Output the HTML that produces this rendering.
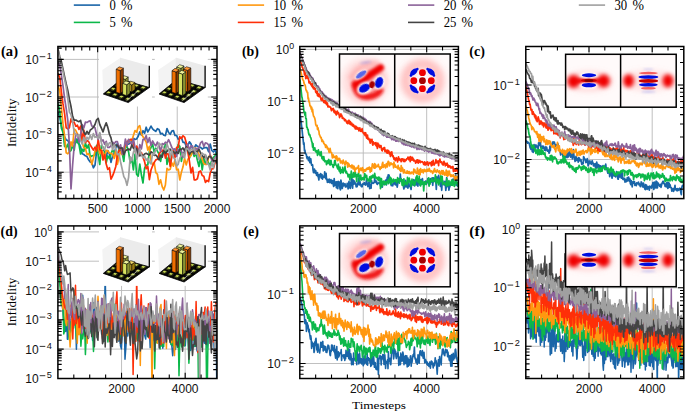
<!DOCTYPE html>
<html><head><meta charset="utf-8"><style>
html,body{margin:0;padding:0;background:#fff;}
svg{display:block;}
</style></head><body>
<svg width="685" height="411" viewBox="0 0 685 411">
<rect width="685" height="411" fill="#fff"/>
<g stroke="#b9b9b9" stroke-width="0.9"><line x1="97.67" y1="46.5" x2="97.67" y2="198.6"/><line x1="137.45" y1="46.5" x2="137.45" y2="198.6"/><line x1="177.22" y1="46.5" x2="177.22" y2="198.6"/><line x1="57.9" y1="172.2" x2="217" y2="172.2"/><line x1="57.9" y1="134.6" x2="217" y2="134.6"/><line x1="57.9" y1="97" x2="217" y2="97"/><line x1="57.9" y1="59.4" x2="217" y2="59.4"/></g><g stroke="#b9b9b9" stroke-width="0.9"><line x1="363.24" y1="46.5" x2="363.24" y2="198.6"/><line x1="426.68" y1="46.5" x2="426.68" y2="198.6"/><line x1="299.8" y1="153" x2="458.4" y2="153"/><line x1="299.8" y1="101.2" x2="458.4" y2="101.2"/><line x1="299.8" y1="49.4" x2="458.4" y2="49.4"/></g><g stroke="#b9b9b9" stroke-width="0.9"><line x1="589" y1="46.5" x2="589" y2="198.6"/><line x1="652.2" y1="46.5" x2="652.2" y2="198.6"/><line x1="525.8" y1="159.5" x2="683.8" y2="159.5"/><line x1="525.8" y1="85" x2="683.8" y2="85"/></g><g stroke="#b9b9b9" stroke-width="0.9"><line x1="121.54" y1="225.9" x2="121.54" y2="378.5"/><line x1="185.18" y1="225.9" x2="185.18" y2="378.5"/><line x1="57.9" y1="349.1" x2="217" y2="349.1"/><line x1="57.9" y1="319.8" x2="217" y2="319.8"/><line x1="57.9" y1="290.5" x2="217" y2="290.5"/><line x1="57.9" y1="261.2" x2="217" y2="261.2"/><line x1="57.9" y1="231.9" x2="217" y2="231.9"/></g><g stroke="#b9b9b9" stroke-width="0.9"><line x1="363.24" y1="225.9" x2="363.24" y2="378.5"/><line x1="426.68" y1="225.9" x2="426.68" y2="378.5"/><line x1="299.8" y1="363.5" x2="458.4" y2="363.5"/><line x1="299.8" y1="294" x2="458.4" y2="294"/></g><g stroke="#b9b9b9" stroke-width="0.9"><line x1="589" y1="225.9" x2="589" y2="378.5"/><line x1="652.2" y1="225.9" x2="652.2" y2="378.5"/><line x1="525.8" y1="346.3" x2="683.8" y2="346.3"/><line x1="525.8" y1="287.8" x2="683.8" y2="287.8"/><line x1="525.8" y1="229.3" x2="683.8" y2="229.3"/></g><clipPath id="cpa"><rect x="57.9" y="46.5" width="159.1" height="152.1"/></clipPath><g clip-path="url(#cpa)" fill="none" stroke-width="1.7" stroke-linejoin="round" stroke-linecap="round"><path d="M58.2,113.0 59.8,117.0 61.4,125.8 63.0,130.7 64.6,137.0 66.2,140.0 67.8,140.3 69.4,144.3 71.0,143.5 72.6,143.0 74.2,141.9 75.8,142.9 77.4,139.2 79.0,143.3 80.6,146.9 82.2,153.8 83.8,154.5 85.4,155.8 87.0,156.6 88.6,159.8 90.2,161.9 91.8,162.5 93.4,167.8 95.0,165.1 96.6,151.5 98.2,149.9 99.8,152.7 101.4,150.5 103.0,150.6 104.6,150.2 106.2,157.0 107.8,150.5 109.4,154.2 111.0,162.3 112.6,156.0 114.2,153.4 115.8,147.7 117.4,143.2 119.0,149.8 120.6,151.6 122.2,149.6 123.8,148.8 125.4,148.3 127.0,143.9 128.6,144.1 130.2,143.0 131.8,141.3 133.4,138.3 135.0,139.5 136.6,139.0 138.2,136.3 139.8,132.0 141.4,135.0 143.0,130.7 144.6,133.2 146.2,127.2 147.8,131.9 149.4,129.1 151.0,126.1 152.6,128.9 154.2,130.3 155.8,131.4 157.4,128.7 159.0,129.5 160.6,133.9 162.2,133.3 163.8,135.2 165.4,135.6 167.0,128.5 168.6,132.5 170.2,134.3 171.8,131.1 173.4,130.6 175.0,135.4 176.6,135.5 178.2,139.2 179.8,138.2 181.4,137.4 183.0,142.3 184.6,142.3 186.2,146.3 187.8,145.7 189.4,141.9 191.0,143.9 192.6,149.1 194.2,148.4 195.8,144.8 197.4,146.3 199.0,147.3 200.6,147.4 202.2,149.0 203.8,147.9 205.4,147.6 207.0,147.7 208.6,151.6 210.2,144.0 211.8,150.5 213.4,152.0 215.0,149.3 216.6,154.9" stroke="#1965a8"/><path d="M58.2,104.0 59.8,111.7 61.4,128.2 63.0,132.4 64.6,146.4 66.2,147.7 67.8,144.2 69.4,151.6 71.0,150.6 72.6,145.3 74.2,150.2 75.8,138.7 77.4,142.3 79.0,144.4 80.6,154.0 82.2,149.2 83.8,151.4 85.4,143.1 87.0,148.2 88.6,144.7 90.2,157.2 91.8,155.8 93.4,155.7 95.0,154.9 96.6,145.3 98.2,154.8 99.8,164.5 101.4,145.4 103.0,147.1 104.6,150.7 106.2,162.8 107.8,155.9 109.4,158.7 111.0,153.9 112.6,149.9 114.2,152.2 115.8,151.5 117.4,159.3 119.0,147.8 120.6,150.7 122.2,153.4 123.8,161.3 125.4,146.2 127.0,146.6 128.6,151.9 130.2,163.0 131.8,158.4 133.4,170.0 135.0,154.2 136.6,174.2 138.2,176.2 139.8,164.0 141.4,175.0 143.0,183.0 144.6,168.2 146.2,165.1 147.8,164.8 149.4,151.2 151.0,147.5 152.6,144.2 154.2,152.0 155.8,148.2 157.4,151.1 159.0,154.2 160.6,161.4 162.2,153.7 163.8,150.3 165.4,144.2 167.0,164.4 168.6,157.1 170.2,164.6 171.8,155.0 173.4,150.0 175.0,156.3 176.6,152.3 178.2,144.7 179.8,146.4 181.4,161.4 183.0,152.8 184.6,152.8 186.2,148.6 187.8,147.6 189.4,158.2 191.0,153.8 192.6,151.5 194.2,156.5 195.8,153.2 197.4,160.3 199.0,166.5 200.6,156.0 202.2,169.9 203.8,158.5 205.4,163.9 207.0,158.9 208.6,163.1 210.2,165.1 211.8,160.6 213.4,157.3 215.0,155.8 216.6,153.3" stroke="#0cb84a"/><path d="M58.2,86.0 59.8,91.3 61.4,107.6 63.0,123.7 64.6,136.1 66.2,152.8 67.8,153.8 69.4,151.7 71.0,141.8 72.6,146.0 74.2,129.1 75.8,130.5 77.4,133.9 79.0,135.9 80.6,137.7 82.2,142.5 83.8,147.8 85.4,148.3 87.0,154.6 88.6,153.7 90.2,157.1 91.8,164.5 93.4,158.2 95.0,150.9 96.6,147.9 98.2,147.0 99.8,154.0 101.4,149.8 103.0,152.6 104.6,157.6 106.2,150.4 107.8,150.9 109.4,153.2 111.0,153.3 112.6,154.2 114.2,158.4 115.8,149.9 117.4,164.3 119.0,157.0 120.6,151.6 122.2,154.5 123.8,152.6 125.4,146.3 127.0,141.7 128.6,142.4 130.2,139.4 131.8,140.7 133.4,135.5 135.0,130.6 136.6,132.2 138.2,127.0 139.8,125.7 141.4,133.6 143.0,136.8 144.6,139.1 146.2,142.2 147.8,150.1 149.4,146.3 151.0,160.7 152.6,164.7 154.2,162.6 155.8,172.6 157.4,174.2 159.0,184.3 160.6,179.9 162.2,186.6 163.8,190.0 165.4,185.0 167.0,168.3 168.6,170.0 170.2,169.2 171.8,162.8 173.4,166.2 175.0,159.6 176.6,169.8 178.2,169.2 179.8,180.0 181.4,172.2 183.0,166.8 184.6,158.4 186.2,164.9 187.8,159.5 189.4,157.0 191.0,155.7 192.6,150.7 194.2,147.7 195.8,148.2 197.4,149.2 199.0,158.4 200.6,153.1 202.2,159.3 203.8,163.6 205.4,164.5 207.0,164.3 208.6,157.3 210.2,154.5 211.8,158.9 213.4,161.7 215.0,159.3 216.6,156.7" stroke="#ff980f"/><path d="M58.2,74.0 59.8,77.7 61.4,91.8 63.0,103.9 64.6,113.7 66.2,127.8 67.8,128.8 69.4,127.7 71.0,118.8 72.6,122.6 74.2,122.2 75.8,126.2 77.4,125.2 79.0,129.4 80.6,126.1 82.2,141.0 83.8,130.1 85.4,142.6 87.0,140.6 88.6,141.5 90.2,144.9 91.8,147.5 93.4,150.1 95.0,147.1 96.6,151.0 98.2,139.5 99.8,149.5 101.4,150.6 103.0,160.0 104.6,154.5 106.2,164.0 107.8,169.5 109.4,167.7 111.0,179.1 112.6,175.9 114.2,171.6 115.8,166.4 117.4,155.0 119.0,150.6 120.6,148.8 122.2,150.6 123.8,149.6 125.4,143.2 127.0,142.2 128.6,140.2 130.2,139.6 131.8,139.4 133.4,141.9 135.0,151.7 136.6,146.0 138.2,149.4 139.8,154.5 141.4,152.6 143.0,157.1 144.6,161.7 146.2,168.7 147.8,166.4 149.4,179.6 151.0,170.0 152.6,165.8 154.2,162.5 155.8,159.9 157.4,159.2 159.0,154.3 160.6,151.7 162.2,151.3 163.8,149.0 165.4,158.2 167.0,153.7 168.6,154.1 170.2,166.4 171.8,156.6 173.4,150.5 175.0,157.7 176.6,147.3 178.2,147.3 179.8,136.7 181.4,138.5 183.0,135.8 184.6,137.1 186.2,142.6 187.8,151.9 189.4,161.2 191.0,172.9 192.6,167.4 194.2,179.9 195.8,179.9 197.4,178.7 199.0,171.8 200.6,171.0 202.2,175.5 203.8,176.3 205.4,182.4 207.0,180.4 208.6,181.7 210.2,173.0 211.8,168.8 213.4,168.6 215.0,163.1 216.6,157.9" stroke="#fe2f08"/><path d="M58.2,63.0 59.8,65.5 61.4,75.2 63.0,85.9 64.6,98.3 66.2,108.5 67.8,120.3 69.4,144.9 71.0,189.0 72.6,165.2 74.2,145.6 75.8,135.1 77.4,134.3 79.0,142.1 80.6,134.7 82.2,124.7 83.8,128.0 85.4,122.2 87.0,122.5 88.6,121.4 90.2,120.8 91.8,126.0 93.4,126.6 95.0,127.8 96.6,134.7 98.2,139.5 99.8,133.5 101.4,141.4 103.0,139.9 104.6,144.2 106.2,141.3 107.8,147.5 109.4,147.4 111.0,145.7 112.6,142.2 114.2,143.9 115.8,141.5 117.4,141.6 119.0,148.7 120.6,144.9 122.2,154.2 123.8,150.9 125.4,139.1 127.0,146.0 128.6,139.3 130.2,142.4 131.8,144.4 133.4,138.8 135.0,147.4 136.6,149.3 138.2,155.3 139.8,144.5 141.4,148.9 143.0,139.3 144.6,139.4 146.2,135.7 147.8,142.6 149.4,137.7 151.0,145.5 152.6,141.0 154.2,144.0 155.8,145.9 157.4,142.1 159.0,145.7 160.6,151.5 162.2,143.6 163.8,144.4 165.4,142.2 167.0,143.2 168.6,139.7 170.2,143.2 171.8,147.4 173.4,149.6 175.0,148.8 176.6,156.4 178.2,149.3 179.8,150.7 181.4,150.7 183.0,157.3 184.6,150.5 186.2,146.4 187.8,144.0 189.4,150.4 191.0,145.9 192.6,146.1 194.2,154.2 195.8,148.4 197.4,149.2 199.0,147.4 200.6,142.8 202.2,141.3 203.8,146.6 205.4,142.9 207.0,143.3 208.6,144.9 210.2,155.8 211.8,160.1 213.4,161.8 215.0,157.7 216.6,156.2" stroke="#8b6299"/><path d="M58.2,50.0 59.8,56.9 61.4,61.6 63.0,69.2 64.6,76.6 66.2,83.9 67.8,90.4 69.4,99.2 71.0,106.5 72.6,116.3 74.2,120.4 75.8,120.0 77.4,121.0 79.0,121.7 80.6,120.4 82.2,127.9 83.8,131.9 85.4,134.5 87.0,131.3 88.6,134.2 90.2,130.2 91.8,128.9 93.4,127.4 95.0,124.5 96.6,119.8 98.2,118.4 99.8,124.6 101.4,128.2 103.0,131.9 104.6,126.7 106.2,122.8 107.8,127.4 109.4,134.0 111.0,137.8 112.6,145.9 114.2,144.4 115.8,145.5 117.4,145.1 119.0,148.0 120.6,148.1 122.2,147.9 123.8,154.6 125.4,150.9 127.0,149.8 128.6,149.1 130.2,150.0 131.8,144.9 133.4,148.2 135.0,149.2 136.6,148.4 138.2,154.6 139.8,155.9 141.4,154.5 143.0,155.8 144.6,154.0 146.2,153.3 147.8,154.3 149.4,155.0 151.0,151.8 152.6,153.0 154.2,155.4 155.8,155.0 157.4,157.1 159.0,159.9 160.6,155.1 162.2,157.2 163.8,150.7 165.4,153.4 167.0,151.4 168.6,149.3 170.2,149.1 171.8,151.8 173.4,151.9 175.0,153.7 176.6,151.9 178.2,153.4 179.8,149.2 181.4,149.4 183.0,148.0 184.6,150.8 186.2,146.9 187.8,150.1 189.4,154.2 191.0,152.0 192.6,151.3 194.2,153.1 195.8,150.9 197.4,151.9 199.0,149.3 200.6,153.0 202.2,155.4 203.8,157.7 205.4,155.1 207.0,160.5 208.6,156.9 210.2,156.4 211.8,158.1 213.4,160.9 215.0,160.7 216.6,162.8" stroke="#444444"/><path d="M58.2,51.0 59.8,58.3 61.4,65.3 63.0,71.7 64.6,79.6 66.2,86.8 67.8,98.3 69.4,112.1 71.0,114.6 72.6,121.9 74.2,132.2 75.8,134.3 77.4,136.1 79.0,134.8 80.6,140.3 82.2,144.0 83.8,137.3 85.4,141.6 87.0,137.2 88.6,139.4 90.2,135.3 91.8,139.4 93.4,133.5 95.0,137.3 96.6,136.7 98.2,138.4 99.8,132.6 101.4,143.1 103.0,147.9 104.6,150.1 106.2,142.9 107.8,145.8 109.4,142.9 111.0,142.6 112.6,149.7 114.2,144.5 115.8,149.3 117.4,154.6 119.0,153.8 120.6,162.0 122.2,169.3 123.8,176.6 125.4,179.2 127.0,185.3 128.6,177.3 130.2,156.8 131.8,160.6 133.4,152.4 135.0,148.2 136.6,159.2 138.2,155.5 139.8,149.1 141.4,154.9 143.0,157.8 144.6,155.9 146.2,160.2 147.8,158.4 149.4,162.1 151.0,163.9 152.6,153.6 154.2,154.5 155.8,149.6 157.4,149.4 159.0,143.1 160.6,144.7 162.2,145.5 163.8,148.9 165.4,150.1 167.0,143.7 168.6,148.7 170.2,157.1 171.8,150.1 173.4,157.2 175.0,159.6 176.6,165.8 178.2,164.3 179.8,158.1 181.4,155.5 183.0,153.6 184.6,157.8 186.2,148.4 187.8,148.9 189.4,151.3 191.0,149.5 192.6,149.9 194.2,148.0 195.8,153.8 197.4,153.7 199.0,159.7 200.6,156.7 202.2,153.1 203.8,154.7 205.4,154.5 207.0,164.0 208.6,164.2 210.2,170.1 211.8,162.3 213.4,167.8 215.0,159.4 216.6,157.3" stroke="#a0a0a0"/></g><clipPath id="cpb"><rect x="299.8" y="46.5" width="158.59999999999997" height="152.1"/></clipPath><g clip-path="url(#cpb)" fill="none" stroke-width="1.7" stroke-linejoin="round" stroke-linecap="round"><path d="M300.0,112.0 300.4,116.2 300.9,120.3 301.3,123.6 301.8,127.5 302.2,131.1 302.7,136.1 303.1,139.3 303.6,144.3 304.0,142.7 304.5,151.0 304.9,150.0 305.4,153.7 305.8,153.8 306.3,154.3 306.7,157.1 307.2,158.7 307.6,156.8 308.1,157.7 308.5,160.7 309.0,157.8 309.4,157.1 309.9,162.7 310.3,161.0 310.8,158.9 311.2,163.0 311.7,165.2 312.1,164.6 312.6,165.0 313.0,169.8 313.5,172.6 313.9,170.2 314.4,169.1 314.8,172.0 315.3,173.0 315.7,170.7 316.2,173.2 316.6,175.3 317.1,173.1 317.5,172.6 318.0,176.5 318.4,177.2 318.9,180.0 319.3,174.6 319.8,176.5 320.2,176.0 320.7,173.5 321.1,177.8 321.6,178.2 322.0,174.5 322.5,179.1 322.9,177.3 323.4,176.5 323.8,175.8 324.3,177.2 324.7,171.9 325.2,177.4 325.6,178.3 326.1,173.4 326.5,179.7 327.0,179.1 327.4,182.3 327.9,179.7 328.3,181.1 328.8,182.1 329.2,179.0 329.7,182.6 330.1,180.7 330.6,182.1 331.0,179.5 331.5,183.5 331.9,182.4 332.4,180.5 332.8,182.8 333.3,184.7 333.7,186.5 334.2,178.6 334.6,185.3 335.1,184.8 335.5,183.8 336.0,181.8 336.4,187.8 336.9,181.9 337.3,186.7 337.8,188.6 338.2,181.3 338.7,184.4 339.1,181.8 339.6,185.6 340.0,188.6 340.5,189.8 340.9,180.1 341.4,183.0 341.8,186.2 342.3,188.5 342.7,185.8 343.2,183.1 343.6,185.8 344.1,185.1 344.5,184.7 345.0,183.7 345.4,186.8 345.9,187.1 346.3,186.3 346.8,186.1 347.2,183.3 347.7,184.9 348.1,188.9 348.6,185.0 349.0,181.4 349.5,187.7 349.9,185.0 350.4,188.3 350.8,182.7 351.3,181.0 351.7,178.3 352.2,185.1 352.6,188.2 353.1,179.9 353.5,180.6 354.0,184.2 354.4,181.1 354.9,182.8 355.3,182.9 355.8,184.4 356.2,186.9 356.7,184.3 357.1,186.6 357.6,183.1 358.0,184.7 358.5,178.2 358.9,179.5 359.4,184.8 359.8,181.1 360.3,184.0 360.7,184.1 361.2,186.4 361.6,185.7 362.1,186.8 362.5,184.6 363.0,183.6 363.4,183.7 363.9,184.3 364.3,182.6 364.8,183.8 365.2,184.6 365.7,185.0 366.1,183.1 366.6,178.9 367.0,183.5 367.5,184.3 367.9,186.6 368.4,185.4 368.8,182.3 369.3,182.0 369.7,188.6 370.2,185.2 370.6,187.6 371.1,188.1 371.5,180.5 372.0,183.2 372.4,183.1 372.9,183.3 373.3,183.3 373.8,182.5 374.2,182.6 374.7,178.5 375.1,181.9 375.6,180.5 376.0,182.7 376.5,181.2 376.9,183.8 377.4,184.3 377.8,183.2 378.3,183.4 378.7,183.1 379.2,182.2 379.6,183.5 380.1,183.3 380.5,186.0 381.0,185.4 381.4,186.9 381.9,182.0 382.3,187.2 382.8,182.8 383.2,182.6 383.7,183.8 384.1,182.7 384.6,184.5 385.0,181.9 385.5,180.2 385.9,180.1 386.4,184.8 386.8,180.8 387.3,177.0 387.7,179.2 388.2,174.8 388.6,183.1 389.1,175.2 389.5,180.9 390.0,182.0 390.4,178.1 390.9,183.3 391.3,185.7 391.8,184.7 392.2,184.3 392.7,185.8 393.1,183.6 393.6,183.6 394.0,182.2 394.5,184.0 394.9,180.2 395.4,184.8 395.8,181.8 396.3,180.5 396.7,184.1 397.2,187.1 397.6,184.7 398.1,180.2 398.5,182.4 399.0,178.9 399.4,179.4 399.9,179.9 400.3,174.1 400.8,181.1 401.2,178.9 401.7,180.7 402.1,179.7 402.6,180.3 403.0,182.3 403.5,186.9 403.9,189.0 404.4,184.7 404.8,187.4 405.3,184.2 405.7,180.3 406.2,185.7 406.6,186.8 407.1,184.9 407.5,187.0 408.0,188.0 408.4,184.7 408.9,183.3 409.3,186.5 409.8,186.3 410.2,185.5 410.7,188.3 411.1,189.5 411.6,183.2 412.0,185.1 412.5,184.7 412.9,183.4 413.4,183.6 413.8,179.7 414.3,182.5 414.7,185.9 415.2,183.2 415.6,179.8 416.1,183.1 416.5,184.9 417.0,182.9 417.4,180.7 417.9,186.1 418.3,179.2 418.8,183.7 419.2,182.5 419.7,179.5 420.1,185.5 420.6,183.4 421.0,179.7 421.5,184.3 421.9,182.0 422.4,178.6 422.8,181.9 423.3,184.3 423.7,184.9 424.2,183.2 424.6,182.4 425.1,183.0 425.5,181.1 426.0,184.4 426.4,181.8 426.9,182.1 427.3,182.7 427.8,178.6 428.2,179.3 428.7,184.6 429.1,181.2 429.6,179.2 430.0,180.6 430.5,178.7 430.9,181.1 431.4,179.3 431.8,182.2 432.3,177.9 432.7,185.3 433.2,180.6 433.6,177.8 434.1,181.1 434.5,180.5 435.0,181.6 435.4,178.1 435.9,181.6 436.3,189.4 436.8,176.8 437.2,180.6 437.7,178.9 438.1,180.2 438.6,175.4 439.0,177.4 439.5,182.1 439.9,181.6 440.4,186.4 440.8,181.1 441.3,183.5 441.7,190.3 442.2,181.1 442.6,180.6 443.1,182.7 443.5,182.6 444.0,184.9 444.4,183.3 444.9,181.3 445.3,184.0 445.8,190.5 446.2,187.4 446.7,177.6 447.1,184.5 447.6,182.9 448.0,186.8 448.5,185.0 448.9,190.2 449.4,187.4 449.8,186.8 450.3,184.4 450.7,183.1 451.2,183.2 451.6,184.7 452.1,182.0 452.5,179.3 453.0,183.0 453.4,180.2 453.9,179.7 454.3,178.2 454.8,179.3 455.2,179.7 455.7,175.0 456.1,185.1 456.6,184.4 457.0,182.7 457.5,186.0 457.9,184.5" stroke="#1965a8"/><path d="M300.0,80.0 300.4,84.0 300.9,88.0 301.3,92.1 301.8,96.8 302.2,98.1 302.7,101.8 303.1,104.0 303.6,108.4 304.0,112.0 304.5,112.3 304.9,115.1 305.4,112.3 305.8,118.7 306.3,118.7 306.7,127.2 307.2,127.4 307.6,129.7 308.1,129.3 308.5,132.8 309.0,134.9 309.4,134.3 309.9,135.0 310.3,137.2 310.8,137.6 311.2,139.3 311.7,141.7 312.1,142.3 312.6,147.2 313.0,143.5 313.5,150.1 313.9,147.9 314.4,149.0 314.8,147.9 315.3,151.2 315.7,151.2 316.2,152.2 316.6,150.5 317.1,151.7 317.5,155.3 318.0,152.0 318.4,149.9 318.9,153.8 319.3,152.1 319.8,154.6 320.2,155.6 320.7,154.2 321.1,151.7 321.6,156.0 322.0,158.7 322.5,156.9 322.9,158.9 323.4,160.2 323.8,156.7 324.3,160.7 324.7,161.6 325.2,160.6 325.6,161.2 326.1,161.5 326.5,164.7 327.0,160.8 327.4,161.2 327.9,163.3 328.3,160.5 328.8,159.5 329.2,161.4 329.7,164.5 330.1,165.0 330.6,160.8 331.0,160.3 331.5,164.1 331.9,164.5 332.4,164.9 332.8,166.4 333.3,167.4 333.7,164.7 334.2,165.1 334.6,160.8 335.1,160.3 335.5,163.5 336.0,164.9 336.4,165.7 336.9,166.2 337.3,167.7 337.8,168.8 338.2,164.0 338.7,167.2 339.1,170.6 339.6,171.5 340.0,167.1 340.5,173.3 340.9,169.7 341.4,170.1 341.8,171.2 342.3,172.3 342.7,167.4 343.2,172.9 343.6,170.9 344.1,169.2 344.5,170.7 345.0,166.7 345.4,170.5 345.9,172.8 346.3,171.3 346.8,172.6 347.2,173.5 347.7,174.4 348.1,176.9 348.6,174.8 349.0,174.5 349.5,176.4 349.9,179.9 350.4,174.3 350.8,176.0 351.3,171.1 351.7,177.6 352.2,176.0 352.6,177.7 353.1,174.7 353.5,172.6 354.0,177.0 354.4,176.8 354.9,173.3 355.3,172.1 355.8,176.6 356.2,175.4 356.7,181.7 357.1,174.5 357.6,174.9 358.0,176.1 358.5,172.9 358.9,175.0 359.4,180.9 359.8,177.2 360.3,176.3 360.7,175.1 361.2,179.6 361.6,180.0 362.1,179.2 362.5,177.8 363.0,179.3 363.4,179.4 363.9,177.1 364.3,179.9 364.8,173.6 365.2,175.3 365.7,177.3 366.1,177.6 366.6,175.3 367.0,178.8 367.5,180.7 367.9,179.6 368.4,179.4 368.8,181.0 369.3,180.2 369.7,176.8 370.2,178.8 370.6,182.0 371.1,176.2 371.5,178.5 372.0,177.1 372.4,175.7 372.9,175.2 373.3,177.4 373.8,177.6 374.2,177.5 374.7,173.3 375.1,175.8 375.6,177.0 376.0,178.2 376.5,177.5 376.9,178.2 377.4,179.4 377.8,179.7 378.3,177.2 378.7,180.4 379.2,180.0 379.6,177.3 380.1,179.7 380.5,188.7 381.0,181.5 381.4,178.7 381.9,182.0 382.3,186.1 382.8,182.1 383.2,182.7 383.7,181.0 384.1,181.5 384.6,184.7 385.0,183.7 385.5,181.8 385.9,184.1 386.4,184.4 386.8,181.3 387.3,182.2 387.7,181.9 388.2,179.7 388.6,183.6 389.1,180.5 389.5,179.3 390.0,177.0 390.4,177.9 390.9,184.3 391.3,178.4 391.8,181.9 392.2,180.1 392.7,182.1 393.1,182.4 393.6,179.2 394.0,180.3 394.5,181.2 394.9,181.1 395.4,180.6 395.8,179.7 396.3,181.6 396.7,182.8 397.2,180.8 397.6,177.5 398.1,179.8 398.5,178.9 399.0,179.9 399.4,183.2 399.9,179.0 400.3,180.0 400.8,178.5 401.2,180.3 401.7,180.0 402.1,185.1 402.6,182.2 403.0,180.3 403.5,186.0 403.9,178.8 404.4,183.9 404.8,184.5 405.3,183.8 405.7,182.2 406.2,182.7 406.6,182.2 407.1,184.6 407.5,177.3 408.0,181.2 408.4,182.6 408.9,180.9 409.3,178.2 409.8,182.0 410.2,181.1 410.7,184.8 411.1,186.4 411.6,183.5 412.0,179.0 412.5,182.6 412.9,180.6 413.4,183.7 413.8,185.4 414.3,181.7 414.7,185.0 415.2,183.3 415.6,181.0 416.1,177.0 416.5,179.1 417.0,175.5 417.4,181.2 417.9,179.4 418.3,182.6 418.8,180.6 419.2,176.2 419.7,182.6 420.1,183.7 420.6,185.9 421.0,180.5 421.5,181.2 421.9,184.1 422.4,182.0 422.8,181.7 423.3,182.6 423.7,191.0 424.2,183.4 424.6,181.9 425.1,182.3 425.5,182.4 426.0,184.4 426.4,183.0 426.9,182.3 427.3,180.6 427.8,181.0 428.2,179.5 428.7,177.8 429.1,186.1 429.6,180.7 430.0,184.1 430.5,181.2 430.9,181.7 431.4,181.3 431.8,178.3 432.3,180.9 432.7,181.4 433.2,181.7 433.6,180.4 434.1,181.2 434.5,179.5 435.0,178.9 435.4,174.8 435.9,178.5 436.3,183.6 436.8,180.8 437.2,182.5 437.7,180.3 438.1,179.1 438.6,185.0 439.0,180.9 439.5,183.4 439.9,181.4 440.4,179.8 440.8,175.8 441.3,181.3 441.7,177.8 442.2,176.5 442.6,184.5 443.1,183.6 443.5,183.6 444.0,182.5 444.4,182.7 444.9,184.1 445.3,184.0 445.8,184.2 446.2,185.9 446.7,178.7 447.1,185.9 447.6,182.1 448.0,185.0 448.5,185.4 448.9,180.7 449.4,184.5 449.8,184.9 450.3,182.1 450.7,183.1 451.2,185.1 451.6,180.1 452.1,184.2 452.5,185.3 453.0,183.4 453.4,180.2 453.9,182.4 454.3,186.4 454.8,185.7 455.2,182.4 455.7,180.9 456.1,182.9 456.6,183.3 457.0,182.1 457.5,183.3 457.9,185.9" stroke="#0cb84a"/><path d="M300.0,68.0 300.4,69.5 300.9,71.8 301.3,73.4 301.8,75.8 302.2,77.2 302.7,79.7 303.1,79.9 303.6,80.8 304.0,83.1 304.5,84.3 304.9,84.7 305.4,86.1 305.8,88.9 306.3,90.7 306.7,90.7 307.2,92.6 307.6,92.3 308.1,98.9 308.5,98.0 309.0,101.9 309.4,102.0 309.9,105.6 310.3,106.5 310.8,106.2 311.2,109.2 311.7,107.2 312.1,111.8 312.6,109.3 313.0,113.3 313.5,116.0 313.9,116.5 314.4,117.4 314.8,118.5 315.3,120.9 315.7,124.5 316.2,125.8 316.6,125.5 317.1,125.4 317.5,129.4 318.0,127.7 318.4,130.2 318.9,131.2 319.3,134.6 319.8,135.1 320.2,136.6 320.7,137.6 321.1,137.3 321.6,139.6 322.0,141.5 322.5,140.1 322.9,141.7 323.4,141.3 323.8,143.5 324.3,143.7 324.7,144.7 325.2,144.7 325.6,147.3 326.1,145.2 326.5,146.0 327.0,146.4 327.4,148.9 327.9,147.9 328.3,148.6 328.8,151.2 329.2,152.5 329.7,152.4 330.1,148.4 330.6,151.5 331.0,152.1 331.5,152.5 331.9,154.3 332.4,157.9 332.8,155.2 333.3,155.0 333.7,157.4 334.2,156.9 334.6,157.3 335.1,156.5 335.5,157.8 336.0,158.8 336.4,155.9 336.9,156.6 337.3,160.7 337.8,160.6 338.2,158.9 338.7,158.4 339.1,159.7 339.6,158.5 340.0,159.9 340.5,163.0 340.9,161.0 341.4,162.7 341.8,161.0 342.3,162.0 342.7,163.7 343.2,160.0 343.6,161.6 344.1,162.2 344.5,163.0 345.0,165.1 345.4,164.1 345.9,161.2 346.3,163.2 346.8,162.6 347.2,162.8 347.7,167.2 348.1,163.0 348.6,165.1 349.0,164.0 349.5,166.5 349.9,166.0 350.4,165.9 350.8,165.9 351.3,167.8 351.7,165.1 352.2,165.7 352.6,165.3 353.1,169.0 353.5,167.0 354.0,166.2 354.4,167.3 354.9,171.6 355.3,168.0 355.8,169.4 356.2,169.0 356.7,168.4 357.1,167.5 357.6,168.1 358.0,168.1 358.5,165.6 358.9,172.5 359.4,170.2 359.8,169.1 360.3,168.8 360.7,168.1 361.2,170.6 361.6,169.1 362.1,170.2 362.5,167.7 363.0,170.3 363.4,172.7 363.9,169.5 364.3,171.0 364.8,169.8 365.2,171.2 365.7,171.0 366.1,169.4 366.6,168.4 367.0,169.4 367.5,168.9 367.9,167.8 368.4,169.2 368.8,169.0 369.3,167.0 369.7,167.9 370.2,172.1 370.6,169.0 371.1,167.8 371.5,171.1 372.0,166.8 372.4,163.8 372.9,164.5 373.3,164.9 373.8,167.3 374.2,168.2 374.7,163.7 375.1,168.2 375.6,164.7 376.0,166.7 376.5,166.9 376.9,166.7 377.4,166.0 377.8,166.2 378.3,164.3 378.7,166.3 379.2,167.3 379.6,167.2 380.1,169.5 380.5,167.3 381.0,166.8 381.4,168.1 381.9,166.0 382.3,163.8 382.8,162.4 383.2,167.4 383.7,166.3 384.1,166.6 384.6,164.9 385.0,165.8 385.5,167.9 385.9,165.7 386.4,163.6 386.8,164.5 387.3,167.0 387.7,163.5 388.2,161.3 388.6,161.6 389.1,162.9 389.5,165.9 390.0,164.9 390.4,163.6 390.9,162.8 391.3,164.4 391.8,164.3 392.2,163.9 392.7,164.5 393.1,164.0 393.6,167.8 394.0,162.1 394.5,165.9 394.9,164.5 395.4,167.1 395.8,166.0 396.3,167.1 396.7,167.5 397.2,167.2 397.6,168.6 398.1,165.4 398.5,168.9 399.0,167.5 399.4,168.5 399.9,170.4 400.3,170.0 400.8,171.4 401.2,165.6 401.7,167.7 402.1,170.8 402.6,168.2 403.0,169.9 403.5,173.0 403.9,172.2 404.4,169.9 404.8,172.3 405.3,172.9 405.7,172.5 406.2,172.6 406.6,173.2 407.1,170.8 407.5,173.1 408.0,171.5 408.4,173.4 408.9,173.4 409.3,171.5 409.8,173.6 410.2,173.2 410.7,172.6 411.1,173.6 411.6,172.1 412.0,172.1 412.5,172.6 412.9,172.4 413.4,174.1 413.8,169.0 414.3,171.9 414.7,169.5 415.2,171.5 415.6,172.6 416.1,172.2 416.5,173.5 417.0,172.5 417.4,168.2 417.9,170.4 418.3,174.2 418.8,174.1 419.2,172.0 419.7,169.6 420.1,174.8 420.6,168.7 421.0,172.1 421.5,171.5 421.9,171.9 422.4,169.8 422.8,170.9 423.3,172.9 423.7,170.6 424.2,169.3 424.6,171.2 425.1,171.3 425.5,170.9 426.0,169.9 426.4,171.7 426.9,170.7 427.3,169.2 427.8,171.1 428.2,170.7 428.7,170.9 429.1,168.3 429.6,169.5 430.0,171.2 430.5,171.8 430.9,171.0 431.4,170.8 431.8,171.7 432.3,172.2 432.7,173.4 433.2,171.7 433.6,170.3 434.1,171.9 434.5,168.5 435.0,171.5 435.4,170.8 435.9,171.5 436.3,172.4 436.8,171.8 437.2,169.8 437.7,171.4 438.1,170.9 438.6,172.1 439.0,172.7 439.5,170.9 439.9,173.4 440.4,174.3 440.8,172.2 441.3,173.7 441.7,170.6 442.2,172.1 442.6,174.3 443.1,170.5 443.5,172.4 444.0,172.0 444.4,175.0 444.9,175.2 445.3,172.8 445.8,174.0 446.2,170.2 446.7,175.3 447.1,174.7 447.6,176.2 448.0,171.1 448.5,175.1 448.9,174.2 449.4,171.1 449.8,174.0 450.3,175.0 450.7,176.4 451.2,175.7 451.6,174.9 452.1,176.4 452.5,175.8 453.0,175.2 453.4,174.8 453.9,176.7 454.3,176.8 454.8,179.4 455.2,176.3 455.7,179.4 456.1,177.8 456.6,179.1 457.0,176.4 457.5,176.6 457.9,177.5" stroke="#ff980f"/><path d="M300.0,61.0 300.4,62.0 300.9,62.9 301.3,63.4 301.8,65.3 302.2,67.3 302.7,67.7 303.1,69.2 303.6,70.8 304.0,70.2 304.5,75.0 304.9,72.0 305.4,74.4 305.8,78.6 306.3,75.4 306.7,76.5 307.2,76.4 307.6,78.5 308.1,75.7 308.5,78.7 309.0,82.9 309.4,81.6 309.9,81.8 310.3,83.5 310.8,84.4 311.2,84.8 311.7,86.0 312.1,83.4 312.6,87.3 313.0,86.1 313.5,88.8 313.9,88.3 314.4,87.5 314.8,89.4 315.3,88.7 315.7,92.2 316.2,91.4 316.6,93.3 317.1,91.0 317.5,95.6 318.0,93.4 318.4,96.5 318.9,96.4 319.3,94.1 319.8,96.8 320.2,96.1 320.7,98.0 321.1,100.0 321.6,99.4 322.0,100.5 322.5,97.7 322.9,100.2 323.4,101.0 323.8,102.5 324.3,100.6 324.7,102.8 325.2,103.1 325.6,100.8 326.1,102.0 326.5,104.6 327.0,102.8 327.4,103.2 327.9,106.8 328.3,106.4 328.8,106.1 329.2,107.0 329.7,106.7 330.1,106.9 330.6,107.4 331.0,109.0 331.5,110.7 331.9,108.5 332.4,109.5 332.8,109.7 333.3,108.5 333.7,111.1 334.2,112.4 334.6,110.3 335.1,113.1 335.5,111.5 336.0,114.4 336.4,114.9 336.9,112.9 337.3,111.0 337.8,113.7 338.2,112.5 338.7,113.0 339.1,114.9 339.6,117.6 340.0,115.8 340.5,116.0 340.9,113.9 341.4,116.1 341.8,115.3 342.3,118.4 342.7,117.2 343.2,118.3 343.6,118.6 344.1,118.7 344.5,120.7 345.0,120.4 345.4,119.6 345.9,120.6 346.3,121.5 346.8,123.0 347.2,121.4 347.7,123.6 348.1,121.0 348.6,121.8 349.0,120.2 349.5,123.9 349.9,121.4 350.4,121.7 350.8,124.7 351.3,123.0 351.7,123.0 352.2,125.7 352.6,124.4 353.1,126.2 353.5,124.6 354.0,126.5 354.4,127.3 354.9,126.2 355.3,129.0 355.8,126.1 356.2,126.7 356.7,127.5 357.1,129.2 357.6,127.6 358.0,127.8 358.5,129.1 358.9,130.9 359.4,128.8 359.8,127.9 360.3,129.9 360.7,131.3 361.2,130.0 361.6,131.3 362.1,128.7 362.5,131.8 363.0,132.2 363.4,133.3 363.9,133.3 364.3,134.6 364.8,132.6 365.2,135.6 365.7,132.8 366.1,135.0 366.6,138.1 367.0,138.3 367.5,135.0 367.9,139.1 368.4,138.2 368.8,138.3 369.3,140.4 369.7,140.9 370.2,143.1 370.6,139.3 371.1,141.0 371.5,141.6 372.0,139.4 372.4,144.0 372.9,145.1 373.3,141.9 373.8,143.6 374.2,142.9 374.7,143.9 375.1,142.8 375.6,145.2 376.0,142.6 376.5,146.5 376.9,145.3 377.4,148.5 377.8,143.0 378.3,145.6 378.7,144.3 379.2,146.3 379.6,147.5 380.1,145.9 380.5,145.5 381.0,145.5 381.4,148.7 381.9,150.6 382.3,150.8 382.8,149.3 383.2,148.0 383.7,149.1 384.1,147.6 384.6,147.7 385.0,151.7 385.5,150.0 385.9,151.0 386.4,150.3 386.8,152.8 387.3,153.2 387.7,150.2 388.2,150.9 388.6,150.7 389.1,153.7 389.5,153.9 390.0,152.2 390.4,156.5 390.9,153.8 391.3,152.5 391.8,151.9 392.2,155.2 392.7,156.5 393.1,155.7 393.6,157.7 394.0,159.4 394.5,158.0 394.9,159.4 395.4,160.7 395.8,159.1 396.3,157.7 396.7,159.3 397.2,159.6 397.6,162.0 398.1,158.4 398.5,156.9 399.0,159.7 399.4,159.9 399.9,158.9 400.3,160.5 400.8,160.2 401.2,161.7 401.7,158.8 402.1,158.9 402.6,159.8 403.0,159.0 403.5,161.5 403.9,160.4 404.4,159.4 404.8,161.6 405.3,160.0 405.7,160.6 406.2,160.2 406.6,158.8 407.1,158.7 407.5,158.8 408.0,157.1 408.4,158.1 408.9,159.8 409.3,158.9 409.8,157.0 410.2,161.7 410.7,156.6 411.1,159.0 411.6,159.2 412.0,160.2 412.5,157.4 412.9,158.9 413.4,158.8 413.8,161.0 414.3,160.2 414.7,160.5 415.2,160.9 415.6,163.2 416.1,161.6 416.5,162.1 417.0,159.8 417.4,162.4 417.9,159.8 418.3,163.2 418.8,162.3 419.2,160.8 419.7,160.5 420.1,162.1 420.6,162.5 421.0,161.5 421.5,161.9 421.9,162.0 422.4,161.7 422.8,162.2 423.3,163.0 423.7,164.5 424.2,163.6 424.6,161.9 425.1,165.1 425.5,164.5 426.0,162.5 426.4,164.4 426.9,162.2 427.3,161.9 427.8,162.0 428.2,165.5 428.7,163.3 429.1,163.6 429.6,163.2 430.0,162.4 430.5,163.7 430.9,163.9 431.4,165.8 431.8,161.7 432.3,165.1 432.7,163.8 433.2,160.3 433.6,164.2 434.1,165.1 434.5,164.3 435.0,163.0 435.4,162.9 435.9,159.7 436.3,163.0 436.8,162.8 437.2,161.1 437.7,162.7 438.1,161.4 438.6,165.6 439.0,160.6 439.5,161.0 439.9,159.1 440.4,161.6 440.8,162.5 441.3,162.5 441.7,161.8 442.2,164.2 442.6,163.5 443.1,165.1 443.5,163.5 444.0,161.3 444.4,163.9 444.9,162.9 445.3,165.8 445.8,163.9 446.2,164.6 446.7,165.2 447.1,163.2 447.6,165.1 448.0,167.2 448.5,165.3 448.9,166.1 449.4,166.8 449.8,165.8 450.3,166.6 450.7,167.9 451.2,167.0 451.6,167.8 452.1,167.8 452.5,166.7 453.0,166.6 453.4,171.5 453.9,170.9 454.3,169.0 454.8,170.7 455.2,171.2 455.7,171.2 456.1,169.5 456.6,168.2 457.0,168.7 457.5,170.4 457.9,173.0" stroke="#fe2f08"/><path d="M300.0,53.0 300.4,54.1 300.9,55.3 301.3,56.3 301.8,57.6 302.2,58.8 302.7,59.4 303.1,61.2 303.6,61.8 304.0,64.0 304.5,64.6 304.9,65.1 305.4,66.6 305.8,67.7 306.3,68.9 306.7,70.7 307.2,70.9 307.6,72.3 308.1,72.4 308.5,72.6 309.0,72.5 309.4,73.2 309.9,74.9 310.3,75.9 310.8,77.1 311.2,76.5 311.7,77.6 312.1,77.8 312.6,78.7 313.0,78.3 313.5,80.8 313.9,80.7 314.4,81.7 314.8,82.8 315.3,83.4 315.7,83.1 316.2,85.4 316.6,85.5 317.1,86.0 317.5,85.9 318.0,86.0 318.4,86.6 318.9,88.0 319.3,88.8 319.8,88.9 320.2,91.1 320.7,90.8 321.1,91.8 321.6,92.4 322.0,91.8 322.5,93.6 322.9,93.9 323.4,93.5 323.8,95.3 324.3,96.1 324.7,96.4 325.2,96.7 325.6,95.6 326.1,96.6 326.5,96.7 327.0,97.4 327.4,97.7 327.9,98.6 328.3,98.7 328.8,98.1 329.2,99.4 329.7,100.1 330.1,99.7 330.6,98.9 331.0,99.7 331.5,100.2 331.9,99.7 332.4,100.8 332.8,100.4 333.3,101.9 333.7,102.1 334.2,101.9 334.6,101.5 335.1,102.7 335.5,102.4 336.0,102.6 336.4,103.9 336.9,103.1 337.3,103.0 337.8,104.6 338.2,105.4 338.7,105.6 339.1,105.4 339.6,106.4 340.0,105.2 340.5,107.0 340.9,107.2 341.4,106.0 341.8,106.7 342.3,106.0 342.7,106.4 343.2,107.6 343.6,106.9 344.1,108.0 344.5,108.4 345.0,108.4 345.4,109.2 345.9,110.1 346.3,109.3 346.8,110.0 347.2,110.6 347.7,109.7 348.1,109.8 348.6,109.1 349.0,111.0 349.5,111.7 349.9,111.6 350.4,112.8 350.8,112.8 351.3,112.6 351.7,112.4 352.2,112.1 352.6,113.0 353.1,113.5 353.5,113.4 354.0,113.4 354.4,113.6 354.9,114.5 355.3,113.3 355.8,114.3 356.2,114.8 356.7,115.4 357.1,115.6 357.6,115.3 358.0,115.3 358.5,115.2 358.9,116.8 359.4,116.7 359.8,116.7 360.3,116.3 360.7,116.3 361.2,117.9 361.6,117.4 362.1,118.0 362.5,119.0 363.0,117.2 363.4,117.9 363.9,118.8 364.3,119.2 364.8,118.5 365.2,119.4 365.7,119.4 366.1,119.7 366.6,120.6 367.0,120.7 367.5,121.6 367.9,121.6 368.4,122.4 368.8,121.3 369.3,122.3 369.7,121.5 370.2,121.7 370.6,122.3 371.1,124.0 371.5,124.1 372.0,123.4 372.4,125.6 372.9,125.8 373.3,125.6 373.8,125.9 374.2,126.5 374.7,126.2 375.1,128.8 375.6,127.5 376.0,128.1 376.5,128.4 376.9,128.7 377.4,128.9 377.8,130.1 378.3,129.6 378.7,130.1 379.2,130.7 379.6,132.1 380.1,131.4 380.5,131.8 381.0,133.1 381.4,132.6 381.9,133.5 382.3,134.6 382.8,134.5 383.2,134.5 383.7,135.6 384.1,134.6 384.6,134.7 385.0,134.2 385.5,135.5 385.9,136.1 386.4,135.5 386.8,137.2 387.3,136.9 387.7,137.1 388.2,136.0 388.6,137.1 389.1,137.3 389.5,136.1 390.0,137.5 390.4,137.6 390.9,136.9 391.3,138.4 391.8,139.6 392.2,139.0 392.7,138.3 393.1,138.8 393.6,139.8 394.0,138.9 394.5,139.8 394.9,139.8 395.4,140.1 395.8,141.1 396.3,139.4 396.7,141.2 397.2,140.8 397.6,140.8 398.1,140.1 398.5,141.4 399.0,141.2 399.4,139.9 399.9,141.0 400.3,141.3 400.8,141.6 401.2,142.0 401.7,142.0 402.1,143.6 402.6,143.5 403.0,143.0 403.5,144.1 403.9,144.7 404.4,143.9 404.8,143.0 405.3,144.2 405.7,145.0 406.2,143.8 406.6,144.5 407.1,145.3 407.5,145.5 408.0,145.5 408.4,145.4 408.9,145.2 409.3,145.1 409.8,146.2 410.2,146.3 410.7,145.6 411.1,145.6 411.6,146.9 412.0,146.9 412.5,146.0 412.9,145.6 413.4,146.8 413.8,147.4 414.3,147.6 414.7,147.7 415.2,146.4 415.6,147.5 416.1,147.4 416.5,147.4 417.0,149.5 417.4,148.1 417.9,148.4 418.3,148.2 418.8,148.9 419.2,149.4 419.7,148.6 420.1,148.9 420.6,148.8 421.0,148.6 421.5,149.2 421.9,149.6 422.4,149.6 422.8,149.5 423.3,148.7 423.7,150.2 424.2,150.2 424.6,151.1 425.1,150.0 425.5,149.6 426.0,149.4 426.4,150.3 426.9,150.8 427.3,151.1 427.8,150.2 428.2,150.9 428.7,152.0 429.1,151.5 429.6,151.4 430.0,151.5 430.5,151.0 430.9,151.2 431.4,151.8 431.8,153.0 432.3,153.1 432.7,152.5 433.2,153.0 433.6,153.1 434.1,153.6 434.5,152.6 435.0,153.3 435.4,153.9 435.9,152.7 436.3,153.5 436.8,153.9 437.2,154.1 437.7,154.3 438.1,154.5 438.6,154.8 439.0,155.2 439.5,154.7 439.9,155.9 440.4,154.5 440.8,154.8 441.3,155.2 441.7,154.7 442.2,154.4 442.6,154.6 443.1,156.2 443.5,155.3 444.0,155.0 444.4,157.0 444.9,156.3 445.3,156.3 445.8,155.7 446.2,156.6 446.7,156.2 447.1,156.8 447.6,156.8 448.0,156.8 448.5,157.2 448.9,156.7 449.4,157.1 449.8,157.0 450.3,157.8 450.7,158.1 451.2,158.3 451.6,156.8 452.1,159.0 452.5,158.0 453.0,158.2 453.4,158.3 453.9,158.4 454.3,159.3 454.8,158.8 455.2,159.0 455.7,159.5 456.1,159.8 456.6,158.5 457.0,158.5 457.5,158.2 457.9,158.3" stroke="#8b6299"/><path d="M300.0,54.0 300.4,55.2 300.9,56.3 301.3,57.5 301.8,58.8 302.2,59.5 302.7,60.9 303.1,61.8 303.6,62.5 304.0,63.8 304.5,65.3 304.9,65.9 305.4,67.4 305.8,69.3 306.3,70.1 306.7,71.2 307.2,71.8 307.6,72.2 308.1,71.9 308.5,74.3 309.0,73.5 309.4,75.2 309.9,75.7 310.3,76.6 310.8,77.4 311.2,77.7 311.7,79.1 312.1,78.5 312.6,80.5 313.0,79.7 313.5,82.1 313.9,81.8 314.4,83.0 314.8,84.4 315.3,82.9 315.7,84.7 316.2,85.8 316.6,86.6 317.1,87.5 317.5,87.7 318.0,88.2 318.4,88.6 318.9,89.3 319.3,89.8 319.8,91.0 320.2,91.1 320.7,92.0 321.1,93.2 321.6,93.5 322.0,93.2 322.5,94.0 322.9,95.1 323.4,94.9 323.8,94.8 324.3,95.9 324.7,97.1 325.2,97.0 325.6,97.2 326.1,98.2 326.5,97.4 327.0,99.7 327.4,98.7 327.9,98.8 328.3,100.5 328.8,98.9 329.2,99.6 329.7,100.1 330.1,99.9 330.6,100.6 331.0,101.4 331.5,101.5 331.9,101.6 332.4,102.5 332.8,103.3 333.3,103.4 333.7,101.4 334.2,103.8 334.6,103.7 335.1,103.7 335.5,103.2 336.0,103.8 336.4,104.2 336.9,103.7 337.3,105.6 337.8,105.6 338.2,105.3 338.7,105.1 339.1,106.7 339.6,106.5 340.0,107.1 340.5,106.4 340.9,108.4 341.4,107.1 341.8,108.7 342.3,106.6 342.7,108.2 343.2,108.3 343.6,107.1 344.1,108.4 344.5,108.4 345.0,108.5 345.4,109.2 345.9,109.2 346.3,110.4 346.8,110.7 347.2,110.9 347.7,110.5 348.1,110.9 348.6,112.5 349.0,111.6 349.5,112.0 349.9,112.0 350.4,112.9 350.8,113.4 351.3,113.6 351.7,113.6 352.2,114.1 352.6,113.8 353.1,114.5 353.5,113.8 354.0,114.7 354.4,115.3 354.9,114.4 355.3,115.7 355.8,115.7 356.2,115.0 356.7,114.9 357.1,115.2 357.6,115.8 358.0,116.8 358.5,117.0 358.9,117.8 359.4,118.7 359.8,117.2 360.3,116.5 360.7,117.1 361.2,117.0 361.6,118.0 362.1,118.3 362.5,119.6 363.0,118.2 363.4,119.2 363.9,119.4 364.3,119.8 364.8,119.9 365.2,121.8 365.7,120.8 366.1,121.2 366.6,122.0 367.0,122.0 367.5,123.2 367.9,121.8 368.4,122.7 368.8,122.9 369.3,123.4 369.7,124.3 370.2,123.7 370.6,123.2 371.1,124.6 371.5,124.2 372.0,125.4 372.4,125.4 372.9,126.7 373.3,126.0 373.8,125.4 374.2,126.4 374.7,127.0 375.1,126.7 375.6,126.8 376.0,126.9 376.5,127.1 376.9,127.0 377.4,128.6 377.8,128.5 378.3,127.7 378.7,129.5 379.2,129.2 379.6,129.7 380.1,130.0 380.5,131.0 381.0,129.3 381.4,130.9 381.9,131.6 382.3,131.5 382.8,130.8 383.2,131.2 383.7,132.3 384.1,133.2 384.6,131.4 385.0,132.4 385.5,133.2 385.9,133.4 386.4,133.7 386.8,134.3 387.3,134.3 387.7,133.2 388.2,134.1 388.6,133.8 389.1,134.6 389.5,135.8 390.0,135.7 390.4,136.7 390.9,136.3 391.3,136.3 391.8,136.5 392.2,135.7 392.7,136.2 393.1,136.9 393.6,137.2 394.0,137.3 394.5,136.6 394.9,136.7 395.4,136.8 395.8,138.8 396.3,137.8 396.7,138.5 397.2,138.2 397.6,138.3 398.1,138.5 398.5,138.5 399.0,139.0 399.4,139.6 399.9,138.6 400.3,139.5 400.8,139.5 401.2,139.6 401.7,140.5 402.1,141.2 402.6,139.6 403.0,140.7 403.5,141.4 403.9,141.5 404.4,140.2 404.8,141.6 405.3,141.3 405.7,141.5 406.2,142.4 406.6,141.5 407.1,142.4 407.5,142.9 408.0,142.1 408.4,142.1 408.9,144.1 409.3,142.4 409.8,143.9 410.2,142.8 410.7,143.5 411.1,143.3 411.6,143.8 412.0,143.9 412.5,143.3 412.9,144.0 413.4,144.8 413.8,144.0 414.3,143.3 414.7,144.9 415.2,144.4 415.6,145.2 416.1,144.9 416.5,144.8 417.0,145.3 417.4,145.8 417.9,145.9 418.3,145.1 418.8,145.2 419.2,145.4 419.7,147.0 420.1,146.5 420.6,146.0 421.0,146.5 421.5,147.6 421.9,146.3 422.4,146.8 422.8,147.6 423.3,147.8 423.7,147.8 424.2,147.0 424.6,147.7 425.1,146.4 425.5,147.7 426.0,147.7 426.4,147.9 426.9,149.1 427.3,148.4 427.8,148.5 428.2,149.2 428.7,149.9 429.1,148.5 429.6,149.6 430.0,149.1 430.5,148.5 430.9,149.2 431.4,149.8 431.8,149.6 432.3,149.6 432.7,150.0 433.2,150.0 433.6,150.1 434.1,149.8 434.5,150.9 435.0,149.3 435.4,150.9 435.9,150.5 436.3,151.5 436.8,150.5 437.2,149.9 437.7,151.8 438.1,152.2 438.6,150.6 439.0,152.1 439.5,152.1 439.9,151.5 440.4,152.6 440.8,151.9 441.3,153.1 441.7,153.3 442.2,152.5 442.6,152.7 443.1,153.1 443.5,152.1 444.0,153.0 444.4,153.5 444.9,155.0 445.3,154.5 445.8,154.1 446.2,153.6 446.7,154.5 447.1,154.5 447.6,153.8 448.0,154.6 448.5,154.2 448.9,154.8 449.4,153.3 449.8,156.3 450.3,155.3 450.7,155.1 451.2,155.5 451.6,155.0 452.1,156.0 452.5,157.1 453.0,156.6 453.4,156.3 453.9,156.6 454.3,156.9 454.8,156.7 455.2,156.8 455.7,157.3 456.1,157.6 456.6,157.2 457.0,157.9 457.5,157.1 457.9,156.9" stroke="#444444"/><path d="M300.0,55.5 300.4,56.6 300.9,57.7 301.3,58.7 301.8,59.7 302.2,61.1 302.7,62.0 303.1,63.1 303.6,64.4 304.0,65.6 304.5,65.7 304.9,68.3 305.4,67.9 305.8,71.2 306.3,71.6 306.7,72.1 307.2,73.9 307.6,73.8 308.1,74.9 308.5,75.3 309.0,76.6 309.4,77.3 309.9,76.8 310.3,77.6 310.8,78.9 311.2,79.3 311.7,78.7 312.1,82.0 312.6,80.2 313.0,80.9 313.5,82.1 313.9,83.9 314.4,85.4 314.8,84.8 315.3,85.5 315.7,86.4 316.2,86.7 316.6,87.6 317.1,87.5 317.5,89.1 318.0,89.6 318.4,88.5 318.9,90.6 319.3,91.3 319.8,92.2 320.2,92.0 320.7,92.3 321.1,93.1 321.6,94.7 322.0,94.4 322.5,95.1 322.9,96.9 323.4,96.3 323.8,96.8 324.3,97.9 324.7,98.4 325.2,99.2 325.6,98.4 326.1,98.3 326.5,99.5 327.0,100.2 327.4,99.2 327.9,100.2 328.3,100.9 328.8,101.2 329.2,101.4 329.7,101.5 330.1,101.5 330.6,101.7 331.0,103.3 331.5,102.2 331.9,103.9 332.4,102.6 332.8,105.4 333.3,102.9 333.7,105.2 334.2,103.9 334.6,104.7 335.1,104.9 335.5,104.9 336.0,106.9 336.4,105.8 336.9,105.2 337.3,106.7 337.8,107.0 338.2,106.2 338.7,107.4 339.1,107.4 339.6,108.2 340.0,108.4 340.5,108.2 340.9,108.2 341.4,109.3 341.8,109.2 342.3,108.4 342.7,109.2 343.2,109.5 343.6,109.9 344.1,111.7 344.5,110.4 345.0,111.2 345.4,112.1 345.9,111.7 346.3,111.9 346.8,112.7 347.2,112.3 347.7,112.6 348.1,113.2 348.6,113.3 349.0,112.9 349.5,112.8 349.9,113.7 350.4,114.9 350.8,114.2 351.3,115.3 351.7,115.1 352.2,115.0 352.6,113.8 353.1,115.8 353.5,115.7 354.0,115.1 354.4,116.6 354.9,116.5 355.3,117.0 355.8,116.6 356.2,117.3 356.7,117.2 357.1,118.3 357.6,118.0 358.0,117.3 358.5,118.5 358.9,118.6 359.4,118.7 359.8,118.2 360.3,119.9 360.7,119.0 361.2,120.7 361.6,119.5 362.1,120.2 362.5,120.3 363.0,120.7 363.4,122.4 363.9,120.8 364.3,122.6 364.8,122.0 365.2,121.5 365.7,123.0 366.1,123.0 366.6,123.4 367.0,122.3 367.5,123.7 367.9,123.4 368.4,123.9 368.8,124.2 369.3,124.6 369.7,125.8 370.2,125.4 370.6,124.3 371.1,126.5 371.5,126.0 372.0,126.3 372.4,125.4 372.9,127.1 373.3,126.8 373.8,128.0 374.2,128.0 374.7,128.5 375.1,128.0 375.6,127.4 376.0,129.4 376.5,129.4 376.9,129.2 377.4,129.3 377.8,129.4 378.3,129.2 378.7,129.8 379.2,130.8 379.6,132.1 380.1,131.6 380.5,132.6 381.0,131.3 381.4,133.0 381.9,132.3 382.3,133.7 382.8,133.7 383.2,133.2 383.7,133.5 384.1,134.3 384.6,133.3 385.0,132.7 385.5,134.7 385.9,135.7 386.4,133.5 386.8,134.9 387.3,134.3 387.7,135.0 388.2,134.8 388.6,136.2 389.1,135.5 389.5,135.9 390.0,135.6 390.4,136.9 390.9,136.3 391.3,136.6 391.8,137.0 392.2,136.4 392.7,137.5 393.1,136.7 393.6,137.7 394.0,138.0 394.5,138.0 394.9,138.3 395.4,138.2 395.8,139.1 396.3,139.0 396.7,138.9 397.2,139.2 397.6,139.2 398.1,139.7 398.5,139.8 399.0,139.0 399.4,141.3 399.9,140.2 400.3,140.3 400.8,141.0 401.2,139.8 401.7,141.0 402.1,141.6 402.6,141.4 403.0,141.8 403.5,141.7 403.9,141.9 404.4,142.3 404.8,142.6 405.3,142.0 405.7,143.1 406.2,143.3 406.6,142.9 407.1,143.0 407.5,143.6 408.0,144.4 408.4,144.5 408.9,143.5 409.3,143.8 409.8,143.9 410.2,144.7 410.7,144.5 411.1,144.9 411.6,145.6 412.0,145.1 412.5,145.4 412.9,145.5 413.4,145.0 413.8,145.5 414.3,145.6 414.7,145.6 415.2,147.0 415.6,146.5 416.1,144.7 416.5,146.0 417.0,146.6 417.4,146.8 417.9,146.4 418.3,146.9 418.8,147.0 419.2,147.0 419.7,147.8 420.1,147.6 420.6,147.4 421.0,147.7 421.5,148.0 421.9,147.4 422.4,147.9 422.8,148.7 423.3,149.1 423.7,147.2 424.2,150.3 424.6,148.5 425.1,149.5 425.5,148.3 426.0,149.7 426.4,149.5 426.9,149.5 427.3,149.5 427.8,149.7 428.2,150.4 428.7,149.6 429.1,150.1 429.6,150.1 430.0,149.5 430.5,150.7 430.9,150.7 431.4,150.6 431.8,150.2 432.3,150.9 432.7,151.2 433.2,151.4 433.6,151.5 434.1,150.9 434.5,152.4 435.0,152.4 435.4,152.5 435.9,152.4 436.3,153.1 436.8,152.9 437.2,153.2 437.7,152.9 438.1,152.9 438.6,153.3 439.0,152.6 439.5,153.1 439.9,153.5 440.4,153.1 440.8,152.1 441.3,153.4 441.7,153.4 442.2,154.5 442.6,152.9 443.1,153.8 443.5,155.4 444.0,153.1 444.4,154.5 444.9,154.5 445.3,154.0 445.8,155.2 446.2,154.8 446.7,153.9 447.1,155.3 447.6,155.0 448.0,156.7 448.5,156.2 448.9,155.6 449.4,156.6 449.8,157.8 450.3,156.0 450.7,156.3 451.2,157.0 451.6,157.2 452.1,157.4 452.5,156.6 453.0,157.7 453.4,157.1 453.9,157.4 454.3,158.6 454.8,157.7 455.2,158.7 455.7,158.3 456.1,158.7 456.6,158.8 457.0,159.3 457.5,159.5 457.9,158.7" stroke="#a0a0a0"/></g><clipPath id="cpc"><rect x="525.8" y="46.5" width="158.0" height="152.1"/></clipPath><g clip-path="url(#cpc)" fill="none" stroke-width="1.7" stroke-linejoin="round" stroke-linecap="round"><path d="M526.0,141.0 526.5,141.8 526.9,141.3 527.4,143.1 527.8,142.6 528.3,142.4 528.7,142.9 529.2,143.2 529.6,145.0 530.1,147.6 530.5,148.3 531.0,149.4 531.4,145.0 531.9,145.1 532.3,151.7 532.8,150.0 533.2,152.3 533.7,149.7 534.1,144.5 534.6,149.6 535.0,148.1 535.5,147.1 535.9,144.9 536.4,146.7 536.8,146.1 537.3,148.0 537.7,145.8 538.2,148.5 538.6,142.8 539.1,145.3 539.5,145.4 540.0,142.6 540.4,142.3 540.9,147.8 541.3,147.4 541.8,146.4 542.2,148.1 542.7,146.0 543.1,148.2 543.6,146.4 544.0,148.2 544.5,150.1 544.9,147.5 545.4,150.6 545.8,146.9 546.3,149.2 546.7,147.3 547.2,150.6 547.6,151.2 548.1,150.5 548.5,150.1 549.0,153.2 549.4,152.8 549.9,146.2 550.3,150.7 550.8,143.6 551.2,145.1 551.7,145.6 552.1,145.4 552.6,142.1 553.0,142.3 553.5,143.7 553.9,141.9 554.4,142.2 554.8,145.4 555.3,146.4 555.7,144.6 556.2,145.1 556.6,145.2 557.1,144.5 557.5,144.7 558.0,143.9 558.4,148.4 558.9,147.7 559.3,148.6 559.8,150.5 560.2,152.2 560.7,155.0 561.1,151.8 561.6,152.0 562.0,153.6 562.5,151.5 562.9,156.4 563.4,155.9 563.8,155.7 564.3,154.3 564.7,156.6 565.2,157.7 565.6,156.8 566.1,155.1 566.5,151.9 567.0,157.6 567.4,154.5 567.9,153.2 568.3,156.9 568.8,155.5 569.2,151.5 569.7,154.5 570.1,154.2 570.6,157.1 571.0,150.8 571.5,154.4 571.9,155.1 572.4,158.8 572.8,153.5 573.3,149.7 573.7,153.5 574.2,157.5 574.6,159.0 575.1,161.5 575.5,158.8 576.0,156.4 576.4,160.4 576.9,158.6 577.3,158.3 577.8,159.0 578.2,162.2 578.7,157.7 579.1,157.8 579.6,160.4 580.0,160.8 580.5,159.4 580.9,159.5 581.4,162.3 581.8,164.4 582.3,162.9 582.7,162.6 583.2,163.8 583.6,156.5 584.1,157.6 584.5,159.6 585.0,158.9 585.4,159.8 585.9,162.7 586.3,160.1 586.8,162.2 587.2,158.6 587.7,160.9 588.1,165.9 588.6,161.4 589.0,163.0 589.5,163.6 589.9,160.8 590.4,163.2 590.8,162.7 591.3,164.3 591.7,162.0 592.2,160.7 592.6,162.0 593.1,163.3 593.5,165.9 594.0,164.3 594.4,163.8 594.9,164.3 595.3,167.2 595.8,163.5 596.2,168.2 596.7,162.2 597.1,164.0 597.6,167.6 598.0,167.2 598.5,164.5 598.9,166.5 599.4,165.4 599.8,169.1 600.3,168.6 600.7,165.9 601.2,168.5 601.6,166.7 602.1,167.2 602.5,167.2 603.0,165.6 603.4,167.5 603.9,167.7 604.3,167.8 604.8,169.4 605.2,166.5 605.7,164.1 606.1,166.9 606.6,169.2 607.0,169.7 607.5,171.8 607.9,173.2 608.4,171.9 608.8,172.8 609.3,171.6 609.7,176.6 610.2,173.9 610.6,172.1 611.1,172.2 611.5,173.8 612.0,178.2 612.4,176.3 612.9,170.7 613.3,174.1 613.8,175.0 614.2,176.0 614.7,175.8 615.1,174.1 615.6,176.9 616.0,175.0 616.5,171.5 616.9,175.1 617.4,175.3 617.8,179.0 618.3,179.2 618.7,174.4 619.2,177.1 619.6,176.9 620.1,173.6 620.5,172.4 621.0,177.2 621.4,178.1 621.9,177.0 622.3,172.8 622.8,179.3 623.2,178.6 623.7,178.3 624.1,179.9 624.6,178.3 625.0,182.1 625.5,180.9 625.9,179.7 626.4,181.6 626.8,180.9 627.3,177.7 627.7,180.8 628.2,180.0 628.6,177.0 629.1,179.2 629.5,181.4 630.0,179.0 630.4,183.7 630.9,184.7 631.3,180.6 631.8,183.0 632.2,186.8 632.7,182.3 633.1,181.6 633.6,183.2 634.0,181.5 634.5,181.8 634.9,185.3 635.4,183.8 635.8,185.2 636.3,185.7 636.7,182.8 637.2,183.9 637.6,183.6 638.1,182.6 638.5,182.2 639.0,184.8 639.4,183.8 639.9,185.0 640.3,186.5 640.8,186.6 641.2,181.9 641.7,182.6 642.1,184.1 642.6,185.1 643.0,187.2 643.5,183.1 643.9,184.6 644.4,186.4 644.8,188.9 645.3,189.6 645.7,184.5 646.2,186.5 646.6,185.4 647.1,189.3 647.5,188.6 648.0,187.0 648.4,186.6 648.9,188.7 649.3,190.1 649.8,186.0 650.2,186.8 650.7,187.6 651.1,187.3 651.6,188.0 652.0,185.0 652.5,185.9 652.9,182.6 653.4,187.5 653.8,189.5 654.3,182.2 654.7,185.0 655.2,188.0 655.6,185.3 656.1,181.1 656.5,187.8 657.0,181.8 657.4,187.9 657.9,183.5 658.3,183.1 658.8,184.8 659.2,184.8 659.7,186.3 660.1,186.1 660.6,184.4 661.0,187.3 661.5,185.3 661.9,183.7 662.4,182.7 662.8,181.6 663.3,181.3 663.7,183.5 664.2,183.7 664.6,183.5 665.1,186.4 665.5,184.1 666.0,185.9 666.4,186.8 666.9,182.3 667.3,184.0 667.8,188.4 668.2,182.6 668.7,187.6 669.1,183.2 669.6,187.2 670.0,184.7 670.5,186.5 670.9,187.6 671.4,187.6 671.8,191.1 672.3,190.6 672.7,190.3 673.2,188.5 673.6,191.3 674.1,189.8 674.5,188.3 675.0,185.4 675.4,189.6 675.9,189.8 676.3,188.9 676.8,190.5 677.2,190.8 677.7,188.5 678.1,190.4 678.6,189.9 679.0,189.9 679.5,188.5 679.9,188.2 680.4,189.5 680.8,192.5 681.3,194.6 681.7,188.1 682.2,185.9 682.6,186.7 683.1,184.9 683.5,185.0" stroke="#1965a8"/><path d="M526.0,120.8 526.5,122.5 526.9,124.1 527.4,126.0 527.8,128.8 528.3,128.7 528.7,132.5 529.2,135.0 529.6,135.4 530.1,137.0 530.5,140.7 531.0,144.0 531.4,146.6 531.9,145.7 532.3,148.1 532.8,145.4 533.2,145.8 533.7,145.3 534.1,147.3 534.6,149.6 535.0,151.3 535.5,149.2 535.9,153.3 536.4,151.5 536.8,150.3 537.3,149.9 537.7,154.9 538.2,151.4 538.6,149.5 539.1,149.5 539.5,154.7 540.0,150.4 540.4,153.6 540.9,154.2 541.3,147.5 541.8,154.4 542.2,151.8 542.7,150.4 543.1,151.7 543.6,154.1 544.0,154.2 544.5,154.7 544.9,152.9 545.4,156.9 545.8,157.5 546.3,158.4 546.7,157.2 547.2,159.2 547.6,160.0 548.1,157.8 548.5,158.6 549.0,158.5 549.4,158.9 549.9,159.9 550.3,155.6 550.8,158.4 551.2,160.0 551.7,155.3 552.1,156.5 552.6,161.8 553.0,156.8 553.5,157.7 553.9,159.1 554.4,157.6 554.8,157.0 555.3,158.0 555.7,158.5 556.2,158.6 556.6,160.4 557.1,163.3 557.5,161.3 558.0,163.9 558.4,162.5 558.9,162.9 559.3,162.7 559.8,161.3 560.2,162.7 560.7,162.4 561.1,159.7 561.6,162.8 562.0,162.1 562.5,161.4 562.9,159.5 563.4,155.5 563.8,163.0 564.3,160.3 564.7,156.5 565.2,161.9 565.6,159.7 566.1,162.5 566.5,161.4 567.0,164.1 567.4,162.9 567.9,163.6 568.3,164.0 568.8,166.7 569.2,162.6 569.7,167.7 570.1,167.2 570.6,165.3 571.0,166.6 571.5,166.1 571.9,167.3 572.4,169.3 572.8,166.7 573.3,169.5 573.7,170.1 574.2,169.6 574.6,171.2 575.1,168.1 575.5,169.3 576.0,172.5 576.4,167.9 576.9,167.7 577.3,168.0 577.8,169.1 578.2,167.1 578.7,168.0 579.1,165.4 579.6,166.9 580.0,167.1 580.5,167.0 580.9,168.3 581.4,170.4 581.8,168.3 582.3,166.5 582.7,169.2 583.2,168.9 583.6,165.9 584.1,168.6 584.5,166.3 585.0,167.2 585.4,167.2 585.9,170.4 586.3,167.7 586.8,169.0 587.2,170.2 587.7,171.9 588.1,172.3 588.6,168.2 589.0,172.0 589.5,170.0 589.9,171.3 590.4,170.8 590.8,167.7 591.3,168.8 591.7,168.3 592.2,169.8 592.6,172.5 593.1,170.0 593.5,169.1 594.0,175.4 594.4,169.2 594.9,171.2 595.3,171.1 595.8,168.8 596.2,172.5 596.7,172.9 597.1,170.9 597.6,171.1 598.0,170.8 598.5,168.0 598.9,171.7 599.4,168.9 599.8,169.2 600.3,171.2 600.7,171.5 601.2,167.5 601.6,170.5 602.1,171.1 602.5,167.8 603.0,167.0 603.4,167.4 603.9,166.4 604.3,165.9 604.8,169.0 605.2,169.7 605.7,168.0 606.1,168.7 606.6,168.8 607.0,169.0 607.5,168.7 607.9,167.8 608.4,172.1 608.8,169.6 609.3,170.1 609.7,172.9 610.2,168.5 610.6,170.5 611.1,167.2 611.5,168.9 612.0,172.0 612.4,170.9 612.9,169.4 613.3,169.7 613.8,173.7 614.2,171.8 614.7,175.0 615.1,174.5 615.6,173.6 616.0,174.0 616.5,175.4 616.9,174.0 617.4,172.0 617.8,174.0 618.3,172.3 618.7,172.1 619.2,173.2 619.6,172.4 620.1,173.5 620.5,171.3 621.0,170.8 621.4,171.0 621.9,172.3 622.3,170.2 622.8,171.0 623.2,170.1 623.7,170.2 624.1,171.2 624.6,175.8 625.0,170.9 625.5,172.1 625.9,171.9 626.4,171.4 626.8,171.7 627.3,175.0 627.7,170.9 628.2,174.2 628.6,172.4 629.1,169.8 629.5,170.5 630.0,171.1 630.4,170.5 630.9,175.0 631.3,174.2 631.8,175.0 632.2,172.6 632.7,175.7 633.1,174.2 633.6,179.7 634.0,175.4 634.5,176.2 634.9,176.6 635.4,175.1 635.8,175.3 636.3,175.3 636.7,177.5 637.2,174.6 637.6,175.6 638.1,176.5 638.5,175.2 639.0,173.6 639.4,173.9 639.9,175.3 640.3,174.4 640.8,177.9 641.2,176.2 641.7,176.0 642.1,174.2 642.6,176.9 643.0,175.4 643.5,174.5 643.9,175.2 644.4,180.7 644.8,175.5 645.3,175.2 645.7,178.8 646.2,178.2 646.6,176.5 647.1,179.4 647.5,174.1 648.0,175.5 648.4,173.1 648.9,178.1 649.3,175.5 649.8,179.8 650.2,175.9 650.7,175.9 651.1,173.2 651.6,173.4 652.0,175.0 652.5,177.9 652.9,174.9 653.4,172.8 653.8,178.6 654.3,178.7 654.7,175.2 655.2,177.1 655.6,177.8 656.1,177.4 656.5,172.2 657.0,174.9 657.4,173.5 657.9,176.9 658.3,175.8 658.8,174.1 659.2,177.1 659.7,178.6 660.1,175.1 660.6,175.6 661.0,176.7 661.5,177.1 661.9,176.3 662.4,173.7 662.8,174.0 663.3,176.8 663.7,177.8 664.2,175.8 664.6,178.1 665.1,181.6 665.5,178.3 666.0,178.3 666.4,178.3 666.9,180.7 667.3,180.5 667.8,180.6 668.2,179.4 668.7,180.6 669.1,180.3 669.6,178.9 670.0,180.9 670.5,175.6 670.9,179.3 671.4,177.5 671.8,179.0 672.3,180.6 672.7,177.2 673.2,176.6 673.6,176.8 674.1,179.3 674.5,179.5 675.0,177.2 675.4,178.2 675.9,180.5 676.3,178.5 676.8,175.1 677.2,176.4 677.7,177.0 678.1,178.6 678.6,176.9 679.0,180.5 679.5,177.4 679.9,181.4 680.4,177.7 680.8,181.5 681.3,179.6 681.7,181.8 682.2,182.7 682.6,182.2 683.1,180.7 683.5,177.2" stroke="#0cb84a"/><path d="M526.0,106.2 526.5,108.1 526.9,109.9 527.4,110.8 527.8,113.8 528.3,114.0 528.7,117.9 529.2,119.5 529.6,121.5 530.1,123.4 530.5,124.5 531.0,125.0 531.4,126.0 531.9,129.7 532.3,126.8 532.8,128.1 533.2,127.9 533.7,129.0 534.1,130.0 534.6,131.7 535.0,131.4 535.5,132.0 535.9,132.1 536.4,133.8 536.8,131.7 537.3,134.6 537.7,137.3 538.2,134.1 538.6,135.8 539.1,141.3 539.5,135.1 540.0,134.4 540.4,137.0 540.9,141.2 541.3,141.9 541.8,136.5 542.2,139.9 542.7,139.3 543.1,138.5 543.6,136.4 544.0,141.9 544.5,138.9 544.9,141.3 545.4,141.2 545.8,144.6 546.3,143.7 546.7,139.9 547.2,141.7 547.6,144.3 548.1,140.5 548.5,142.4 549.0,143.8 549.4,140.9 549.9,141.8 550.3,141.3 550.8,145.1 551.2,143.9 551.7,146.8 552.1,145.7 552.6,146.8 553.0,146.0 553.5,147.7 553.9,146.5 554.4,145.3 554.8,149.4 555.3,149.3 555.7,151.9 556.2,148.0 556.6,147.5 557.1,146.3 557.5,142.4 558.0,147.2 558.4,150.6 558.9,148.5 559.3,145.8 559.8,151.7 560.2,149.9 560.7,150.6 561.1,150.8 561.6,151.6 562.0,153.0 562.5,149.4 562.9,152.0 563.4,151.5 563.8,154.3 564.3,150.4 564.7,155.0 565.2,153.1 565.6,154.8 566.1,150.6 566.5,153.2 567.0,152.3 567.4,149.0 567.9,151.1 568.3,150.7 568.8,149.7 569.2,150.0 569.7,148.7 570.1,150.4 570.6,151.9 571.0,150.0 571.5,148.7 571.9,153.3 572.4,150.9 572.8,151.7 573.3,151.3 573.7,150.8 574.2,152.8 574.6,150.9 575.1,152.0 575.5,149.4 576.0,149.2 576.4,151.4 576.9,155.5 577.3,152.5 577.8,155.6 578.2,153.1 578.7,153.2 579.1,151.4 579.6,152.4 580.0,155.5 580.5,154.3 580.9,151.0 581.4,151.2 581.8,154.3 582.3,150.9 582.7,153.3 583.2,150.0 583.6,152.6 584.1,154.0 584.5,152.7 585.0,151.5 585.4,151.2 585.9,150.7 586.3,150.7 586.8,152.7 587.2,152.6 587.7,151.1 588.1,148.1 588.6,149.3 589.0,150.6 589.5,150.1 589.9,147.7 590.4,151.3 590.8,154.7 591.3,148.1 591.7,150.4 592.2,153.2 592.6,149.7 593.1,149.8 593.5,150.8 594.0,151.6 594.4,149.9 594.9,152.4 595.3,147.4 595.8,151.9 596.2,151.5 596.7,150.6 597.1,151.6 597.6,151.1 598.0,153.4 598.5,150.3 598.9,151.1 599.4,148.9 599.8,149.6 600.3,151.3 600.7,149.2 601.2,150.7 601.6,150.1 602.1,151.7 602.5,153.0 603.0,154.6 603.4,149.8 603.9,153.0 604.3,155.1 604.8,156.2 605.2,156.5 605.7,151.7 606.1,153.5 606.6,155.6 607.0,156.5 607.5,155.5 607.9,155.7 608.4,155.9 608.8,154.3 609.3,156.1 609.7,157.5 610.2,155.6 610.6,158.4 611.1,151.5 611.5,156.1 612.0,159.7 612.4,158.4 612.9,159.6 613.3,157.5 613.8,155.3 614.2,156.6 614.7,160.3 615.1,154.6 615.6,156.3 616.0,155.1 616.5,157.3 616.9,157.7 617.4,159.6 617.8,157.3 618.3,161.8 618.7,160.1 619.2,158.3 619.6,157.6 620.1,156.8 620.5,159.8 621.0,163.2 621.4,159.6 621.9,158.2 622.3,160.1 622.8,159.4 623.2,158.9 623.7,157.3 624.1,160.7 624.6,163.5 625.0,163.1 625.5,162.7 625.9,161.5 626.4,162.0 626.8,163.0 627.3,161.2 627.7,161.9 628.2,160.8 628.6,163.5 629.1,160.0 629.5,162.9 630.0,163.3 630.4,163.3 630.9,163.2 631.3,161.2 631.8,161.1 632.2,161.5 632.7,161.6 633.1,160.4 633.6,161.6 634.0,161.4 634.5,160.9 634.9,163.3 635.4,161.4 635.8,163.2 636.3,165.5 636.7,165.9 637.2,163.1 637.6,164.9 638.1,163.6 638.5,167.5 639.0,166.2 639.4,165.3 639.9,163.1 640.3,163.0 640.8,164.5 641.2,163.5 641.7,163.1 642.1,164.8 642.6,161.5 643.0,160.2 643.5,161.9 643.9,161.7 644.4,163.6 644.8,162.3 645.3,163.5 645.7,160.3 646.2,166.5 646.6,164.7 647.1,162.5 647.5,164.6 648.0,166.2 648.4,165.6 648.9,164.0 649.3,165.3 649.8,165.8 650.2,162.1 650.7,161.8 651.1,163.3 651.6,166.1 652.0,167.0 652.5,164.7 652.9,167.1 653.4,166.3 653.8,164.5 654.3,163.4 654.7,163.6 655.2,165.0 655.6,167.4 656.1,166.5 656.5,162.8 657.0,163.0 657.4,166.6 657.9,165.6 658.3,163.7 658.8,166.6 659.2,167.9 659.7,167.0 660.1,165.9 660.6,168.1 661.0,165.1 661.5,164.9 661.9,164.4 662.4,169.4 662.8,169.9 663.3,166.1 663.7,167.3 664.2,167.2 664.6,168.1 665.1,168.6 665.5,167.8 666.0,166.5 666.4,165.9 666.9,165.0 667.3,162.3 667.8,166.8 668.2,165.6 668.7,167.3 669.1,167.1 669.6,165.6 670.0,166.7 670.5,168.4 670.9,168.1 671.4,166.3 671.8,166.7 672.3,169.1 672.7,168.7 673.2,168.9 673.6,168.2 674.1,169.9 674.5,168.9 675.0,173.3 675.4,168.1 675.9,167.8 676.3,172.1 676.8,169.2 677.2,168.0 677.7,170.3 678.1,165.6 678.6,170.5 679.0,169.9 679.5,170.5 679.9,168.7 680.4,172.5 680.8,170.9 681.3,170.4 681.7,171.2 682.2,169.2 682.6,170.6 683.1,168.3 683.5,169.1" stroke="#ff980f"/><path d="M526.0,86.8 526.5,89.1 526.9,91.1 527.4,93.5 527.8,95.7 528.3,98.0 528.7,100.5 529.2,100.8 529.6,104.5 530.1,104.2 530.5,106.9 531.0,109.9 531.4,110.6 531.9,109.6 532.3,114.3 532.8,113.0 533.2,111.9 533.7,114.3 534.1,113.9 534.6,116.8 535.0,114.9 535.5,118.6 535.9,115.8 536.4,120.6 536.8,119.6 537.3,121.7 537.7,118.8 538.2,116.9 538.6,118.4 539.1,120.5 539.5,124.3 540.0,122.4 540.4,123.9 540.9,120.8 541.3,121.7 541.8,122.3 542.2,125.0 542.7,122.7 543.1,123.4 543.6,126.8 544.0,123.2 544.5,124.9 544.9,123.1 545.4,125.2 545.8,127.2 546.3,128.1 546.7,124.4 547.2,123.0 547.6,128.1 548.1,130.2 548.5,126.9 549.0,128.7 549.4,128.7 549.9,125.6 550.3,125.1 550.8,129.5 551.2,130.7 551.7,128.0 552.1,130.1 552.6,129.8 553.0,129.8 553.5,129.7 553.9,133.8 554.4,132.4 554.8,132.3 555.3,132.3 555.7,133.8 556.2,132.7 556.6,133.9 557.1,132.7 557.5,134.7 558.0,133.9 558.4,135.5 558.9,132.4 559.3,133.8 559.8,133.3 560.2,137.9 560.7,134.7 561.1,135.8 561.6,133.4 562.0,134.8 562.5,133.9 562.9,136.6 563.4,135.5 563.8,139.6 564.3,136.0 564.7,139.2 565.2,137.6 565.6,138.8 566.1,136.7 566.5,138.2 567.0,138.2 567.4,137.4 567.9,139.7 568.3,136.7 568.8,138.9 569.2,139.0 569.7,139.6 570.1,137.8 570.6,140.8 571.0,138.6 571.5,139.2 571.9,138.8 572.4,139.9 572.8,141.2 573.3,145.3 573.7,136.8 574.2,142.6 574.6,142.7 575.1,143.7 575.5,141.9 576.0,142.3 576.4,144.5 576.9,142.0 577.3,142.2 577.8,142.0 578.2,142.8 578.7,145.0 579.1,140.9 579.6,144.2 580.0,138.9 580.5,143.3 580.9,142.0 581.4,144.7 581.8,144.1 582.3,144.1 582.7,143.9 583.2,143.6 583.6,140.0 584.1,143.7 584.5,141.2 585.0,145.1 585.4,142.5 585.9,143.6 586.3,142.9 586.8,143.9 587.2,144.2 587.7,144.9 588.1,142.3 588.6,146.9 589.0,143.0 589.5,144.5 589.9,140.8 590.4,145.6 590.8,146.9 591.3,147.4 591.7,146.5 592.2,146.6 592.6,145.0 593.1,145.6 593.5,146.1 594.0,146.8 594.4,145.1 594.9,146.4 595.3,148.0 595.8,147.6 596.2,147.3 596.7,146.4 597.1,148.3 597.6,148.3 598.0,150.5 598.5,148.4 598.9,150.1 599.4,146.6 599.8,151.4 600.3,146.5 600.7,148.5 601.2,148.1 601.6,147.7 602.1,148.1 602.5,147.8 603.0,148.8 603.4,149.1 603.9,150.4 604.3,150.6 604.8,151.4 605.2,149.4 605.7,147.4 606.1,152.3 606.6,149.6 607.0,144.8 607.5,149.9 607.9,148.5 608.4,147.7 608.8,147.8 609.3,148.9 609.7,147.5 610.2,149.3 610.6,148.7 611.1,148.8 611.5,149.9 612.0,149.8 612.4,151.9 612.9,150.2 613.3,148.1 613.8,149.7 614.2,152.4 614.7,152.5 615.1,148.7 615.6,151.1 616.0,149.4 616.5,149.8 616.9,147.9 617.4,147.9 617.8,150.0 618.3,151.0 618.7,151.5 619.2,149.4 619.6,150.5 620.1,151.2 620.5,150.8 621.0,146.8 621.4,149.6 621.9,151.5 622.3,152.3 622.8,150.1 623.2,153.2 623.7,147.1 624.1,153.7 624.6,150.7 625.0,151.9 625.5,150.6 625.9,150.3 626.4,151.7 626.8,152.4 627.3,150.6 627.7,153.7 628.2,151.9 628.6,152.8 629.1,151.6 629.5,151.8 630.0,152.9 630.4,150.9 630.9,154.2 631.3,151.2 631.8,153.9 632.2,151.6 632.7,153.1 633.1,152.5 633.6,155.6 634.0,156.4 634.5,153.2 634.9,154.6 635.4,154.4 635.8,155.3 636.3,155.9 636.7,157.2 637.2,154.6 637.6,151.7 638.1,155.7 638.5,154.1 639.0,154.6 639.4,156.8 639.9,157.4 640.3,155.3 640.8,157.2 641.2,156.0 641.7,156.7 642.1,155.3 642.6,157.7 643.0,154.7 643.5,155.9 643.9,157.3 644.4,154.5 644.8,156.6 645.3,156.9 645.7,157.5 646.2,159.0 646.6,153.1 647.1,158.0 647.5,157.2 648.0,158.5 648.4,157.9 648.9,155.9 649.3,156.1 649.8,155.5 650.2,159.1 650.7,156.3 651.1,157.9 651.6,157.1 652.0,154.3 652.5,157.1 652.9,157.4 653.4,160.1 653.8,157.5 654.3,156.2 654.7,157.2 655.2,159.4 655.6,159.2 656.1,159.2 656.5,159.5 657.0,157.3 657.4,160.1 657.9,159.3 658.3,155.6 658.8,158.0 659.2,161.1 659.7,158.3 660.1,158.6 660.6,159.4 661.0,159.7 661.5,159.5 661.9,160.5 662.4,158.5 662.8,157.5 663.3,159.9 663.7,159.9 664.2,161.6 664.6,163.5 665.1,161.1 665.5,161.8 666.0,163.2 666.4,161.9 666.9,161.8 667.3,159.4 667.8,160.3 668.2,159.8 668.7,160.5 669.1,162.7 669.6,162.2 670.0,161.3 670.5,157.9 670.9,162.3 671.4,162.2 671.8,159.6 672.3,161.6 672.7,161.1 673.2,162.6 673.6,158.4 674.1,159.7 674.5,163.8 675.0,160.2 675.4,160.6 675.9,161.2 676.3,162.4 676.8,164.1 677.2,162.0 677.7,163.6 678.1,162.9 678.6,161.4 679.0,164.9 679.5,164.0 679.9,161.9 680.4,162.2 680.8,161.0 681.3,159.9 681.7,162.5 682.2,164.5 682.6,158.3 683.1,161.9 683.5,166.2" stroke="#fe2f08"/><path d="M526.0,81.9 526.5,83.0 526.9,84.0 527.4,84.4 527.8,86.4 528.3,88.1 528.7,89.4 529.2,89.3 529.6,93.0 530.1,94.1 530.5,92.8 531.0,94.0 531.4,96.4 531.9,95.4 532.3,96.9 532.8,99.3 533.2,100.1 533.7,98.1 534.1,99.0 534.6,99.7 535.0,101.3 535.5,102.3 535.9,102.4 536.4,105.1 536.8,104.9 537.3,105.7 537.7,103.4 538.2,105.2 538.6,107.2 539.1,109.8 539.5,108.7 540.0,113.5 540.4,112.1 540.9,113.1 541.3,113.5 541.8,114.8 542.2,116.2 542.7,114.5 543.1,118.5 543.6,115.4 544.0,118.2 544.5,117.7 544.9,118.4 545.4,120.5 545.8,120.2 546.3,122.9 546.7,120.0 547.2,122.1 547.6,122.7 548.1,125.6 548.5,125.2 549.0,124.3 549.4,126.3 549.9,125.4 550.3,123.2 550.8,125.4 551.2,127.2 551.7,124.8 552.1,128.5 552.6,127.0 553.0,125.7 553.5,127.9 553.9,125.0 554.4,126.8 554.8,126.6 555.3,129.4 555.7,127.4 556.2,126.9 556.6,130.3 557.1,129.4 557.5,129.4 558.0,129.9 558.4,132.8 558.9,131.7 559.3,130.5 559.8,136.5 560.2,133.1 560.7,135.7 561.1,134.6 561.6,135.4 562.0,132.1 562.5,132.9 562.9,135.1 563.4,134.2 563.8,134.8 564.3,136.7 564.7,131.6 565.2,134.9 565.6,138.0 566.1,134.9 566.5,135.9 567.0,136.5 567.4,136.6 567.9,136.7 568.3,134.8 568.8,136.9 569.2,135.5 569.7,139.1 570.1,135.7 570.6,137.3 571.0,136.6 571.5,138.9 571.9,137.4 572.4,138.4 572.8,136.5 573.3,136.9 573.7,136.1 574.2,137.5 574.6,137.4 575.1,136.2 575.5,136.1 576.0,138.5 576.4,138.1 576.9,137.4 577.3,137.2 577.8,137.0 578.2,139.1 578.7,138.2 579.1,138.2 579.6,138.4 580.0,138.7 580.5,139.1 580.9,139.9 581.4,137.1 581.8,139.6 582.3,138.2 582.7,139.7 583.2,142.4 583.6,137.5 584.1,138.6 584.5,140.0 585.0,137.3 585.4,144.9 585.9,140.2 586.3,143.9 586.8,141.3 587.2,143.5 587.7,143.0 588.1,141.3 588.6,142.7 589.0,140.9 589.5,141.3 589.9,144.5 590.4,140.8 590.8,140.9 591.3,146.5 591.7,141.9 592.2,143.1 592.6,145.3 593.1,142.0 593.5,142.0 594.0,145.9 594.4,143.0 594.9,143.6 595.3,142.7 595.8,144.2 596.2,140.9 596.7,143.8 597.1,145.2 597.6,145.2 598.0,143.0 598.5,144.9 598.9,147.4 599.4,144.2 599.8,145.2 600.3,143.5 600.7,141.4 601.2,145.4 601.6,142.7 602.1,143.2 602.5,144.4 603.0,144.3 603.4,144.2 603.9,146.2 604.3,144.7 604.8,144.6 605.2,142.8 605.7,146.1 606.1,142.6 606.6,141.1 607.0,143.4 607.5,145.9 607.9,145.4 608.4,146.9 608.8,145.6 609.3,145.6 609.7,145.5 610.2,144.0 610.6,144.3 611.1,144.4 611.5,145.4 612.0,143.7 612.4,144.5 612.9,145.7 613.3,145.1 613.8,144.8 614.2,145.0 614.7,143.4 615.1,143.2 615.6,144.1 616.0,147.0 616.5,146.7 616.9,145.9 617.4,146.5 617.8,146.8 618.3,141.8 618.7,144.7 619.2,147.0 619.6,148.5 620.1,146.0 620.5,148.5 621.0,147.6 621.4,146.0 621.9,144.2 622.3,144.2 622.8,145.8 623.2,146.2 623.7,145.8 624.1,147.0 624.6,147.0 625.0,146.3 625.5,147.0 625.9,146.9 626.4,143.6 626.8,144.7 627.3,147.3 627.7,148.2 628.2,147.2 628.6,146.7 629.1,147.7 629.5,148.2 630.0,147.9 630.4,144.5 630.9,148.3 631.3,149.1 631.8,148.3 632.2,151.7 632.7,146.0 633.1,145.5 633.6,154.0 634.0,147.1 634.5,144.9 634.9,148.0 635.4,150.4 635.8,148.0 636.3,148.6 636.7,150.6 637.2,152.7 637.6,150.9 638.1,150.3 638.5,149.2 639.0,151.2 639.4,154.6 639.9,148.4 640.3,148.6 640.8,149.9 641.2,151.7 641.7,151.7 642.1,150.4 642.6,150.1 643.0,153.2 643.5,151.9 643.9,153.4 644.4,151.0 644.8,153.3 645.3,150.2 645.7,155.0 646.2,151.1 646.6,151.3 647.1,152.7 647.5,151.8 648.0,151.2 648.4,153.0 648.9,151.4 649.3,155.6 649.8,151.5 650.2,154.1 650.7,151.6 651.1,150.2 651.6,149.3 652.0,153.2 652.5,151.0 652.9,153.6 653.4,152.2 653.8,153.4 654.3,153.6 654.7,156.6 655.2,153.5 655.6,151.6 656.1,150.2 656.5,155.5 657.0,154.3 657.4,156.5 657.9,151.7 658.3,154.0 658.8,153.1 659.2,155.3 659.7,154.1 660.1,156.9 660.6,154.0 661.0,154.4 661.5,153.8 661.9,155.7 662.4,156.8 662.8,156.0 663.3,154.2 663.7,153.6 664.2,153.9 664.6,155.7 665.1,154.7 665.5,155.3 666.0,157.5 666.4,156.5 666.9,156.2 667.3,155.1 667.8,155.6 668.2,155.6 668.7,156.2 669.1,155.8 669.6,156.5 670.0,155.3 670.5,158.5 670.9,157.1 671.4,157.0 671.8,158.1 672.3,155.0 672.7,154.8 673.2,154.4 673.6,155.7 674.1,157.9 674.5,157.3 675.0,159.7 675.4,154.9 675.9,158.0 676.3,155.3 676.8,155.4 677.2,155.4 677.7,159.5 678.1,157.8 678.6,159.7 679.0,157.9 679.5,159.0 679.9,159.0 680.4,158.9 680.8,158.3 681.3,159.7 681.7,158.5 682.2,158.4 682.6,158.4 683.1,157.5 683.5,156.1" stroke="#8b6299"/><path d="M526.0,69.7 526.5,70.3 526.9,71.8 527.4,72.9 527.8,73.9 528.3,74.0 528.7,75.0 529.2,75.8 529.6,78.2 530.1,78.7 530.5,78.8 531.0,80.5 531.4,82.3 531.9,81.7 532.3,80.3 532.8,82.7 533.2,82.9 533.7,81.9 534.1,82.0 534.6,86.2 535.0,85.1 535.5,88.2 535.9,87.1 536.4,90.2 536.8,91.0 537.3,90.9 537.7,89.1 538.2,88.5 538.6,95.6 539.1,92.9 539.5,96.8 540.0,94.0 540.4,93.2 540.9,95.7 541.3,94.6 541.8,97.4 542.2,100.6 542.7,100.2 543.1,104.4 543.6,101.0 544.0,101.7 544.5,100.6 544.9,101.3 545.4,104.0 545.8,103.0 546.3,104.8 546.7,105.8 547.2,105.4 547.6,111.7 548.1,106.0 548.5,110.1 549.0,112.3 549.4,113.4 549.9,112.0 550.3,111.9 550.8,117.9 551.2,118.0 551.7,115.5 552.1,115.8 552.6,116.5 553.0,115.1 553.5,117.4 553.9,119.7 554.4,119.7 554.8,117.7 555.3,120.9 555.7,118.8 556.2,117.9 556.6,121.4 557.1,122.2 557.5,123.9 558.0,120.6 558.4,124.0 558.9,123.6 559.3,123.5 559.8,122.8 560.2,123.4 560.7,125.0 561.1,125.1 561.6,123.0 562.0,124.4 562.5,125.5 562.9,127.5 563.4,127.0 563.8,126.5 564.3,126.5 564.7,129.7 565.2,126.8 565.6,126.6 566.1,127.4 566.5,129.0 567.0,128.7 567.4,128.1 567.9,128.6 568.3,130.4 568.8,130.7 569.2,130.7 569.7,129.0 570.1,130.8 570.6,132.9 571.0,130.1 571.5,134.1 571.9,132.0 572.4,133.4 572.8,130.5 573.3,134.5 573.7,132.7 574.2,133.5 574.6,134.2 575.1,135.8 575.5,133.3 576.0,134.7 576.4,134.3 576.9,131.8 577.3,132.6 577.8,132.5 578.2,134.7 578.7,135.5 579.1,136.1 579.6,137.1 580.0,136.1 580.5,133.9 580.9,138.8 581.4,136.5 581.8,135.5 582.3,134.0 582.7,137.6 583.2,134.5 583.6,138.9 584.1,137.6 584.5,134.6 585.0,136.8 585.4,140.6 585.9,134.9 586.3,137.2 586.8,134.8 587.2,138.5 587.7,141.4 588.1,138.6 588.6,138.6 589.0,138.4 589.5,138.7 589.9,138.7 590.4,140.5 590.8,141.3 591.3,136.1 591.7,135.8 592.2,141.7 592.6,141.9 593.1,138.1 593.5,140.1 594.0,141.3 594.4,142.0 594.9,141.3 595.3,141.7 595.8,141.1 596.2,142.8 596.7,141.7 597.1,141.5 597.6,141.5 598.0,141.1 598.5,143.5 598.9,143.1 599.4,143.3 599.8,142.8 600.3,144.7 600.7,144.4 601.2,142.5 601.6,140.7 602.1,144.2 602.5,145.2 603.0,149.0 603.4,148.3 603.9,147.7 604.3,150.6 604.8,146.3 605.2,147.8 605.7,149.1 606.1,148.2 606.6,148.3 607.0,149.6 607.5,149.0 607.9,151.5 608.4,146.9 608.8,151.1 609.3,153.4 609.7,150.0 610.2,149.8 610.6,151.6 611.1,151.2 611.5,152.1 612.0,150.6 612.4,151.9 612.9,152.6 613.3,148.0 613.8,151.6 614.2,152.5 614.7,149.9 615.1,149.9 615.6,153.4 616.0,151.0 616.5,152.6 616.9,153.5 617.4,153.5 617.8,149.9 618.3,152.8 618.7,151.5 619.2,149.3 619.6,153.2 620.1,154.0 620.5,152.2 621.0,153.8 621.4,153.5 621.9,153.4 622.3,150.3 622.8,154.2 623.2,151.2 623.7,151.0 624.1,152.3 624.6,155.4 625.0,154.5 625.5,155.9 625.9,153.3 626.4,154.7 626.8,153.3 627.3,153.1 627.7,154.8 628.2,154.1 628.6,151.4 629.1,155.2 629.5,153.5 630.0,157.4 630.4,154.5 630.9,155.0 631.3,152.4 631.8,156.5 632.2,155.9 632.7,153.4 633.1,154.4 633.6,153.1 634.0,158.1 634.5,153.3 634.9,157.0 635.4,153.8 635.8,159.2 636.3,158.1 636.7,157.1 637.2,155.5 637.6,154.9 638.1,156.8 638.5,156.5 639.0,154.4 639.4,157.9 639.9,156.9 640.3,155.7 640.8,156.3 641.2,157.4 641.7,157.7 642.1,156.9 642.6,157.2 643.0,154.4 643.5,160.1 643.9,157.2 644.4,155.7 644.8,158.6 645.3,155.3 645.7,157.5 646.2,153.5 646.6,157.4 647.1,156.6 647.5,158.0 648.0,160.0 648.4,160.3 648.9,157.8 649.3,160.8 649.8,161.5 650.2,160.5 650.7,157.2 651.1,158.2 651.6,160.7 652.0,156.9 652.5,160.9 652.9,159.5 653.4,163.2 653.8,159.7 654.3,160.9 654.7,159.2 655.2,157.9 655.6,160.1 656.1,158.8 656.5,161.5 657.0,161.5 657.4,160.7 657.9,160.1 658.3,160.6 658.8,159.6 659.2,160.4 659.7,161.0 660.1,161.4 660.6,160.3 661.0,161.1 661.5,159.3 661.9,161.3 662.4,164.1 662.8,161.6 663.3,161.0 663.7,160.7 664.2,159.4 664.6,161.9 665.1,162.5 665.5,161.9 666.0,160.8 666.4,161.8 666.9,161.2 667.3,163.7 667.8,161.3 668.2,163.4 668.7,161.2 669.1,160.8 669.6,162.3 670.0,162.5 670.5,161.7 670.9,164.0 671.4,160.5 671.8,162.4 672.3,162.8 672.7,161.7 673.2,163.4 673.6,160.9 674.1,160.9 674.5,163.6 675.0,163.6 675.4,165.2 675.9,164.1 676.3,163.8 676.8,164.0 677.2,164.5 677.7,161.9 678.1,164.8 678.6,163.8 679.0,165.0 679.5,162.0 679.9,165.8 680.4,166.4 680.8,165.1 681.3,168.1 681.7,162.4 682.2,163.8 682.6,164.8 683.1,165.9 683.5,165.2" stroke="#444444"/><path d="M526.0,63.6 526.5,64.7 526.9,65.8 527.4,66.3 527.8,68.0 528.3,68.6 528.7,69.5 529.2,71.5 529.6,71.3 530.1,71.5 530.5,73.2 531.0,73.4 531.4,73.6 531.9,76.8 532.3,78.7 532.8,76.4 533.2,80.5 533.7,81.9 534.1,83.0 534.6,82.2 535.0,84.6 535.5,85.9 535.9,87.9 536.4,86.7 536.8,90.0 537.3,92.0 537.7,88.6 538.2,93.2 538.6,91.9 539.1,94.8 539.5,95.3 540.0,99.0 540.4,98.5 540.9,100.7 541.3,99.4 541.8,102.7 542.2,105.2 542.7,103.5 543.1,106.6 543.6,107.6 544.0,108.1 544.5,107.7 544.9,111.0 545.4,111.5 545.8,113.8 546.3,115.1 546.7,117.1 547.2,114.9 547.6,118.3 548.1,119.1 548.5,119.3 549.0,121.0 549.4,121.4 549.9,123.2 550.3,123.8 550.8,123.2 551.2,124.8 551.7,126.2 552.1,124.8 552.6,126.1 553.0,129.1 553.5,128.4 553.9,127.8 554.4,128.6 554.8,131.9 555.3,131.3 555.7,128.4 556.2,131.9 556.6,130.3 557.1,131.7 557.5,130.0 558.0,132.0 558.4,131.7 558.9,131.4 559.3,134.5 559.8,137.0 560.2,134.7 560.7,134.5 561.1,132.8 561.6,134.4 562.0,134.2 562.5,132.8 562.9,136.3 563.4,135.8 563.8,135.1 564.3,134.3 564.7,137.1 565.2,138.6 565.6,137.1 566.1,136.5 566.5,138.3 567.0,136.3 567.4,134.9 567.9,140.4 568.3,140.6 568.8,138.2 569.2,138.9 569.7,141.3 570.1,137.7 570.6,139.5 571.0,140.7 571.5,142.1 571.9,138.8 572.4,138.9 572.8,140.5 573.3,139.6 573.7,142.6 574.2,139.7 574.6,141.1 575.1,141.3 575.5,140.8 576.0,139.1 576.4,143.3 576.9,142.0 577.3,142.8 577.8,142.9 578.2,141.5 578.7,141.8 579.1,142.0 579.6,144.3 580.0,142.1 580.5,139.8 580.9,142.4 581.4,141.7 581.8,144.2 582.3,142.1 582.7,143.6 583.2,143.1 583.6,143.4 584.1,142.0 584.5,142.7 585.0,143.3 585.4,144.0 585.9,144.0 586.3,141.9 586.8,143.1 587.2,144.9 587.7,144.6 588.1,143.0 588.6,143.1 589.0,145.9 589.5,144.9 589.9,141.7 590.4,147.0 590.8,145.2 591.3,144.8 591.7,143.8 592.2,143.1 592.6,143.9 593.1,143.8 593.5,143.4 594.0,142.3 594.4,147.1 594.9,147.1 595.3,146.2 595.8,145.7 596.2,144.8 596.7,145.2 597.1,145.8 597.6,144.8 598.0,146.5 598.5,146.2 598.9,145.9 599.4,146.8 599.8,146.9 600.3,148.4 600.7,146.9 601.2,146.2 601.6,148.2 602.1,149.8 602.5,150.7 603.0,149.7 603.4,147.0 603.9,148.0 604.3,147.2 604.8,149.6 605.2,149.5 605.7,148.6 606.1,152.3 606.6,151.6 607.0,150.2 607.5,152.1 607.9,148.4 608.4,152.0 608.8,151.9 609.3,154.9 609.7,153.9 610.2,153.1 610.6,151.9 611.1,151.9 611.5,153.0 612.0,152.4 612.4,151.8 612.9,154.6 613.3,152.3 613.8,150.6 614.2,153.6 614.7,152.4 615.1,153.5 615.6,154.5 616.0,151.7 616.5,151.0 616.9,152.2 617.4,154.7 617.8,156.1 618.3,156.0 618.7,153.3 619.2,154.0 619.6,154.6 620.1,153.1 620.5,154.3 621.0,154.1 621.4,156.0 621.9,153.9 622.3,157.2 622.8,155.9 623.2,155.0 623.7,152.7 624.1,155.3 624.6,155.2 625.0,157.1 625.5,155.8 625.9,158.4 626.4,155.4 626.8,153.3 627.3,156.4 627.7,153.9 628.2,156.0 628.6,155.0 629.1,157.6 629.5,154.9 630.0,157.3 630.4,154.0 630.9,157.8 631.3,155.0 631.8,157.0 632.2,158.2 632.7,156.1 633.1,156.7 633.6,158.7 634.0,157.3 634.5,157.3 634.9,159.0 635.4,158.0 635.8,157.3 636.3,158.0 636.7,154.7 637.2,154.1 637.6,156.5 638.1,158.6 638.5,156.7 639.0,157.3 639.4,158.5 639.9,159.2 640.3,159.2 640.8,157.7 641.2,159.2 641.7,158.4 642.1,158.9 642.6,160.4 643.0,162.4 643.5,156.6 643.9,158.2 644.4,157.0 644.8,157.8 645.3,161.1 645.7,163.1 646.2,160.9 646.6,158.9 647.1,157.5 647.5,157.2 648.0,161.5 648.4,161.3 648.9,159.7 649.3,161.9 649.8,161.2 650.2,161.9 650.7,160.0 651.1,162.5 651.6,158.7 652.0,161.3 652.5,162.9 652.9,160.5 653.4,161.6 653.8,161.5 654.3,160.8 654.7,160.3 655.2,160.0 655.6,161.3 656.1,164.8 656.5,161.1 657.0,161.1 657.4,163.3 657.9,158.3 658.3,160.5 658.8,161.2 659.2,162.2 659.7,161.3 660.1,161.8 660.6,161.3 661.0,161.6 661.5,162.4 661.9,160.8 662.4,164.9 662.8,159.9 663.3,163.9 663.7,163.9 664.2,162.9 664.6,163.8 665.1,161.0 665.5,164.4 666.0,163.3 666.4,164.0 666.9,164.6 667.3,164.4 667.8,165.4 668.2,164.2 668.7,165.5 669.1,162.4 669.6,165.2 670.0,161.5 670.5,163.1 670.9,159.9 671.4,164.0 671.8,166.4 672.3,161.6 672.7,163.2 673.2,163.7 673.6,163.2 674.1,166.5 674.5,162.8 675.0,167.7 675.4,166.5 675.9,164.4 676.3,167.1 676.8,165.3 677.2,164.4 677.7,165.2 678.1,166.6 678.6,165.2 679.0,165.0 679.5,165.1 679.9,164.3 680.4,166.2 680.8,165.7 681.3,164.3 681.7,165.2 682.2,165.6 682.6,163.9 683.1,166.3 683.5,165.1" stroke="#a0a0a0"/></g><clipPath id="cpd"><rect x="57.9" y="225.9" width="159.1" height="152.6"/></clipPath><g clip-path="url(#cpd)" fill="none" stroke-width="1.5" stroke-linejoin="round" stroke-linecap="round"><path d="M58.4,262.0 59.3,272.7 60.2,284.4 61.1,288.8 62.0,304.9 62.9,310.2 63.8,322.7 64.7,321.1 65.6,331.5 66.5,309.6 67.4,339.3 68.3,333.8 69.2,315.0 70.1,332.8 71.0,326.9 71.9,303.5 72.8,328.7 73.7,316.1 74.6,319.8 75.5,316.1 76.4,349.2 77.3,323.5 78.2,323.9 79.1,306.2 80.0,320.1 80.9,308.7 81.8,309.6 82.7,295.2 83.6,332.5 84.5,330.2 85.4,317.1 86.3,316.0 87.2,314.8 88.1,325.3 89.0,333.9 89.9,324.2 90.8,331.5 91.7,327.6 92.6,340.4 93.5,302.8 94.4,309.9 95.3,322.4 96.2,331.4 97.1,320.3 98.0,329.4 98.9,312.3 99.8,311.5 100.7,317.4 101.6,334.2 102.5,332.7 103.4,317.7 104.3,327.4 105.2,273.9 106.1,325.8 107.0,313.8 107.9,325.3 108.8,318.0 109.7,325.5 110.6,319.1 111.5,317.3 112.4,327.5 113.3,322.7 114.2,326.7 115.1,322.0 116.0,333.2 116.9,317.9 117.8,335.0 118.7,341.1 119.6,324.1 120.5,345.8 121.4,348.9 122.3,332.0 123.2,312.8 124.1,310.1 125.0,359.2 125.9,346.6 126.8,333.8 127.7,335.9 128.6,325.2 129.5,320.0 130.4,332.0 131.3,316.2 132.2,326.0 133.1,333.7 134.0,328.6 134.9,333.9 135.8,323.6 136.7,334.8 137.6,332.8 138.5,310.8 139.4,317.4 140.3,320.9 141.2,335.7 142.1,332.0 143.0,331.8 143.9,330.7 144.8,335.7 145.7,339.1 146.6,323.0 147.5,312.0 148.4,336.3 149.3,326.9 150.2,347.6 151.1,327.4 152.0,317.4 152.9,313.2 153.8,339.8 154.7,341.2 155.6,339.5 156.5,331.8 157.4,332.5 158.3,325.2 159.2,330.5 160.1,325.5 161.0,324.0 161.9,332.1 162.8,348.2 163.7,309.8 164.6,336.5 165.5,337.4 166.4,317.2 167.3,333.6 168.2,331.4 169.1,325.4 170.0,325.1 170.9,315.4 171.8,345.8 172.7,355.7 173.6,347.6 174.5,327.6 175.4,349.4 176.3,334.8 177.2,317.8 178.1,328.1 179.0,336.7 179.9,326.5 180.8,312.2 181.7,317.5 182.6,333.8 183.5,327.5 184.4,326.4 185.3,345.7 186.2,332.1 187.1,323.5 188.0,330.5 188.9,354.4 189.8,319.2 190.7,350.4 191.6,346.5 192.5,329.6 193.4,327.8 194.3,346.6 195.2,334.0 196.1,325.7 197.0,351.0 197.9,333.4 198.8,335.1 199.7,331.9 200.6,328.3 201.5,332.9 202.4,327.6 203.3,337.1 204.2,343.0 205.1,343.3 206.0,331.0 206.9,347.8 207.8,339.9 208.7,325.3 209.6,342.1 210.5,314.1 211.4,324.2 212.3,335.0 213.2,313.9 214.1,347.7 215.0,321.0 215.9,315.9 216.8,387.6" stroke="#1965a8"/><path d="M58.4,262.0 59.3,276.3 60.2,288.6 61.1,304.5 62.0,305.0 62.9,303.0 63.8,333.9 64.7,330.3 65.6,305.4 66.5,315.5 67.4,319.8 68.3,329.4 69.2,339.6 70.1,329.1 71.0,321.7 71.9,330.7 72.8,323.9 73.7,328.0 74.6,319.6 75.5,314.3 76.4,339.1 77.3,308.3 78.2,327.6 79.1,320.5 80.0,321.1 80.9,346.2 81.8,333.1 82.7,338.8 83.6,332.1 84.5,321.2 85.4,354.6 86.3,335.2 87.2,336.2 88.1,321.5 89.0,324.5 89.9,333.1 90.8,309.8 91.7,319.4 92.6,331.2 93.5,351.4 94.4,331.5 95.3,317.1 96.2,315.4 97.1,337.3 98.0,319.5 98.9,324.2 99.8,324.4 100.7,328.4 101.6,324.3 102.5,320.1 103.4,341.2 104.3,341.2 105.2,321.4 106.1,314.1 107.0,327.1 107.9,342.0 108.8,332.9 109.7,316.4 110.6,331.9 111.5,334.8 112.4,328.4 113.3,330.4 114.2,328.8 115.1,304.0 116.0,322.3 116.9,315.4 117.8,317.2 118.7,311.9 119.6,333.6 120.5,336.4 121.4,329.9 122.3,333.6 123.2,329.9 124.1,321.8 125.0,331.3 125.9,326.2 126.8,327.4 127.7,308.8 128.6,324.3 129.5,333.8 130.4,326.1 131.3,321.2 132.2,313.5 133.1,323.0 134.0,343.8 134.9,323.6 135.8,340.3 136.7,329.5 137.6,340.4 138.5,324.6 139.4,333.8 140.3,336.5 141.2,333.8 142.1,320.8 143.0,326.9 143.9,321.7 144.8,329.1 145.7,327.2 146.6,328.0 147.5,336.6 148.4,320.2 149.3,322.7 150.2,324.9 151.1,328.3 152.0,322.8 152.9,335.9 153.8,320.1 154.7,368.8 155.6,331.5 156.5,342.8 157.4,320.4 158.3,328.0 159.2,332.6 160.1,348.9 161.0,332.5 161.9,346.3 162.8,324.5 163.7,346.6 164.6,325.0 165.5,314.0 166.4,312.1 167.3,334.3 168.2,329.7 169.1,334.3 170.0,331.1 170.9,344.6 171.8,332.7 172.7,345.7 173.6,334.8 174.5,328.2 175.4,314.9 176.3,337.7 177.2,347.2 178.1,324.2 179.0,375.8 179.9,338.1 180.8,337.1 181.7,347.0 182.6,332.8 183.5,333.1 184.4,346.0 185.3,325.6 186.2,331.4 187.1,321.1 188.0,334.0 188.9,363.3 189.8,344.8 190.7,323.7 191.6,315.4 192.5,338.6 193.4,340.1 194.3,327.1 195.2,346.5 196.1,337.4 197.0,340.4 197.9,341.0 198.8,415.4 199.7,329.0 200.6,326.5 201.5,347.1 202.4,332.1 203.3,321.4 204.2,337.3 205.1,329.0 206.0,336.9 206.9,415.7 207.8,351.6 208.7,329.4 209.6,321.7 210.5,333.8 211.4,324.4 212.3,336.3 213.2,336.9 214.1,329.0 215.0,334.1 215.9,320.3 216.8,332.7" stroke="#0cb84a"/><path d="M58.4,258.0 59.3,265.8 60.2,270.9 61.1,279.1 62.0,300.5 62.9,309.2 63.8,301.3 64.7,295.1 65.6,322.1 66.5,325.6 67.4,316.8 68.3,313.1 69.2,329.8 70.1,346.9 71.0,333.8 71.9,318.2 72.8,322.6 73.7,306.7 74.6,290.4 75.5,321.5 76.4,316.9 77.3,343.2 78.2,320.5 79.1,334.8 80.0,332.4 80.9,305.6 81.8,315.5 82.7,316.8 83.6,306.1 84.5,325.5 85.4,320.1 86.3,309.9 87.2,343.2 88.1,319.3 89.0,325.0 89.9,316.8 90.8,317.7 91.7,321.0 92.6,325.1 93.5,319.9 94.4,335.7 95.3,324.7 96.2,319.9 97.1,314.4 98.0,296.3 98.9,311.0 99.8,322.7 100.7,323.8 101.6,330.1 102.5,316.8 103.4,336.7 104.3,295.4 105.2,326.6 106.1,305.9 107.0,335.5 107.9,329.6 108.8,310.2 109.7,313.0 110.6,332.2 111.5,323.8 112.4,320.7 113.3,313.3 114.2,326.8 115.1,317.1 116.0,317.1 116.9,311.9 117.8,340.1 118.7,320.1 119.6,314.3 120.5,312.9 121.4,319.1 122.3,311.3 123.2,335.8 124.1,328.4 125.0,316.5 125.9,342.3 126.8,308.3 127.7,329.6 128.6,325.6 129.5,317.5 130.4,335.8 131.3,329.8 132.2,326.3 133.1,345.4 134.0,343.2 134.9,329.7 135.8,322.3 136.7,316.0 137.6,331.4 138.5,312.8 139.4,314.3 140.3,365.4 141.2,312.2 142.1,325.6 143.0,324.9 143.9,328.6 144.8,310.5 145.7,315.6 146.6,308.2 147.5,309.1 148.4,333.9 149.3,325.0 150.2,313.1 151.1,310.0 152.0,396.4 152.9,316.2 153.8,320.1 154.7,326.1 155.6,335.8 156.5,329.2 157.4,343.3 158.3,338.8 159.2,328.3 160.1,308.2 161.0,304.4 161.9,325.1 162.8,343.0 163.7,337.9 164.6,335.6 165.5,325.0 166.4,348.4 167.3,325.8 168.2,312.2 169.1,327.6 170.0,331.4 170.9,315.3 171.8,342.8 172.7,318.6 173.6,334.1 174.5,355.6 175.4,331.6 176.3,327.5 177.2,334.0 178.1,323.3 179.0,337.2 179.9,330.0 180.8,324.1 181.7,326.3 182.6,322.2 183.5,322.7 184.4,331.5 185.3,323.7 186.2,329.6 187.1,331.1 188.0,318.3 188.9,336.0 189.8,323.1 190.7,338.6 191.6,321.9 192.5,323.6 193.4,326.8 194.3,330.6 195.2,329.2 196.1,333.0 197.0,329.6 197.9,325.4 198.8,320.2 199.7,328.8 200.6,316.2 201.5,333.8 202.4,315.8 203.3,320.7 204.2,337.0 205.1,316.4 206.0,323.0 206.9,317.2 207.8,329.4 208.7,322.4 209.6,333.3 210.5,329.9 211.4,327.9 212.3,325.1 213.2,325.3 214.1,329.6 215.0,319.9 215.9,331.5 216.8,330.5" stroke="#ff980f"/><path d="M58.4,256.0 59.3,261.5 60.2,275.4 61.1,280.3 62.0,291.7 62.9,297.7 63.8,302.6 64.7,307.4 65.6,309.0 66.5,303.7 67.4,319.1 68.3,319.5 69.2,312.9 70.1,306.4 71.0,304.8 71.9,303.5 72.8,338.9 73.7,311.1 74.6,324.9 75.5,285.3 76.4,323.6 77.3,316.0 78.2,309.5 79.1,327.6 80.0,317.9 80.9,325.1 81.8,328.6 82.7,322.2 83.6,311.4 84.5,319.1 85.4,328.3 86.3,310.4 87.2,323.6 88.1,315.5 89.0,312.5 89.9,311.7 90.8,306.1 91.7,315.2 92.6,322.5 93.5,325.9 94.4,314.0 95.3,320.8 96.2,317.3 97.1,321.5 98.0,309.8 98.9,326.7 99.8,327.8 100.7,323.2 101.6,310.8 102.5,338.5 103.4,316.4 104.3,324.8 105.2,308.5 106.1,311.6 107.0,323.7 107.9,304.2 108.8,324.5 109.7,341.6 110.6,304.2 111.5,316.7 112.4,329.3 113.3,316.1 114.2,329.1 115.1,322.1 116.0,301.7 116.9,291.8 117.8,317.6 118.7,330.5 119.6,311.2 120.5,334.2 121.4,303.1 122.3,327.9 123.2,318.7 124.1,319.6 125.0,317.1 125.9,313.8 126.8,320.2 127.7,309.0 128.6,331.5 129.5,308.5 130.4,328.2 131.3,309.9 132.2,307.0 133.1,374.5 134.0,325.8 134.9,322.7 135.8,341.6 136.7,275.0 137.6,332.6 138.5,326.0 139.4,341.4 140.3,310.6 141.2,294.8 142.1,316.8 143.0,312.9 143.9,306.0 144.8,320.1 145.7,319.6 146.6,312.6 147.5,320.2 148.4,303.8 149.3,338.5 150.2,328.5 151.1,325.2 152.0,331.0 152.9,319.3 153.8,315.9 154.7,317.1 155.6,314.9 156.5,318.3 157.4,335.1 158.3,318.0 159.2,338.8 160.1,328.2 161.0,344.6 161.9,317.9 162.8,315.8 163.7,342.8 164.6,299.9 165.5,332.2 166.4,329.0 167.3,325.4 168.2,325.2 169.1,334.6 170.0,314.4 170.9,328.2 171.8,328.4 172.7,333.2 173.6,311.5 174.5,329.9 175.4,316.2 176.3,330.7 177.2,322.0 178.1,325.8 179.0,313.7 179.9,317.5 180.8,324.5 181.7,321.9 182.6,330.7 183.5,345.4 184.4,324.9 185.3,315.5 186.2,322.1 187.1,337.8 188.0,326.3 188.9,336.5 189.8,327.7 190.7,336.5 191.6,321.0 192.5,340.0 193.4,328.3 194.3,332.3 195.2,341.2 196.1,301.6 197.0,341.2 197.9,352.6 198.8,323.5 199.7,319.8 200.6,323.8 201.5,333.4 202.4,324.7 203.3,312.4 204.2,314.6 205.1,307.1 206.0,319.1 206.9,312.8 207.8,307.0 208.7,329.1 209.6,324.0 210.5,331.1 211.4,301.8 212.3,335.1 213.2,342.0 214.1,319.8 215.0,309.1 215.9,302.5 216.8,335.2" stroke="#fe2f08"/><path d="M58.4,252.0 59.3,263.1 60.2,268.2 61.1,270.8 62.0,280.7 62.9,281.9 63.8,280.6 64.7,298.4 65.6,299.3 66.5,302.5 67.4,296.7 68.3,284.4 69.2,329.7 70.1,308.3 71.0,314.9 71.9,302.2 72.8,298.5 73.7,316.0 74.6,319.4 75.5,300.1 76.4,304.3 77.3,303.1 78.2,299.4 79.1,300.6 80.0,311.9 80.9,293.4 81.8,333.8 82.7,297.1 83.6,308.1 84.5,330.8 85.4,308.3 86.3,313.4 87.2,319.6 88.1,331.0 89.0,304.4 89.9,329.6 90.8,302.6 91.7,333.8 92.6,326.1 93.5,316.2 94.4,311.3 95.3,331.0 96.2,324.2 97.1,328.0 98.0,301.4 98.9,315.1 99.8,318.5 100.7,321.4 101.6,298.3 102.5,298.7 103.4,320.9 104.3,314.1 105.2,318.1 106.1,304.2 107.0,317.0 107.9,306.6 108.8,303.7 109.7,303.9 110.6,319.6 111.5,299.0 112.4,297.6 113.3,307.1 114.2,319.3 115.1,323.0 116.0,323.4 116.9,326.3 117.8,311.0 118.7,312.0 119.6,333.0 120.5,315.5 121.4,320.2 122.3,312.3 123.2,321.9 124.1,304.3 125.0,312.4 125.9,314.6 126.8,315.0 127.7,323.6 128.6,326.6 129.5,326.9 130.4,317.9 131.3,311.1 132.2,316.5 133.1,312.9 134.0,308.7 134.9,334.7 135.8,305.1 136.7,325.0 137.6,327.1 138.5,299.2 139.4,338.9 140.3,313.5 141.2,306.1 142.1,341.8 143.0,314.6 143.9,319.1 144.8,334.4 145.7,307.6 146.6,307.8 147.5,325.6 148.4,322.7 149.3,309.4 150.2,302.7 151.1,303.9 152.0,324.0 152.9,332.2 153.8,331.7 154.7,323.7 155.6,323.5 156.5,296.1 157.4,319.1 158.3,314.0 159.2,333.9 160.1,317.4 161.0,325.3 161.9,321.7 162.8,324.5 163.7,325.8 164.6,342.7 165.5,335.8 166.4,324.8 167.3,312.6 168.2,338.8 169.1,329.8 170.0,321.7 170.9,315.0 171.8,309.9 172.7,331.8 173.6,332.2 174.5,321.5 175.4,321.0 176.3,340.1 177.2,326.8 178.1,319.6 179.0,314.0 179.9,331.4 180.8,330.1 181.7,310.1 182.6,298.1 183.5,328.4 184.4,328.5 185.3,332.7 186.2,329.0 187.1,303.0 188.0,333.3 188.9,317.5 189.8,337.3 190.7,325.0 191.6,318.1 192.5,309.8 193.4,316.3 194.3,325.0 195.2,320.0 196.1,334.8 197.0,321.4 197.9,325.3 198.8,314.6 199.7,314.5 200.6,315.7 201.5,311.7 202.4,332.8 203.3,337.7 204.2,315.6 205.1,318.0 206.0,335.3 206.9,328.2 207.8,330.3 208.7,310.9 209.6,343.3 210.5,326.4 211.4,326.1 212.3,311.7 213.2,321.2 214.1,321.6 215.0,319.7 215.9,325.6 216.8,331.5" stroke="#8b6299"/><path d="M58.4,248.0 59.3,250.3 60.2,252.7 61.1,255.1 62.0,259.8 62.9,260.7 63.8,265.0 64.7,270.8 65.6,265.5 66.5,270.6 67.4,274.4 68.3,274.0 69.2,273.7 70.1,272.9 71.0,292.8 71.9,290.4 72.8,287.8 73.7,289.2 74.6,306.8 75.5,308.4 76.4,303.9 77.3,311.7 78.2,318.1 79.1,309.1 80.0,311.4 80.9,319.2 81.8,325.1 82.7,311.8 83.6,316.7 84.5,330.6 85.4,336.3 86.3,333.4 87.2,328.0 88.1,338.5 89.0,320.7 89.9,324.8 90.8,323.8 91.7,336.6 92.6,318.3 93.5,322.1 94.4,346.8 95.3,322.6 96.2,307.6 97.1,337.3 98.0,340.2 98.9,319.2 99.8,319.5 100.7,323.0 101.6,330.9 102.5,343.8 103.4,341.3 104.3,314.9 105.2,347.0 106.1,321.5 107.0,333.4 107.9,329.7 108.8,326.2 109.7,317.5 110.6,354.7 111.5,330.4 112.4,346.4 113.3,323.0 114.2,337.6 115.1,325.3 116.0,335.7 116.9,342.3 117.8,321.8 118.7,330.0 119.6,335.9 120.5,343.6 121.4,342.8 122.3,325.5 123.2,320.1 124.1,329.2 125.0,341.0 125.9,343.3 126.8,316.8 127.7,310.0 128.6,325.1 129.5,335.0 130.4,345.2 131.3,322.6 132.2,332.0 133.1,343.4 134.0,323.4 134.9,341.6 135.8,349.9 136.7,359.0 137.6,352.6 138.5,329.2 139.4,316.3 140.3,350.9 141.2,341.8 142.1,348.6 143.0,335.3 143.9,320.4 144.8,328.1 145.7,329.6 146.6,325.6 147.5,335.3 148.4,337.1 149.3,327.1 150.2,313.5 151.1,306.7 152.0,332.3 152.9,331.9 153.8,324.4 154.7,351.1 155.6,325.5 156.5,340.0 157.4,339.4 158.3,325.7 159.2,348.0 160.1,338.0 161.0,336.9 161.9,318.5 162.8,325.1 163.7,321.3 164.6,331.3 165.5,333.6 166.4,342.0 167.3,315.3 168.2,335.7 169.1,335.3 170.0,342.5 170.9,304.2 171.8,339.9 172.7,318.6 173.6,332.1 174.5,326.8 175.4,323.3 176.3,344.8 177.2,342.1 178.1,346.9 179.0,336.7 179.9,318.6 180.8,342.7 181.7,338.8 182.6,351.2 183.5,336.9 184.4,327.0 185.3,338.9 186.2,317.1 187.1,331.5 188.0,317.5 188.9,359.2 189.8,334.0 190.7,327.9 191.6,340.8 192.5,355.5 193.4,344.4 194.3,344.3 195.2,336.0 196.1,346.4 197.0,329.7 197.9,316.4 198.8,331.2 199.7,348.3 200.6,316.0 201.5,307.5 202.4,351.6 203.3,318.6 204.2,341.1 205.1,325.7 206.0,344.3 206.9,320.7 207.8,323.0 208.7,337.1 209.6,332.1 210.5,341.7 211.4,352.9 212.3,329.8 213.2,333.7 214.1,332.3 215.0,328.9 215.9,343.6 216.8,330.8" stroke="#444444"/><path d="M58.4,252.0 59.3,257.2 60.2,260.9 61.1,270.4 62.0,278.5 62.9,284.1 63.8,275.9 64.7,283.4 65.6,294.2 66.5,309.2 67.4,288.7 68.3,311.9 69.2,313.7 70.1,303.8 71.0,291.7 71.9,298.4 72.8,301.2 73.7,311.2 74.6,313.4 75.5,296.3 76.4,304.7 77.3,305.6 78.2,304.6 79.1,315.2 80.0,304.3 80.9,306.5 81.8,293.8 82.7,309.0 83.6,299.3 84.5,325.6 85.4,326.7 86.3,310.5 87.2,334.9 88.1,298.6 89.0,337.7 89.9,311.0 90.8,318.4 91.7,312.2 92.6,298.1 93.5,308.4 94.4,307.9 95.3,295.1 96.2,315.6 97.1,317.7 98.0,302.4 98.9,330.9 99.8,314.0 100.7,305.7 101.6,329.0 102.5,305.8 103.4,312.7 104.3,294.8 105.2,301.4 106.1,327.7 107.0,314.7 107.9,304.1 108.8,322.7 109.7,304.4 110.6,300.6 111.5,302.8 112.4,310.7 113.3,292.2 114.2,319.5 115.1,333.3 116.0,304.6 116.9,314.3 117.8,315.1 118.7,317.5 119.6,319.6 120.5,297.2 121.4,326.7 122.3,313.1 123.2,308.8 124.1,315.7 125.0,296.0 125.9,302.0 126.8,310.2 127.7,300.4 128.6,303.5 129.5,320.6 130.4,318.4 131.3,303.5 132.2,293.5 133.1,315.8 134.0,317.6 134.9,313.7 135.8,305.2 136.7,314.9 137.6,311.1 138.5,316.2 139.4,319.8 140.3,314.2 141.2,312.7 142.1,319.6 143.0,317.2 143.9,306.8 144.8,313.9 145.7,321.0 146.6,326.2 147.5,312.1 148.4,313.6 149.3,305.5 150.2,317.2 151.1,325.1 152.0,319.1 152.9,311.1 153.8,321.2 154.7,315.4 155.6,321.3 156.5,304.1 157.4,311.8 158.3,322.7 159.2,325.9 160.1,308.6 161.0,311.3 161.9,332.9 162.8,341.8 163.7,314.6 164.6,320.6 165.5,311.1 166.4,300.9 167.3,316.5 168.2,313.1 169.1,310.7 170.0,316.5 170.9,308.4 171.8,312.0 172.7,299.4 173.6,327.6 174.5,329.7 175.4,306.3 176.3,302.1 177.2,320.4 178.1,324.1 179.0,312.7 179.9,306.8 180.8,333.8 181.7,310.8 182.6,320.5 183.5,319.7 184.4,329.8 185.3,328.8 186.2,329.8 187.1,303.7 188.0,316.1 188.9,327.3 189.8,318.9 190.7,311.3 191.6,324.4 192.5,312.5 193.4,315.6 194.3,325.0 195.2,322.6 196.1,334.7 197.0,323.8 197.9,350.1 198.8,327.0 199.7,401.0 200.6,318.2 201.5,318.9 202.4,313.8 203.3,320.1 204.2,319.2 205.1,319.3 206.0,308.9 206.9,323.0 207.8,318.7 208.7,316.4 209.6,316.4 210.5,311.7 211.4,311.4 212.3,335.0 213.2,319.5 214.1,324.7 215.0,351.8 215.9,304.4 216.8,316.6" stroke="#a0a0a0"/></g><clipPath id="cpe"><rect x="299.8" y="225.9" width="158.59999999999997" height="152.6"/></clipPath><g clip-path="url(#cpe)" fill="none" stroke-width="1.6" stroke-linejoin="round" stroke-linecap="round"><path d="M300.4,298.0 300.8,299.9 301.2,301.7 301.6,304.0 302.0,303.8 302.4,309.4 302.8,310.1 303.2,309.7 303.6,310.9 304.0,312.6 304.4,316.0 304.8,323.2 305.2,323.6 305.6,319.7 306.0,321.1 306.4,331.4 306.8,328.5 307.2,322.8 307.6,325.7 308.0,325.2 308.4,328.2 308.8,332.0 309.2,329.3 309.6,333.5 310.0,336.3 310.4,339.1 310.8,335.8 311.2,338.9 311.6,348.5 312.0,341.8 312.4,343.9 312.8,346.4 313.2,343.3 313.6,344.5 314.0,352.5 314.4,351.1 314.8,341.9 315.2,345.5 315.6,339.7 316.0,338.2 316.4,343.8 316.8,349.9 317.2,345.0 317.6,352.1 318.0,344.0 318.4,349.5 318.8,349.9 319.2,350.1 319.6,353.0 320.0,350.7 320.4,345.8 320.8,342.3 321.2,345.2 321.6,347.3 322.0,345.6 322.4,342.1 322.8,341.4 323.2,351.0 323.6,349.0 324.0,345.9 324.4,349.7 324.8,350.0 325.2,347.4 325.6,346.5 326.0,352.1 326.4,350.7 326.8,352.5 327.2,350.6 327.6,347.6 328.0,345.1 328.4,346.0 328.8,345.9 329.2,349.2 329.6,350.6 330.0,354.8 330.4,355.6 330.8,350.4 331.2,351.5 331.6,345.1 332.0,346.6 332.4,345.2 332.8,350.3 333.2,348.5 333.6,348.3 334.0,351.7 334.4,345.5 334.8,352.7 335.2,355.1 335.6,358.1 336.0,349.2 336.4,352.1 336.8,346.6 337.2,359.9 337.6,355.1 338.0,357.5 338.4,351.7 338.8,356.7 339.2,355.4 339.6,353.1 340.0,353.0 340.4,353.5 340.8,353.3 341.2,349.5 341.6,360.5 342.0,355.2 342.4,355.8 342.8,356.0 343.2,354.8 343.6,355.7 344.0,358.2 344.4,355.1 344.8,360.5 345.2,354.5 345.6,358.8 346.0,350.2 346.4,353.8 346.8,354.6 347.2,356.4 347.6,356.3 348.0,348.1 348.4,349.9 348.8,358.7 349.2,352.5 349.6,349.3 350.0,360.0 350.4,359.2 350.8,353.8 351.2,357.1 351.6,364.7 352.0,358.9 352.4,358.7 352.8,358.9 353.2,364.6 353.6,353.1 354.0,359.7 354.4,358.3 354.8,359.5 355.2,360.6 355.6,358.3 356.0,360.7 356.4,360.7 356.8,364.7 357.2,351.6 357.6,359.5 358.0,360.1 358.4,354.5 358.8,364.0 359.2,360.8 359.6,353.0 360.0,358.6 360.4,362.6 360.8,361.1 361.2,358.5 361.6,363.9 362.0,363.2 362.4,358.7 362.8,360.9 363.2,365.7 363.6,364.3 364.0,355.8 364.4,356.5 364.8,363.7 365.2,361.0 365.6,359.4 366.0,358.6 366.4,361.2 366.8,364.5 367.2,353.2 367.6,365.2 368.0,359.1 368.4,357.8 368.8,360.2 369.2,358.5 369.6,358.9 370.0,362.8 370.4,361.3 370.8,366.4 371.2,357.1 371.6,365.1 372.0,357.5 372.4,362.1 372.8,359.9 373.2,364.3 373.6,356.2 374.0,361.2 374.4,367.1 374.8,367.0 375.2,362.5 375.6,367.2 376.0,369.1 376.4,367.4 376.8,369.7 377.2,368.3 377.6,355.6 378.0,365.0 378.4,374.4 378.8,358.9 379.2,358.1 379.6,358.7 380.0,355.3 380.4,356.9 380.8,357.5 381.2,365.0 381.6,356.6 382.0,359.6 382.4,357.0 382.8,354.6 383.2,356.1 383.6,354.9 384.0,364.4 384.4,358.9 384.8,354.7 385.2,360.3 385.6,368.4 386.0,362.4 386.4,361.7 386.8,363.3 387.2,361.4 387.6,359.6 388.0,368.6 388.4,351.7 388.8,361.6 389.2,359.5 389.6,361.2 390.0,358.2 390.4,364.1 390.8,364.7 391.2,358.4 391.6,351.9 392.0,352.6 392.4,352.8 392.8,350.0 393.2,348.2 393.6,359.0 394.0,355.9 394.4,348.9 394.8,349.4 395.2,353.2 395.6,351.4 396.0,356.9 396.4,358.5 396.8,356.4 397.2,353.3 397.6,356.0 398.0,351.7 398.4,357.0 398.8,365.5 399.2,357.1 399.6,361.7 400.0,363.5 400.4,364.6 400.8,353.1 401.2,356.6 401.6,354.7 402.0,361.3 402.4,360.0 402.8,352.0 403.2,354.0 403.6,357.8 404.0,364.7 404.4,356.6 404.8,363.2 405.2,356.4 405.6,355.6 406.0,363.7 406.4,358.3 406.8,355.9 407.2,366.9 407.6,365.0 408.0,358.1 408.4,366.1 408.8,364.6 409.2,365.2 409.6,359.5 410.0,362.2 410.4,356.0 410.8,355.9 411.2,366.3 411.6,360.8 412.0,362.3 412.4,359.2 412.8,356.3 413.2,354.5 413.6,356.4 414.0,352.4 414.4,347.0 414.8,357.1 415.2,359.0 415.6,358.2 416.0,362.5 416.4,359.2 416.8,359.7 417.2,364.3 417.6,362.0 418.0,354.8 418.4,357.3 418.8,356.8 419.2,363.2 419.6,354.4 420.0,351.3 420.4,350.6 420.8,354.7 421.2,353.4 421.6,355.7 422.0,352.7 422.4,350.5 422.8,355.6 423.2,358.2 423.6,357.7 424.0,352.3 424.4,357.8 424.8,362.9 425.2,362.1 425.6,359.6 426.0,361.0 426.4,361.5 426.8,364.2 427.2,362.1 427.6,365.1 428.0,364.0 428.4,363.9 428.8,366.2 429.2,366.5 429.6,362.1 430.0,363.0 430.4,368.1 430.8,364.1 431.2,361.0 431.6,363.6 432.0,361.6 432.4,364.7 432.8,364.3 433.2,367.9 433.6,363.4 434.0,363.0 434.4,365.7 434.8,363.0 435.2,357.7 435.6,361.6 436.0,360.5 436.4,362.9 436.8,368.2 437.2,374.3 437.6,366.5 438.0,364.0 438.4,359.7 438.8,362.5 439.2,366.1 439.6,356.5 440.0,360.0 440.4,360.9 440.8,360.7 441.2,365.0 441.6,355.2 442.0,354.9 442.4,349.3 442.8,350.8 443.2,349.0 443.6,352.8 444.0,354.2 444.4,355.3 444.8,355.7 445.2,351.1 445.6,349.4 446.0,349.7 446.4,352.5 446.8,352.3 447.2,350.0 447.6,356.6 448.0,352.1 448.4,356.7 448.8,355.9 449.2,359.9 449.6,360.7 450.0,355.6 450.4,360.4 450.8,366.2 451.2,360.4 451.6,354.6 452.0,366.3 452.4,354.5 452.8,360.3 453.2,353.4 453.6,359.8 454.0,356.1 454.4,358.1 454.8,356.5 455.2,349.8 455.6,349.2 456.0,352.0 456.4,358.7 456.8,357.2 457.2,361.5 457.6,362.7 458.0,365.7" stroke="#1965a8"/><path d="M300.4,262.0 300.8,266.6 301.2,272.4 301.6,278.0 302.0,281.4 302.4,288.7 302.8,297.5 303.2,299.8 303.6,302.0 304.0,301.3 304.4,307.1 304.8,308.4 305.2,307.8 305.6,313.2 306.0,313.1 306.4,309.7 306.8,314.9 307.2,311.4 307.6,318.3 308.0,315.8 308.4,315.7 308.8,314.4 309.2,321.2 309.6,317.2 310.0,317.1 310.4,318.1 310.8,321.7 311.2,321.9 311.6,322.8 312.0,323.6 312.4,330.0 312.8,322.1 313.2,322.3 313.6,321.8 314.0,327.0 314.4,329.2 314.8,325.7 315.2,324.1 315.6,325.1 316.0,330.9 316.4,331.9 316.8,331.6 317.2,327.7 317.6,330.5 318.0,329.7 318.4,329.4 318.8,330.6 319.2,327.2 319.6,327.6 320.0,324.6 320.4,324.9 320.8,326.1 321.2,319.5 321.6,324.0 322.0,324.5 322.4,325.0 322.8,327.3 323.2,334.3 323.6,327.1 324.0,333.8 324.4,325.1 324.8,329.7 325.2,331.6 325.6,333.5 326.0,334.6 326.4,335.8 326.8,332.8 327.2,333.1 327.6,338.1 328.0,334.8 328.4,331.2 328.8,331.4 329.2,331.8 329.6,336.2 330.0,334.8 330.4,336.5 330.8,332.9 331.2,335.2 331.6,337.2 332.0,334.4 332.4,337.1 332.8,333.2 333.2,333.7 333.6,333.1 334.0,329.9 334.4,335.2 334.8,331.7 335.2,333.1 335.6,334.6 336.0,334.6 336.4,335.7 336.8,333.7 337.2,333.3 337.6,335.2 338.0,330.4 338.4,331.7 338.8,332.6 339.2,334.3 339.6,339.7 340.0,335.9 340.4,338.2 340.8,344.2 341.2,339.3 341.6,343.6 342.0,338.7 342.4,341.7 342.8,339.6 343.2,342.0 343.6,346.1 344.0,337.8 344.4,345.4 344.8,345.1 345.2,342.8 345.6,340.5 346.0,345.9 346.4,344.0 346.8,346.6 347.2,345.6 347.6,350.4 348.0,343.8 348.4,340.8 348.8,344.4 349.2,344.1 349.6,347.5 350.0,345.4 350.4,343.5 350.8,347.1 351.2,338.2 351.6,340.1 352.0,339.5 352.4,341.8 352.8,339.1 353.2,346.8 353.6,344.9 354.0,341.8 354.4,344.4 354.8,349.9 355.2,352.6 355.6,357.3 356.0,361.0 356.4,352.9 356.8,348.0 357.2,343.8 357.6,351.1 358.0,346.7 358.4,347.4 358.8,346.3 359.2,347.6 359.6,351.8 360.0,349.2 360.4,348.9 360.8,346.7 361.2,345.2 361.6,349.6 362.0,351.3 362.4,357.3 362.8,351.6 363.2,354.2 363.6,348.9 364.0,346.4 364.4,347.1 364.8,348.1 365.2,358.0 365.6,348.4 366.0,354.1 366.4,348.2 366.8,354.2 367.2,352.0 367.6,350.0 368.0,350.2 368.4,348.1 368.8,352.0 369.2,349.3 369.6,347.3 370.0,347.8 370.4,353.4 370.8,358.6 371.2,354.0 371.6,352.8 372.0,353.7 372.4,356.6 372.8,352.5 373.2,350.0 373.6,354.6 374.0,352.1 374.4,355.6 374.8,351.1 375.2,346.6 375.6,346.3 376.0,356.7 376.4,357.3 376.8,351.0 377.2,350.4 377.6,356.5 378.0,347.7 378.4,348.1 378.8,352.9 379.2,348.8 379.6,349.6 380.0,348.6 380.4,349.9 380.8,353.3 381.2,349.0 381.6,351.1 382.0,342.5 382.4,349.7 382.8,347.4 383.2,346.4 383.6,347.6 384.0,349.3 384.4,353.2 384.8,345.3 385.2,349.3 385.6,347.1 386.0,347.3 386.4,351.5 386.8,349.8 387.2,352.3 387.6,347.1 388.0,344.9 388.4,346.1 388.8,347.2 389.2,346.4 389.6,341.7 390.0,345.3 390.4,345.6 390.8,353.3 391.2,351.4 391.6,342.7 392.0,345.0 392.4,341.1 392.8,343.9 393.2,346.6 393.6,349.1 394.0,342.2 394.4,342.2 394.8,336.9 395.2,343.5 395.6,340.5 396.0,342.5 396.4,341.5 396.8,344.2 397.2,338.5 397.6,339.2 398.0,350.7 398.4,338.5 398.8,338.4 399.2,347.6 399.6,350.4 400.0,336.0 400.4,338.0 400.8,339.7 401.2,343.8 401.6,334.2 402.0,336.5 402.4,339.8 402.8,338.8 403.2,336.3 403.6,337.5 404.0,334.1 404.4,338.8 404.8,339.7 405.2,342.4 405.6,340.6 406.0,344.9 406.4,347.4 406.8,344.8 407.2,345.5 407.6,344.4 408.0,343.9 408.4,341.2 408.8,344.3 409.2,342.6 409.6,349.8 410.0,347.9 410.4,343.8 410.8,339.7 411.2,338.2 411.6,345.4 412.0,341.6 412.4,341.3 412.8,332.8 413.2,340.8 413.6,338.7 414.0,333.2 414.4,335.5 414.8,338.4 415.2,338.4 415.6,338.1 416.0,339.6 416.4,339.9 416.8,341.8 417.2,346.7 417.6,333.5 418.0,341.6 418.4,343.2 418.8,343.8 419.2,341.7 419.6,337.1 420.0,343.7 420.4,347.9 420.8,336.3 421.2,343.7 421.6,339.1 422.0,339.5 422.4,335.7 422.8,337.8 423.2,343.0 423.6,340.4 424.0,344.2 424.4,342.4 424.8,340.1 425.2,344.6 425.6,340.3 426.0,341.8 426.4,338.2 426.8,339.7 427.2,337.3 427.6,343.2 428.0,336.0 428.4,342.7 428.8,339.3 429.2,343.8 429.6,342.1 430.0,345.4 430.4,341.3 430.8,332.9 431.2,337.3 431.6,333.1 432.0,335.2 432.4,342.3 432.8,339.8 433.2,336.0 433.6,335.5 434.0,339.5 434.4,335.5 434.8,337.4 435.2,341.0 435.6,344.1 436.0,342.7 436.4,333.3 436.8,342.5 437.2,342.3 437.6,344.1 438.0,348.8 438.4,336.9 438.8,342.1 439.2,346.1 439.6,338.6 440.0,348.5 440.4,344.2 440.8,345.1 441.2,339.8 441.6,343.9 442.0,344.5 442.4,341.9 442.8,342.4 443.2,343.2 443.6,340.3 444.0,343.4 444.4,343.7 444.8,345.5 445.2,347.0 445.6,339.3 446.0,341.5 446.4,346.0 446.8,338.0 447.2,337.6 447.6,341.2 448.0,343.7 448.4,341.3 448.8,345.9 449.2,344.3 449.6,344.0 450.0,342.4 450.4,347.6 450.8,338.3 451.2,331.5 451.6,343.0 452.0,335.8 452.4,337.8 452.8,342.2 453.2,333.1 453.6,334.9 454.0,334.2 454.4,337.3 454.8,341.6 455.2,342.0 455.6,341.3 456.0,335.7 456.4,332.6 456.8,340.4 457.2,338.4 457.6,341.3 458.0,341.9" stroke="#0cb84a"/><path d="M300.4,252.0 300.8,255.7 301.2,258.7 301.6,261.9 302.0,264.2 302.4,269.4 302.8,269.9 303.2,271.8 303.6,271.2 304.0,276.8 304.4,277.4 304.8,275.4 305.2,274.7 305.6,275.7 306.0,274.9 306.4,278.4 306.8,277.6 307.2,283.2 307.6,282.1 308.0,284.2 308.4,292.7 308.8,287.4 309.2,286.5 309.6,294.4 310.0,287.8 310.4,296.4 310.8,299.4 311.2,296.9 311.6,297.0 312.0,290.8 312.4,299.7 312.8,299.6 313.2,294.8 313.6,305.1 314.0,295.3 314.4,294.3 314.8,294.5 315.2,301.3 315.6,303.3 316.0,304.9 316.4,303.7 316.8,303.4 317.2,310.2 317.6,305.8 318.0,306.0 318.4,315.6 318.8,312.6 319.2,314.6 319.6,316.1 320.0,313.1 320.4,313.9 320.8,318.2 321.2,314.3 321.6,317.5 322.0,316.0 322.4,312.2 322.8,318.8 323.2,311.0 323.6,315.5 324.0,314.7 324.4,318.5 324.8,311.0 325.2,313.4 325.6,315.5 326.0,317.3 326.4,320.3 326.8,319.1 327.2,318.5 327.6,322.0 328.0,325.5 328.4,314.2 328.8,318.4 329.2,320.8 329.6,318.7 330.0,323.3 330.4,317.9 330.8,316.2 331.2,322.9 331.6,311.6 332.0,319.4 332.4,328.7 332.8,321.0 333.2,322.0 333.6,317.7 334.0,320.8 334.4,320.8 334.8,327.8 335.2,319.2 335.6,314.4 336.0,325.5 336.4,329.7 336.8,322.5 337.2,318.5 337.6,320.3 338.0,324.4 338.4,320.3 338.8,321.5 339.2,313.3 339.6,319.2 340.0,323.6 340.4,320.6 340.8,318.5 341.2,325.6 341.6,325.6 342.0,321.1 342.4,320.5 342.8,327.6 343.2,322.3 343.6,324.1 344.0,331.1 344.4,326.4 344.8,324.5 345.2,320.0 345.6,326.6 346.0,326.2 346.4,324.5 346.8,329.5 347.2,322.4 347.6,321.7 348.0,324.5 348.4,327.2 348.8,322.7 349.2,324.1 349.6,325.5 350.0,328.4 350.4,326.4 350.8,332.0 351.2,321.7 351.6,330.3 352.0,327.2 352.4,330.8 352.8,336.0 353.2,329.6 353.6,330.9 354.0,333.6 354.4,327.1 354.8,333.9 355.2,334.3 355.6,330.8 356.0,332.7 356.4,330.1 356.8,326.5 357.2,324.2 357.6,331.6 358.0,334.4 358.4,326.5 358.8,330.9 359.2,326.3 359.6,329.2 360.0,329.4 360.4,327.4 360.8,330.8 361.2,334.2 361.6,332.9 362.0,329.6 362.4,336.0 362.8,332.1 363.2,337.4 363.6,327.4 364.0,341.5 364.4,331.2 364.8,328.1 365.2,328.5 365.6,335.0 366.0,334.8 366.4,334.5 366.8,333.9 367.2,328.3 367.6,331.7 368.0,325.1 368.4,330.5 368.8,336.4 369.2,329.2 369.6,344.1 370.0,341.4 370.4,334.2 370.8,340.9 371.2,340.8 371.6,339.1 372.0,342.2 372.4,340.2 372.8,341.9 373.2,344.7 373.6,345.2 374.0,345.2 374.4,345.2 374.8,346.7 375.2,345.1 375.6,337.7 376.0,338.1 376.4,344.6 376.8,344.6 377.2,341.4 377.6,339.2 378.0,343.4 378.4,343.7 378.8,336.7 379.2,342.1 379.6,337.3 380.0,340.1 380.4,341.4 380.8,346.5 381.2,333.6 381.6,339.0 382.0,341.9 382.4,341.3 382.8,341.4 383.2,334.8 383.6,336.9 384.0,335.2 384.4,340.4 384.8,335.2 385.2,335.5 385.6,335.9 386.0,331.1 386.4,337.4 386.8,332.6 387.2,337.4 387.6,335.1 388.0,342.1 388.4,338.8 388.8,345.3 389.2,331.8 389.6,343.4 390.0,341.7 390.4,339.8 390.8,345.9 391.2,334.1 391.6,339.4 392.0,342.7 392.4,340.4 392.8,336.7 393.2,339.3 393.6,335.0 394.0,334.4 394.4,332.8 394.8,338.0 395.2,335.7 395.6,343.3 396.0,338.5 396.4,331.4 396.8,339.3 397.2,333.4 397.6,336.2 398.0,337.4 398.4,332.9 398.8,334.3 399.2,333.5 399.6,336.2 400.0,335.7 400.4,336.0 400.8,342.2 401.2,338.8 401.6,338.6 402.0,340.8 402.4,343.0 402.8,341.1 403.2,332.3 403.6,336.6 404.0,336.7 404.4,337.0 404.8,333.5 405.2,334.6 405.6,331.9 406.0,333.9 406.4,331.3 406.8,338.9 407.2,332.5 407.6,330.3 408.0,333.4 408.4,332.0 408.8,328.8 409.2,332.0 409.6,328.8 410.0,332.9 410.4,331.7 410.8,333.0 411.2,331.4 411.6,330.6 412.0,333.5 412.4,327.3 412.8,336.6 413.2,330.4 413.6,338.6 414.0,334.2 414.4,331.8 414.8,330.3 415.2,334.2 415.6,334.2 416.0,334.1 416.4,335.3 416.8,332.9 417.2,336.1 417.6,329.8 418.0,331.7 418.4,334.7 418.8,330.6 419.2,333.6 419.6,338.7 420.0,334.0 420.4,331.9 420.8,336.8 421.2,329.1 421.6,331.4 422.0,335.7 422.4,329.4 422.8,332.7 423.2,331.6 423.6,336.9 424.0,327.3 424.4,330.1 424.8,330.9 425.2,333.3 425.6,334.2 426.0,334.3 426.4,338.2 426.8,336.5 427.2,330.6 427.6,330.2 428.0,333.0 428.4,332.9 428.8,332.9 429.2,337.6 429.6,332.0 430.0,337.5 430.4,337.7 430.8,334.3 431.2,332.8 431.6,338.9 432.0,332.0 432.4,336.0 432.8,335.1 433.2,338.2 433.6,335.2 434.0,334.4 434.4,338.2 434.8,334.2 435.2,338.0 435.6,337.5 436.0,338.1 436.4,334.1 436.8,339.7 437.2,336.9 437.6,342.1 438.0,348.0 438.4,339.2 438.8,342.3 439.2,341.8 439.6,333.8 440.0,339.1 440.4,335.5 440.8,335.3 441.2,340.2 441.6,336.8 442.0,338.1 442.4,343.3 442.8,345.7 443.2,342.0 443.6,343.8 444.0,336.6 444.4,340.1 444.8,341.3 445.2,336.9 445.6,342.1 446.0,341.6 446.4,342.4 446.8,346.1 447.2,347.0 447.6,339.1 448.0,340.8 448.4,344.0 448.8,340.2 449.2,346.5 449.6,342.6 450.0,335.6 450.4,335.4 450.8,333.5 451.2,338.7 451.6,335.4 452.0,334.9 452.4,332.7 452.8,339.4 453.2,333.6 453.6,332.5 454.0,328.9 454.4,336.1 454.8,335.5 455.2,337.4 455.6,340.1 456.0,336.7 456.4,335.2 456.8,331.2 457.2,336.7 457.6,337.3 458.0,336.6" stroke="#ff980f"/><path d="M300.4,248.0 300.8,249.3 301.2,250.8 301.6,252.5 302.0,253.8 302.4,255.1 302.8,255.7 303.2,256.4 303.6,259.1 304.0,259.4 304.4,262.5 304.8,262.6 305.2,261.7 305.6,264.0 306.0,265.4 306.4,265.2 306.8,264.2 307.2,266.6 307.6,267.4 308.0,268.8 308.4,269.3 308.8,267.1 309.2,268.5 309.6,271.0 310.0,267.7 310.4,272.5 310.8,270.4 311.2,271.8 311.6,275.4 312.0,273.3 312.4,273.3 312.8,274.7 313.2,274.5 313.6,274.0 314.0,275.9 314.4,279.6 314.8,278.0 315.2,277.6 315.6,277.7 316.0,279.0 316.4,279.2 316.8,277.1 317.2,279.8 317.6,279.5 318.0,282.8 318.4,279.9 318.8,282.8 319.2,279.2 319.6,282.1 320.0,280.8 320.4,280.8 320.8,284.0 321.2,281.3 321.6,283.0 322.0,282.4 322.4,284.5 322.8,284.7 323.2,280.8 323.6,286.0 324.0,284.1 324.4,288.8 324.8,287.2 325.2,287.7 325.6,282.4 326.0,289.7 326.4,287.1 326.8,285.1 327.2,288.2 327.6,290.1 328.0,285.6 328.4,290.4 328.8,288.4 329.2,288.3 329.6,288.8 330.0,288.5 330.4,290.5 330.8,290.9 331.2,292.5 331.6,293.3 332.0,290.7 332.4,293.3 332.8,289.8 333.2,293.0 333.6,290.4 334.0,291.5 334.4,293.7 334.8,291.7 335.2,294.0 335.6,291.0 336.0,292.5 336.4,294.8 336.8,296.7 337.2,292.5 337.6,297.3 338.0,295.4 338.4,298.9 338.8,294.9 339.2,294.9 339.6,296.5 340.0,294.4 340.4,296.7 340.8,296.6 341.2,299.1 341.6,297.8 342.0,295.3 342.4,295.3 342.8,296.0 343.2,294.3 343.6,294.3 344.0,301.5 344.4,296.7 344.8,300.3 345.2,297.1 345.6,297.7 346.0,295.7 346.4,300.8 346.8,298.1 347.2,301.7 347.6,297.8 348.0,301.3 348.4,301.7 348.8,296.9 349.2,300.2 349.6,297.9 350.0,297.8 350.4,300.0 350.8,301.3 351.2,302.3 351.6,299.6 352.0,301.9 352.4,301.3 352.8,300.5 353.2,299.0 353.6,300.8 354.0,306.7 354.4,299.4 354.8,300.8 355.2,299.7 355.6,303.6 356.0,304.4 356.4,303.7 356.8,304.9 357.2,301.6 357.6,304.6 358.0,300.5 358.4,304.6 358.8,304.6 359.2,301.2 359.6,303.9 360.0,300.6 360.4,300.2 360.8,300.3 361.2,300.9 361.6,301.0 362.0,302.8 362.4,306.0 362.8,302.8 363.2,301.9 363.6,304.6 364.0,303.1 364.4,303.8 364.8,304.5 365.2,304.7 365.6,303.0 366.0,303.9 366.4,306.0 366.8,303.9 367.2,304.3 367.6,305.4 368.0,305.7 368.4,304.6 368.8,306.2 369.2,305.4 369.6,303.4 370.0,306.8 370.4,304.4 370.8,311.2 371.2,306.7 371.6,305.9 372.0,307.9 372.4,309.1 372.8,309.3 373.2,307.4 373.6,308.9 374.0,308.4 374.4,307.5 374.8,304.9 375.2,307.7 375.6,303.4 376.0,306.4 376.4,310.4 376.8,308.6 377.2,308.4 377.6,307.2 378.0,307.4 378.4,307.9 378.8,306.9 379.2,305.6 379.6,311.4 380.0,312.7 380.4,309.0 380.8,311.6 381.2,308.4 381.6,311.3 382.0,308.6 382.4,312.7 382.8,311.5 383.2,309.4 383.6,312.6 384.0,314.5 384.4,311.8 384.8,311.8 385.2,312.0 385.6,312.3 386.0,314.3 386.4,314.4 386.8,308.7 387.2,314.4 387.6,312.1 388.0,315.4 388.4,313.4 388.8,314.3 389.2,311.9 389.6,310.6 390.0,313.4 390.4,314.7 390.8,314.4 391.2,314.5 391.6,313.7 392.0,314.6 392.4,312.0 392.8,313.3 393.2,310.9 393.6,313.6 394.0,313.2 394.4,313.9 394.8,315.7 395.2,314.1 395.6,309.1 396.0,316.5 396.4,314.5 396.8,315.6 397.2,313.0 397.6,315.9 398.0,317.2 398.4,311.9 398.8,316.8 399.2,313.2 399.6,313.6 400.0,315.0 400.4,318.6 400.8,312.0 401.2,314.1 401.6,315.4 402.0,316.5 402.4,315.2 402.8,316.3 403.2,313.8 403.6,317.0 404.0,317.6 404.4,314.0 404.8,314.6 405.2,316.7 405.6,316.7 406.0,317.1 406.4,314.2 406.8,315.7 407.2,315.6 407.6,318.8 408.0,316.4 408.4,315.8 408.8,315.2 409.2,316.8 409.6,318.9 410.0,314.3 410.4,317.3 410.8,318.0 411.2,320.6 411.6,318.5 412.0,319.7 412.4,317.5 412.8,315.2 413.2,315.2 413.6,316.5 414.0,318.0 414.4,317.4 414.8,317.1 415.2,321.1 415.6,314.0 416.0,316.4 416.4,322.4 416.8,318.9 417.2,317.3 417.6,316.6 418.0,320.0 418.4,319.9 418.8,320.1 419.2,316.6 419.6,319.1 420.0,318.6 420.4,319.8 420.8,316.4 421.2,320.3 421.6,321.9 422.0,317.0 422.4,321.0 422.8,322.4 423.2,321.2 423.6,319.6 424.0,320.0 424.4,319.0 424.8,320.4 425.2,318.3 425.6,320.2 426.0,318.8 426.4,317.8 426.8,323.0 427.2,317.3 427.6,323.6 428.0,316.9 428.4,322.3 428.8,321.1 429.2,318.1 429.6,320.1 430.0,319.3 430.4,319.5 430.8,322.7 431.2,319.2 431.6,318.0 432.0,323.3 432.4,322.1 432.8,321.5 433.2,321.1 433.6,322.8 434.0,322.3 434.4,321.5 434.8,320.7 435.2,323.6 435.6,324.3 436.0,322.7 436.4,327.1 436.8,322.3 437.2,322.3 437.6,324.7 438.0,322.6 438.4,322.6 438.8,321.6 439.2,323.0 439.6,319.4 440.0,321.0 440.4,320.5 440.8,318.6 441.2,324.3 441.6,321.9 442.0,321.0 442.4,323.2 442.8,320.5 443.2,324.2 443.6,325.1 444.0,320.3 444.4,324.8 444.8,323.2 445.2,324.8 445.6,323.3 446.0,321.5 446.4,320.2 446.8,321.1 447.2,322.2 447.6,325.0 448.0,324.3 448.4,323.7 448.8,325.8 449.2,320.1 449.6,321.3 450.0,321.4 450.4,323.6 450.8,320.6 451.2,322.5 451.6,325.9 452.0,325.3 452.4,326.3 452.8,322.7 453.2,322.0 453.6,324.3 454.0,322.3 454.4,323.9 454.8,323.9 455.2,325.2 455.6,326.8 456.0,326.9 456.4,326.2 456.8,324.3 457.2,325.9 457.6,324.3 458.0,323.4" stroke="#fe2f08"/><path d="M300.4,244.0 300.8,245.1 301.2,246.5 301.6,248.1 302.0,248.9 302.4,250.4 302.8,251.9 303.2,253.4 303.6,252.8 304.0,255.8 304.4,256.4 304.8,256.2 305.2,256.6 305.6,258.1 306.0,257.1 306.4,256.8 306.8,260.5 307.2,262.5 307.6,261.1 308.0,263.6 308.4,262.0 308.8,261.4 309.2,260.9 309.6,262.9 310.0,268.1 310.4,265.3 310.8,262.7 311.2,267.0 311.6,266.7 312.0,266.9 312.4,267.0 312.8,267.0 313.2,268.4 313.6,265.9 314.0,267.7 314.4,269.8 314.8,272.4 315.2,272.2 315.6,275.5 316.0,274.6 316.4,268.9 316.8,274.1 317.2,275.4 317.6,274.4 318.0,270.6 318.4,274.0 318.8,273.6 319.2,276.4 319.6,278.4 320.0,277.8 320.4,274.7 320.8,278.6 321.2,277.3 321.6,279.6 322.0,277.3 322.4,278.5 322.8,278.3 323.2,278.2 323.6,282.0 324.0,281.0 324.4,280.3 324.8,277.0 325.2,278.6 325.6,280.3 326.0,281.7 326.4,277.4 326.8,282.8 327.2,279.1 327.6,279.2 328.0,284.0 328.4,281.0 328.8,283.1 329.2,284.7 329.6,284.2 330.0,281.0 330.4,282.3 330.8,282.5 331.2,284.8 331.6,284.9 332.0,286.7 332.4,285.7 332.8,286.8 333.2,284.7 333.6,284.7 334.0,282.5 334.4,284.4 334.8,282.6 335.2,284.6 335.6,289.5 336.0,287.2 336.4,287.0 336.8,286.9 337.2,286.4 337.6,287.4 338.0,289.9 338.4,285.9 338.8,287.0 339.2,286.6 339.6,288.0 340.0,294.2 340.4,292.9 340.8,293.4 341.2,287.0 341.6,287.0 342.0,291.9 342.4,288.3 342.8,290.9 343.2,287.6 343.6,292.8 344.0,290.4 344.4,290.0 344.8,296.7 345.2,291.4 345.6,289.0 346.0,289.4 346.4,293.9 346.8,289.6 347.2,294.8 347.6,289.3 348.0,292.2 348.4,289.5 348.8,294.1 349.2,294.5 349.6,293.2 350.0,291.8 350.4,291.1 350.8,292.1 351.2,290.1 351.6,291.2 352.0,295.5 352.4,292.0 352.8,293.2 353.2,296.1 353.6,294.1 354.0,293.6 354.4,295.8 354.8,294.7 355.2,294.6 355.6,294.4 356.0,297.0 356.4,297.6 356.8,289.5 357.2,288.0 357.6,296.1 358.0,293.9 358.4,296.4 358.8,285.0 359.2,295.5 359.6,297.4 360.0,294.4 360.4,290.4 360.8,295.5 361.2,294.4 361.6,298.4 362.0,297.4 362.4,299.7 362.8,296.0 363.2,297.4 363.6,297.3 364.0,294.8 364.4,296.8 364.8,301.5 365.2,295.3 365.6,297.6 366.0,296.4 366.4,298.3 366.8,295.1 367.2,299.7 367.6,296.7 368.0,296.5 368.4,296.1 368.8,298.1 369.2,295.4 369.6,299.1 370.0,296.1 370.4,297.2 370.8,300.2 371.2,300.7 371.6,298.2 372.0,296.8 372.4,298.1 372.8,299.7 373.2,298.5 373.6,299.4 374.0,300.8 374.4,294.8 374.8,298.7 375.2,298.9 375.6,297.6 376.0,299.9 376.4,297.2 376.8,298.2 377.2,298.4 377.6,303.0 378.0,297.1 378.4,299.2 378.8,301.6 379.2,300.9 379.6,297.3 380.0,300.1 380.4,296.3 380.8,301.8 381.2,301.5 381.6,299.2 382.0,298.3 382.4,300.8 382.8,299.3 383.2,298.8 383.6,301.2 384.0,300.8 384.4,300.3 384.8,299.5 385.2,299.7 385.6,304.1 386.0,299.7 386.4,299.7 386.8,303.2 387.2,302.4 387.6,304.5 388.0,302.9 388.4,300.9 388.8,305.0 389.2,300.0 389.6,304.0 390.0,302.2 390.4,305.3 390.8,302.7 391.2,304.1 391.6,302.9 392.0,303.9 392.4,304.6 392.8,302.9 393.2,303.4 393.6,307.0 394.0,304.0 394.4,309.1 394.8,304.4 395.2,301.5 395.6,300.9 396.0,307.5 396.4,304.0 396.8,302.8 397.2,308.5 397.6,304.8 398.0,304.4 398.4,307.1 398.8,305.7 399.2,306.5 399.6,306.2 400.0,304.6 400.4,304.2 400.8,308.1 401.2,307.3 401.6,306.3 402.0,301.3 402.4,305.6 402.8,306.9 403.2,309.8 403.6,308.4 404.0,311.2 404.4,303.5 404.8,306.4 405.2,308.5 405.6,305.4 406.0,308.4 406.4,309.3 406.8,309.6 407.2,310.6 407.6,305.5 408.0,306.6 408.4,308.8 408.8,309.7 409.2,307.5 409.6,308.3 410.0,309.0 410.4,311.4 410.8,310.8 411.2,312.1 411.6,311.1 412.0,315.9 412.4,310.0 412.8,310.8 413.2,311.1 413.6,313.9 414.0,316.1 414.4,311.8 414.8,311.9 415.2,314.1 415.6,310.6 416.0,311.0 416.4,306.1 416.8,312.6 417.2,310.7 417.6,313.9 418.0,312.3 418.4,310.0 418.8,312.3 419.2,312.3 419.6,312.3 420.0,312.6 420.4,313.4 420.8,313.4 421.2,313.0 421.6,314.2 422.0,313.5 422.4,313.9 422.8,313.8 423.2,312.8 423.6,312.4 424.0,313.9 424.4,313.2 424.8,316.7 425.2,315.3 425.6,311.8 426.0,315.9 426.4,314.4 426.8,315.9 427.2,314.0 427.6,315.5 428.0,315.9 428.4,313.0 428.8,316.9 429.2,314.4 429.6,313.8 430.0,315.4 430.4,316.5 430.8,313.0 431.2,319.6 431.6,318.1 432.0,315.1 432.4,316.6 432.8,319.7 433.2,315.7 433.6,316.2 434.0,319.7 434.4,318.8 434.8,314.6 435.2,318.1 435.6,318.7 436.0,317.3 436.4,318.6 436.8,315.4 437.2,321.3 437.6,316.3 438.0,315.2 438.4,317.3 438.8,313.8 439.2,315.5 439.6,314.8 440.0,318.9 440.4,320.8 440.8,318.4 441.2,319.4 441.6,316.0 442.0,318.8 442.4,317.4 442.8,322.6 443.2,320.4 443.6,316.7 444.0,317.7 444.4,313.9 444.8,319.9 445.2,321.9 445.6,318.6 446.0,319.7 446.4,316.9 446.8,319.4 447.2,317.5 447.6,320.1 448.0,316.3 448.4,317.7 448.8,317.0 449.2,319.9 449.6,313.6 450.0,322.5 450.4,323.0 450.8,317.9 451.2,315.3 451.6,323.0 452.0,319.6 452.4,318.4 452.8,318.7 453.2,319.0 453.6,322.1 454.0,319.2 454.4,319.5 454.8,320.4 455.2,320.1 455.6,317.4 456.0,320.2 456.4,317.3 456.8,321.4 457.2,318.4 457.6,319.9 458.0,320.9" stroke="#8b6299"/><path d="M300.4,246.0 300.8,247.5 301.2,248.5 301.6,250.2 302.0,250.3 302.4,251.2 302.8,253.7 303.2,254.4 303.6,256.4 304.0,258.4 304.4,259.4 304.8,259.1 305.2,258.5 305.6,258.8 306.0,262.4 306.4,266.3 306.8,263.2 307.2,261.2 307.6,264.1 308.0,266.9 308.4,266.3 308.8,263.7 309.2,267.2 309.6,269.0 310.0,270.4 310.4,264.7 310.8,268.9 311.2,271.6 311.6,275.2 312.0,273.9 312.4,269.3 312.8,274.3 313.2,271.6 313.6,272.7 314.0,272.6 314.4,274.5 314.8,277.9 315.2,272.4 315.6,276.9 316.0,275.6 316.4,277.6 316.8,278.1 317.2,276.4 317.6,278.5 318.0,280.2 318.4,275.4 318.8,281.1 319.2,279.4 319.6,282.5 320.0,274.9 320.4,279.7 320.8,279.1 321.2,279.0 321.6,276.5 322.0,280.5 322.4,280.8 322.8,279.2 323.2,280.0 323.6,284.0 324.0,282.3 324.4,285.2 324.8,288.0 325.2,283.6 325.6,283.8 326.0,280.6 326.4,280.0 326.8,284.2 327.2,283.5 327.6,286.8 328.0,287.9 328.4,285.5 328.8,287.1 329.2,284.7 329.6,287.7 330.0,283.5 330.4,288.3 330.8,290.1 331.2,283.3 331.6,286.1 332.0,289.7 332.4,289.4 332.8,289.5 333.2,286.6 333.6,292.4 334.0,290.2 334.4,290.1 334.8,291.7 335.2,291.5 335.6,291.7 336.0,290.3 336.4,290.1 336.8,286.9 337.2,293.0 337.6,294.9 338.0,288.5 338.4,292.6 338.8,291.6 339.2,290.3 339.6,291.1 340.0,288.6 340.4,294.3 340.8,292.5 341.2,294.2 341.6,296.3 342.0,294.5 342.4,291.3 342.8,296.4 343.2,293.7 343.6,294.1 344.0,292.3 344.4,294.2 344.8,293.1 345.2,292.5 345.6,293.0 346.0,297.2 346.4,297.1 346.8,293.1 347.2,293.3 347.6,295.5 348.0,293.0 348.4,293.7 348.8,296.9 349.2,299.7 349.6,296.9 350.0,296.0 350.4,296.6 350.8,296.6 351.2,295.2 351.6,297.1 352.0,296.4 352.4,297.8 352.8,297.0 353.2,299.3 353.6,298.4 354.0,297.6 354.4,296.0 354.8,300.8 355.2,301.1 355.6,300.0 356.0,299.3 356.4,294.6 356.8,297.6 357.2,304.1 357.6,296.0 358.0,295.5 358.4,298.2 358.8,292.5 359.2,298.3 359.6,298.0 360.0,296.3 360.4,300.9 360.8,296.1 361.2,298.4 361.6,295.8 362.0,297.3 362.4,299.9 362.8,294.5 363.2,302.1 363.6,296.5 364.0,299.8 364.4,302.0 364.8,300.6 365.2,295.7 365.6,304.0 366.0,302.3 366.4,302.6 366.8,297.0 367.2,298.0 367.6,297.4 368.0,300.2 368.4,300.9 368.8,298.3 369.2,302.3 369.6,301.7 370.0,299.9 370.4,298.6 370.8,293.3 371.2,298.2 371.6,302.0 372.0,293.2 372.4,299.0 372.8,297.3 373.2,299.5 373.6,300.4 374.0,300.6 374.4,295.4 374.8,299.5 375.2,300.3 375.6,302.4 376.0,303.0 376.4,299.4 376.8,303.9 377.2,300.6 377.6,302.4 378.0,301.3 378.4,299.4 378.8,301.5 379.2,301.5 379.6,300.5 380.0,301.8 380.4,298.9 380.8,301.5 381.2,302.7 381.6,297.9 382.0,300.5 382.4,302.2 382.8,304.9 383.2,300.0 383.6,299.7 384.0,304.3 384.4,298.6 384.8,302.1 385.2,301.1 385.6,305.1 386.0,303.2 386.4,301.4 386.8,303.8 387.2,300.2 387.6,302.0 388.0,298.1 388.4,301.3 388.8,301.3 389.2,301.6 389.6,298.9 390.0,304.5 390.4,298.6 390.8,305.8 391.2,300.6 391.6,301.9 392.0,300.9 392.4,299.9 392.8,304.4 393.2,302.0 393.6,306.5 394.0,300.0 394.4,300.2 394.8,304.9 395.2,298.5 395.6,306.0 396.0,305.6 396.4,298.9 396.8,305.2 397.2,303.5 397.6,301.7 398.0,302.9 398.4,304.5 398.8,302.7 399.2,302.9 399.6,302.1 400.0,302.1 400.4,300.0 400.8,301.8 401.2,301.5 401.6,302.4 402.0,299.3 402.4,301.8 402.8,299.7 403.2,300.9 403.6,301.8 404.0,300.2 404.4,305.4 404.8,304.1 405.2,304.9 405.6,305.6 406.0,300.1 406.4,303.0 406.8,302.7 407.2,302.6 407.6,303.0 408.0,300.9 408.4,299.1 408.8,300.6 409.2,300.8 409.6,301.5 410.0,302.7 410.4,300.2 410.8,299.6 411.2,301.3 411.6,300.8 412.0,302.6 412.4,298.7 412.8,301.8 413.2,301.8 413.6,301.3 414.0,303.3 414.4,304.2 414.8,301.8 415.2,303.2 415.6,300.9 416.0,301.9 416.4,303.8 416.8,299.3 417.2,301.4 417.6,301.3 418.0,297.2 418.4,304.4 418.8,307.3 419.2,308.6 419.6,305.3 420.0,303.0 420.4,303.2 420.8,302.1 421.2,300.3 421.6,298.8 422.0,304.0 422.4,302.7 422.8,299.9 423.2,299.5 423.6,302.5 424.0,300.8 424.4,300.8 424.8,303.6 425.2,302.3 425.6,299.0 426.0,300.6 426.4,302.4 426.8,301.4 427.2,302.0 427.6,301.4 428.0,300.8 428.4,307.4 428.8,299.7 429.2,303.2 429.6,302.3 430.0,301.5 430.4,303.4 430.8,304.4 431.2,303.1 431.6,300.9 432.0,302.4 432.4,300.8 432.8,301.4 433.2,303.3 433.6,304.3 434.0,300.2 434.4,302.3 434.8,299.8 435.2,303.0 435.6,301.4 436.0,304.5 436.4,303.8 436.8,303.4 437.2,300.5 437.6,303.3 438.0,301.4 438.4,302.0 438.8,299.1 439.2,302.6 439.6,303.4 440.0,301.2 440.4,302.1 440.8,298.2 441.2,304.2 441.6,305.4 442.0,304.3 442.4,300.7 442.8,302.1 443.2,297.0 443.6,302.3 444.0,307.0 444.4,301.0 444.8,305.2 445.2,302.8 445.6,301.3 446.0,300.9 446.4,303.9 446.8,303.8 447.2,302.5 447.6,302.1 448.0,303.2 448.4,301.8 448.8,300.2 449.2,302.0 449.6,301.9 450.0,301.4 450.4,304.6 450.8,306.0 451.2,305.0 451.6,306.2 452.0,299.0 452.4,303.9 452.8,303.9 453.2,306.9 453.6,302.3 454.0,302.3 454.4,307.5 454.8,304.0 455.2,306.3 455.6,306.9 456.0,302.1 456.4,307.3 456.8,303.8 457.2,309.8 457.6,305.0 458.0,304.6" stroke="#444444"/><path d="M300.4,247.0 300.8,248.3 301.2,249.0 301.6,250.0 302.0,251.3 302.4,252.8 302.8,254.1 303.2,255.5 303.6,257.1 304.0,257.4 304.4,259.9 304.8,261.8 305.2,262.0 305.6,263.8 306.0,266.2 306.4,262.3 306.8,267.1 307.2,262.9 307.6,265.4 308.0,268.0 308.4,269.4 308.8,268.8 309.2,269.5 309.6,271.3 310.0,269.7 310.4,271.5 310.8,269.6 311.2,268.6 311.6,267.9 312.0,275.1 312.4,274.0 312.8,272.1 313.2,272.3 313.6,272.9 314.0,272.1 314.4,273.1 314.8,274.3 315.2,277.5 315.6,276.6 316.0,273.5 316.4,278.9 316.8,278.8 317.2,277.9 317.6,278.1 318.0,279.3 318.4,279.1 318.8,277.9 319.2,283.1 319.6,281.7 320.0,281.2 320.4,279.3 320.8,279.1 321.2,283.1 321.6,282.3 322.0,283.0 322.4,280.4 322.8,282.8 323.2,280.7 323.6,282.5 324.0,283.5 324.4,286.5 324.8,282.9 325.2,282.5 325.6,285.9 326.0,286.5 326.4,282.7 326.8,286.9 327.2,288.2 327.6,285.8 328.0,287.1 328.4,288.6 328.8,288.6 329.2,287.5 329.6,287.5 330.0,288.8 330.4,289.6 330.8,288.5 331.2,287.7 331.6,290.4 332.0,291.0 332.4,291.5 332.8,289.2 333.2,293.0 333.6,294.7 334.0,289.1 334.4,291.3 334.8,292.0 335.2,287.5 335.6,290.6 336.0,289.3 336.4,290.7 336.8,289.4 337.2,291.1 337.6,291.9 338.0,291.8 338.4,294.8 338.8,292.6 339.2,294.2 339.6,294.1 340.0,293.3 340.4,293.4 340.8,295.4 341.2,295.4 341.6,296.5 342.0,293.0 342.4,295.4 342.8,294.6 343.2,295.1 343.6,296.4 344.0,298.1 344.4,292.6 344.8,293.9 345.2,297.4 345.6,296.5 346.0,298.8 346.4,297.6 346.8,296.5 347.2,297.2 347.6,300.2 348.0,295.7 348.4,296.7 348.8,294.1 349.2,296.2 349.6,297.4 350.0,296.7 350.4,297.7 350.8,294.9 351.2,296.9 351.6,297.6 352.0,297.7 352.4,300.6 352.8,294.8 353.2,299.9 353.6,299.4 354.0,294.8 354.4,296.5 354.8,299.4 355.2,301.6 355.6,297.1 356.0,298.3 356.4,299.0 356.8,296.8 357.2,299.7 357.6,301.7 358.0,298.3 358.4,296.9 358.8,299.9 359.2,299.4 359.6,296.2 360.0,301.6 360.4,301.5 360.8,300.2 361.2,300.2 361.6,300.2 362.0,300.0 362.4,300.7 362.8,298.2 363.2,300.1 363.6,300.0 364.0,301.9 364.4,301.2 364.8,300.5 365.2,300.6 365.6,303.8 366.0,301.7 366.4,301.0 366.8,296.7 367.2,302.1 367.6,299.0 368.0,302.2 368.4,302.9 368.8,296.4 369.2,302.5 369.6,305.3 370.0,301.3 370.4,304.9 370.8,299.4 371.2,300.1 371.6,302.9 372.0,300.5 372.4,305.1 372.8,304.4 373.2,301.0 373.6,303.2 374.0,304.6 374.4,304.0 374.8,304.5 375.2,302.4 375.6,301.7 376.0,304.2 376.4,300.4 376.8,303.3 377.2,304.2 377.6,301.6 378.0,302.2 378.4,305.8 378.8,301.7 379.2,303.3 379.6,303.3 380.0,304.0 380.4,302.0 380.8,304.1 381.2,301.0 381.6,300.3 382.0,307.7 382.4,306.9 382.8,300.6 383.2,303.2 383.6,302.1 384.0,303.5 384.4,303.9 384.8,302.8 385.2,306.3 385.6,301.8 386.0,301.2 386.4,304.1 386.8,306.1 387.2,298.5 387.6,305.0 388.0,304.0 388.4,305.4 388.8,305.9 389.2,303.0 389.6,305.7 390.0,304.3 390.4,303.9 390.8,303.0 391.2,302.4 391.6,307.0 392.0,302.8 392.4,303.9 392.8,305.3 393.2,301.7 393.6,303.3 394.0,302.9 394.4,304.8 394.8,303.5 395.2,303.6 395.6,302.3 396.0,304.0 396.4,304.5 396.8,305.0 397.2,303.1 397.6,303.9 398.0,305.4 398.4,304.9 398.8,301.9 399.2,303.3 399.6,305.1 400.0,305.1 400.4,307.7 400.8,305.0 401.2,302.9 401.6,303.6 402.0,305.3 402.4,303.7 402.8,304.7 403.2,304.1 403.6,305.4 404.0,305.9 404.4,305.3 404.8,307.7 405.2,302.0 405.6,305.8 406.0,305.6 406.4,305.6 406.8,303.6 407.2,304.3 407.6,308.6 408.0,307.1 408.4,306.6 408.8,307.5 409.2,303.3 409.6,307.9 410.0,303.3 410.4,303.8 410.8,305.3 411.2,307.7 411.6,304.1 412.0,307.6 412.4,309.2 412.8,308.2 413.2,306.8 413.6,304.0 414.0,305.2 414.4,304.5 414.8,305.8 415.2,306.0 415.6,305.3 416.0,309.4 416.4,309.4 416.8,307.1 417.2,306.6 417.6,307.9 418.0,306.8 418.4,302.3 418.8,306.2 419.2,306.8 419.6,308.4 420.0,308.4 420.4,304.3 420.8,304.4 421.2,305.2 421.6,306.9 422.0,302.4 422.4,308.3 422.8,305.6 423.2,304.5 423.6,305.4 424.0,308.8 424.4,305.5 424.8,305.7 425.2,305.3 425.6,307.4 426.0,307.8 426.4,306.4 426.8,308.6 427.2,309.3 427.6,308.5 428.0,308.0 428.4,306.9 428.8,306.4 429.2,310.0 429.6,306.8 430.0,307.2 430.4,311.4 430.8,307.1 431.2,307.9 431.6,307.2 432.0,309.6 432.4,306.2 432.8,307.5 433.2,309.2 433.6,304.6 434.0,308.9 434.4,305.2 434.8,308.0 435.2,310.5 435.6,306.8 436.0,310.0 436.4,311.0 436.8,307.4 437.2,310.0 437.6,308.0 438.0,308.5 438.4,306.7 438.8,306.3 439.2,307.8 439.6,309.3 440.0,305.7 440.4,306.1 440.8,309.3 441.2,309.2 441.6,308.5 442.0,306.6 442.4,309.4 442.8,308.8 443.2,305.3 443.6,305.9 444.0,309.8 444.4,307.3 444.8,310.7 445.2,311.7 445.6,306.7 446.0,312.2 446.4,307.5 446.8,308.6 447.2,310.3 447.6,311.5 448.0,309.0 448.4,309.3 448.8,307.3 449.2,311.0 449.6,310.6 450.0,310.6 450.4,306.3 450.8,310.4 451.2,310.3 451.6,311.3 452.0,304.9 452.4,310.6 452.8,307.7 453.2,309.2 453.6,308.9 454.0,307.0 454.4,310.6 454.8,313.7 455.2,312.4 455.6,311.6 456.0,311.1 456.4,309.9 456.8,308.8 457.2,309.3 457.6,310.4 458.0,308.2" stroke="#a0a0a0"/></g><clipPath id="cpf"><rect x="525.8" y="225.9" width="158.0" height="152.6"/></clipPath><g clip-path="url(#cpf)" fill="none" stroke-width="1.5" stroke-linejoin="round" stroke-linecap="round"><path d="M526.0,318.0 526.4,318.1 526.7,319.4 527.1,323.1 527.4,319.5 527.8,316.6 528.1,317.9 528.5,332.9 528.8,320.8 529.2,315.3 529.5,322.3 529.9,327.2 530.2,327.3 530.6,338.7 530.9,324.2 531.3,319.0 531.6,336.7 532.0,328.2 532.3,328.5 532.7,321.6 533.0,319.3 533.4,338.2 533.7,316.2 534.1,322.8 534.4,319.2 534.8,337.9 535.1,330.1 535.5,329.9 535.8,333.3 536.2,342.3 536.5,321.7 536.9,322.3 537.2,331.8 537.6,330.8 537.9,321.2 538.3,324.9 538.6,329.5 539.0,336.0 539.3,319.4 539.7,335.0 540.0,334.0 540.4,345.3 540.7,313.6 541.1,328.5 541.4,328.3 541.8,342.3 542.1,323.0 542.5,327.7 542.8,333.8 543.2,336.6 543.5,335.9 543.9,323.1 544.2,346.9 544.6,327.8 544.9,336.3 545.3,340.3 545.6,330.8 546.0,337.6 546.3,322.7 546.7,333.0 547.0,330.2 547.4,323.0 547.7,329.4 548.1,273.8 548.4,341.8 548.8,328.8 549.1,323.6 549.5,333.7 549.8,332.9 550.2,355.0 550.5,349.3 550.9,337.4 551.2,330.3 551.6,353.6 551.9,338.8 552.3,323.9 552.6,340.0 553.0,324.2 553.3,346.7 553.7,340.6 554.0,328.9 554.4,333.1 554.7,321.2 555.1,351.3 555.4,339.0 555.8,343.6 556.1,348.6 556.5,335.7 556.8,334.6 557.2,335.5 557.5,341.7 557.9,333.1 558.2,337.0 558.6,342.0 558.9,341.2 559.3,335.9 559.6,332.0 560.0,336.2 560.3,345.8 560.7,351.3 561.0,350.1 561.4,339.3 561.7,346.6 562.1,344.8 562.4,353.5 562.8,335.9 563.1,351.3 563.5,345.2 563.8,341.1 564.2,361.6 564.5,356.7 564.9,330.4 565.2,343.5 565.6,348.4 565.9,351.4 566.3,333.4 566.6,346.3 567.0,344.6 567.3,336.9 567.7,349.2 568.0,338.9 568.4,342.8 568.7,335.5 569.1,346.8 569.4,347.1 569.8,340.8 570.1,336.7 570.5,343.5 570.8,345.5 571.2,344.9 571.5,341.7 571.9,351.6 572.2,341.0 572.6,344.3 572.9,356.1 573.3,337.3 573.6,344.3 574.0,346.3 574.3,338.2 574.7,333.3 575.0,336.6 575.4,327.5 575.7,344.3 576.1,343.8 576.4,349.9 576.8,359.2 577.1,357.8 577.5,346.2 577.8,348.5 578.2,340.9 578.5,332.9 578.9,338.9 579.2,304.9 579.6,344.8 579.9,345.3 580.3,340.2 580.6,345.5 581.0,342.6 581.3,344.0 581.7,335.2 582.0,338.6 582.4,345.4 582.7,357.3 583.1,346.2 583.4,350.2 583.8,360.4 584.1,347.8 584.5,343.4 584.8,330.5 585.2,343.2 585.5,355.4 585.9,338.2 586.2,343.3 586.6,344.7 586.9,347.9 587.3,338.0 587.6,352.5 588.0,350.9 588.3,338.4 588.7,324.2 589.0,351.2 589.4,347.7 589.7,346.8 590.1,332.4 590.4,340.2 590.8,289.9 591.1,348.6 591.5,346.0 591.8,354.3 592.2,338.1 592.5,337.4 592.9,346.5 593.2,356.5 593.6,336.9 593.9,335.9 594.3,360.6 594.6,341.6 595.0,348.2 595.3,358.2 595.7,339.6 596.0,348.4 596.4,351.5 596.7,346.5 597.1,345.2 597.4,316.3 597.8,344.8 598.1,356.2 598.5,330.8 598.8,351.4 599.2,348.2 599.5,348.9 599.9,348.9 600.2,348.4 600.6,353.5 600.9,333.4 601.3,354.9 601.6,354.5 602.0,349.7 602.3,348.6 602.7,356.6 603.0,365.4 603.4,370.2 603.7,360.2 604.1,335.8 604.4,363.4 604.8,351.0 605.1,345.5 605.5,352.8 605.8,359.8 606.2,337.4 606.5,356.6 606.9,346.8 607.2,351.7 607.6,348.7 607.9,356.8 608.3,351.9 608.6,345.9 609.0,344.7 609.3,347.4 609.7,356.0 610.0,346.0 610.4,358.0 610.7,361.4 611.1,354.0 611.4,336.7 611.8,355.4 612.1,356.5 612.5,359.5 612.8,354.8 613.2,363.6 613.5,364.3 613.9,353.7 614.2,359.3 614.6,367.9 614.9,358.5 615.3,356.9 615.6,369.0 616.0,338.4 616.3,314.2 616.7,351.6 617.0,337.5 617.4,361.2 617.7,365.2 618.1,353.9 618.4,358.6 618.8,362.9 619.1,351.3 619.5,357.2 619.8,360.5 620.2,349.7 620.5,354.3 620.9,348.2 621.2,347.5 621.6,354.3 621.9,358.2 622.3,366.5 622.6,360.0 623.0,360.8 623.3,360.6 623.7,351.0 624.0,352.8 624.4,345.4 624.7,367.2 625.1,362.0 625.4,353.0 625.8,354.8 626.1,361.7 626.5,348.7 626.8,352.0 627.2,348.9 627.5,355.1 627.9,365.1 628.2,351.6 628.6,364.7 628.9,358.1 629.3,353.4 629.6,361.8 630.0,346.9 630.3,356.6 630.7,356.5 631.0,372.2 631.4,352.5 631.7,357.6 632.1,346.5 632.4,348.3 632.8,360.7 633.1,368.5 633.5,365.2 633.8,344.6 634.2,348.1 634.5,346.1 634.9,355.1 635.2,364.0 635.6,362.5 635.9,356.5 636.3,356.0 636.6,303.1 637.0,329.0 637.3,353.0 637.7,342.0 638.0,354.5 638.4,346.9 638.7,360.4 639.1,350.4 639.4,347.8 639.8,353.9 640.1,363.0 640.5,351.8 640.8,365.2 641.2,345.7 641.5,345.5 641.9,352.4 642.2,354.6 642.6,359.4 642.9,354.2 643.3,354.5 643.6,344.0 644.0,364.3 644.3,351.8 644.7,357.0 645.0,356.3 645.4,370.1 645.7,342.6 646.1,355.2 646.4,366.2 646.8,338.3 647.1,351.7 647.5,354.9 647.8,356.7 648.2,346.5 648.5,361.6 648.9,346.6 649.2,365.4 649.6,354.8 649.9,346.5 650.3,366.1 650.6,357.6 651.0,360.0 651.3,362.5 651.7,353.3 652.0,352.3 652.4,359.2 652.7,366.8 653.1,359.5 653.4,352.0 653.8,369.4 654.1,350.6 654.5,353.5 654.8,354.0 655.2,355.6 655.5,359.8 655.9,360.7 656.2,350.5 656.6,351.0 656.9,363.4 657.3,384.8 657.6,350.2 658.0,365.3 658.3,356.0 658.7,360.0 659.0,359.5 659.4,359.7 659.7,354.2 660.1,358.0 660.4,353.4 660.8,358.2 661.1,354.8 661.5,353.6 661.8,355.7 662.2,360.5 662.5,358.6 662.9,356.4 663.2,354.7 663.6,360.6 663.9,369.7 664.3,358.9 664.6,361.0 665.0,351.6 665.3,354.3 665.7,355.7 666.0,370.2 666.4,363.6 666.7,363.2 667.1,357.3 667.4,359.0 667.8,362.8 668.1,358.6 668.5,349.4 668.8,357.4 669.2,357.5 669.5,346.4 669.9,343.1 670.2,356.6 670.6,356.0 670.9,357.1 671.3,359.3 671.6,361.3 672.0,365.9 672.3,349.5 672.7,361.0 673.0,368.1 673.4,367.1 673.7,350.1 674.1,360.4 674.4,360.3 674.8,354.4 675.1,349.2 675.5,355.8 675.8,366.8 676.2,355.6 676.5,357.1 676.9,356.0 677.2,366.4 677.6,358.8 677.9,344.8 678.3,340.9 678.6,389.9 679.0,354.5 679.3,354.3 679.7,369.3 680.0,367.4 680.4,360.4 680.7,365.3 681.1,369.3 681.4,359.5 681.8,355.5 682.1,347.2 682.5,364.2 682.8,369.9 683.2,351.5 683.5,355.4" stroke="#1965a8"/><path d="M526.0,308.0 526.4,309.1 526.7,309.7 527.1,310.5 527.4,312.8 527.8,315.4 528.1,314.5 528.5,315.5 528.8,307.7 529.2,320.5 529.5,314.9 529.9,325.1 530.2,327.6 530.6,306.5 530.9,327.9 531.3,313.5 531.6,311.1 532.0,317.0 532.3,320.9 532.7,326.2 533.0,339.3 533.4,308.6 533.7,316.6 534.1,322.0 534.4,315.6 534.8,307.1 535.1,318.0 535.5,319.6 535.8,322.7 536.2,317.1 536.5,329.8 536.9,321.8 537.2,326.0 537.6,313.0 537.9,302.1 538.3,326.2 538.6,323.3 539.0,325.9 539.3,322.1 539.7,318.9 540.0,319.5 540.4,328.7 540.7,316.1 541.1,319.5 541.4,321.5 541.8,324.2 542.1,337.8 542.5,318.2 542.8,340.3 543.2,323.4 543.5,322.5 543.9,319.3 544.2,329.2 544.6,334.8 544.9,316.4 545.3,322.2 545.6,321.5 546.0,319.2 546.3,316.1 546.7,326.5 547.0,329.0 547.4,325.8 547.7,292.3 548.1,325.6 548.4,331.1 548.8,327.4 549.1,331.4 549.5,323.1 549.8,330.4 550.2,329.4 550.5,320.6 550.9,323.9 551.2,320.1 551.6,326.1 551.9,324.1 552.3,325.8 552.6,325.3 553.0,321.4 553.3,329.2 553.7,317.7 554.0,325.8 554.4,309.3 554.7,318.7 555.1,331.1 555.4,324.4 555.8,328.2 556.1,319.5 556.5,315.5 556.8,318.7 557.2,326.5 557.5,323.7 557.9,339.3 558.2,340.4 558.6,333.2 558.9,332.6 559.3,328.1 559.6,324.0 560.0,323.6 560.3,325.2 560.7,327.8 561.0,325.8 561.4,327.4 561.7,314.7 562.1,324.1 562.4,332.9 562.8,332.1 563.1,319.3 563.5,330.3 563.8,328.9 564.2,319.7 564.5,329.7 564.9,332.2 565.2,328.7 565.6,341.6 565.9,325.0 566.3,331.0 566.6,332.8 567.0,333.0 567.3,326.3 567.7,333.5 568.0,332.2 568.4,346.8 568.7,339.7 569.1,330.2 569.4,340.2 569.8,323.8 570.1,332.6 570.5,342.4 570.8,317.6 571.2,338.7 571.5,334.9 571.9,326.9 572.2,337.6 572.6,323.0 572.9,338.3 573.3,331.7 573.6,339.1 574.0,323.7 574.3,336.4 574.7,338.2 575.0,325.3 575.4,344.1 575.7,324.6 576.1,348.1 576.4,347.4 576.8,336.1 577.1,345.2 577.5,335.8 577.8,336.0 578.2,336.1 578.5,321.2 578.9,333.6 579.2,332.0 579.6,338.0 579.9,318.3 580.3,334.2 580.6,316.9 581.0,329.7 581.3,338.6 581.7,338.8 582.0,333.0 582.4,337.1 582.7,341.2 583.1,324.2 583.4,339.9 583.8,333.3 584.1,335.7 584.5,332.4 584.8,331.8 585.2,341.0 585.5,339.1 585.9,333.9 586.2,324.6 586.6,339.1 586.9,340.1 587.3,350.9 587.6,331.8 588.0,338.2 588.3,335.2 588.7,318.0 589.0,332.1 589.4,340.5 589.7,332.7 590.1,349.6 590.4,341.4 590.8,289.3 591.1,345.6 591.5,335.6 591.8,345.7 592.2,340.4 592.5,342.1 592.9,334.3 593.2,339.3 593.6,341.6 593.9,340.5 594.3,343.7 594.6,352.0 595.0,338.2 595.3,334.3 595.7,344.8 596.0,336.2 596.4,350.7 596.7,337.0 597.1,334.3 597.4,342.7 597.8,332.5 598.1,337.2 598.5,345.9 598.8,327.7 599.2,342.6 599.5,337.4 599.9,340.9 600.2,347.9 600.6,343.7 600.9,345.7 601.3,337.8 601.6,351.4 602.0,344.8 602.3,328.0 602.7,351.1 603.0,332.9 603.4,350.6 603.7,335.3 604.1,345.8 604.4,350.3 604.8,340.9 605.1,345.2 605.5,347.2 605.8,330.0 606.2,356.4 606.5,341.8 606.9,346.5 607.2,344.3 607.6,350.0 607.9,344.1 608.3,334.9 608.6,350.0 609.0,327.5 609.3,350.5 609.7,331.6 610.0,352.2 610.4,348.7 610.7,344.8 611.1,341.2 611.4,344.7 611.8,338.8 612.1,349.5 612.5,348.5 612.8,352.0 613.2,338.8 613.5,340.8 613.9,341.6 614.2,331.2 614.6,336.0 614.9,348.3 615.3,354.9 615.6,342.5 616.0,340.3 616.3,356.8 616.7,333.1 617.0,353.3 617.4,334.1 617.7,350.0 618.1,346.5 618.4,351.2 618.8,348.6 619.1,344.2 619.5,345.5 619.8,321.5 620.2,354.9 620.5,340.2 620.9,355.1 621.2,345.9 621.6,339.3 621.9,357.5 622.3,339.5 622.6,339.6 623.0,347.6 623.3,349.5 623.7,355.9 624.0,355.9 624.4,344.0 624.7,347.2 625.1,345.4 625.4,335.0 625.8,346.0 626.1,334.3 626.5,346.9 626.8,340.5 627.2,343.0 627.5,351.5 627.9,350.7 628.2,356.6 628.6,336.9 628.9,350.0 629.3,356.4 629.6,338.8 630.0,340.0 630.3,343.6 630.7,350.1 631.0,339.7 631.4,353.2 631.7,342.4 632.1,324.7 632.4,350.0 632.8,347.7 633.1,349.0 633.5,359.2 633.8,345.8 634.2,344.8 634.5,349.5 634.9,341.0 635.2,345.7 635.6,344.0 635.9,350.2 636.3,344.2 636.6,344.1 637.0,339.0 637.3,315.9 637.7,351.0 638.0,353.8 638.4,357.5 638.7,354.7 639.1,347.9 639.4,348.4 639.8,368.3 640.1,341.9 640.5,345.4 640.8,355.5 641.2,351.9 641.5,356.5 641.9,337.1 642.2,341.7 642.6,349.3 642.9,340.2 643.3,363.0 643.6,345.7 644.0,343.0 644.3,348.1 644.7,352.5 645.0,361.4 645.4,352.3 645.7,347.0 646.1,353.4 646.4,354.5 646.8,348.6 647.1,361.7 647.5,347.3 647.8,319.4 648.2,354.9 648.5,355.3 648.9,337.0 649.2,351.0 649.6,339.7 649.9,346.5 650.3,347.8 650.6,344.7 651.0,351.2 651.3,349.0 651.7,346.0 652.0,347.6 652.4,353.4 652.7,346.2 653.1,350.2 653.4,352.6 653.8,356.1 654.1,335.7 654.5,354.1 654.8,338.5 655.2,354.9 655.5,356.8 655.9,356.8 656.2,351.4 656.6,342.2 656.9,350.7 657.3,345.0 657.6,358.9 658.0,354.7 658.3,356.7 658.7,350.1 659.0,341.6 659.4,352.4 659.7,352.6 660.1,363.5 660.4,354.8 660.8,354.5 661.1,341.9 661.5,347.9 661.8,340.4 662.2,368.3 662.5,369.1 662.9,356.8 663.2,358.6 663.6,352.9 663.9,352.3 664.3,341.4 664.6,354.8 665.0,347.7 665.3,360.6 665.7,352.9 666.0,353.0 666.4,356.1 666.7,352.9 667.1,348.6 667.4,349.4 667.8,342.9 668.1,352.1 668.5,347.0 668.8,351.8 669.2,349.3 669.5,354.0 669.9,353.8 670.2,352.1 670.6,354.2 670.9,344.4 671.3,356.7 671.6,339.5 672.0,354.8 672.3,356.4 672.7,359.2 673.0,353.8 673.4,356.9 673.7,343.0 674.1,354.5 674.4,346.2 674.8,355.2 675.1,362.5 675.5,343.7 675.8,345.4 676.2,359.5 676.5,352.0 676.9,361.2 677.2,347.2 677.6,345.4 677.9,358.9 678.3,361.7 678.6,343.4 679.0,350.5 679.3,358.6 679.7,344.1 680.0,338.1 680.4,345.3 680.7,353.1 681.1,360.7 681.4,352.6 681.8,347.2 682.1,350.6 682.5,334.5 682.8,346.9 683.2,341.1 683.5,347.8" stroke="#0cb84a"/><path d="M526.0,298.0 526.4,298.3 526.7,301.2 527.1,298.6 527.4,298.2 527.8,304.6 528.1,309.6 528.5,311.3 528.8,313.7 529.2,308.9 529.5,304.9 529.9,311.8 530.2,311.9 530.6,308.6 530.9,303.7 531.3,307.2 531.6,310.2 532.0,301.0 532.3,306.3 532.7,271.9 533.0,320.5 533.4,313.7 533.7,308.2 534.1,315.4 534.4,310.4 534.8,305.8 535.1,309.7 535.5,269.4 535.8,333.5 536.2,303.3 536.5,291.6 536.9,315.0 537.2,301.4 537.6,301.0 537.9,319.2 538.3,304.5 538.6,301.8 539.0,310.7 539.3,302.4 539.7,315.6 540.0,305.6 540.4,311.6 540.7,320.9 541.1,324.4 541.4,296.4 541.8,308.1 542.1,308.8 542.5,317.1 542.8,308.8 543.2,305.6 543.5,321.7 543.9,320.7 544.2,312.9 544.6,298.1 544.9,311.3 545.3,303.1 545.6,326.0 546.0,315.9 546.3,315.1 546.7,318.6 547.0,317.6 547.4,304.8 547.7,317.2 548.1,315.4 548.4,296.1 548.8,321.2 549.1,316.3 549.5,312.9 549.8,317.2 550.2,308.2 550.5,320.9 550.9,311.4 551.2,305.5 551.6,328.0 551.9,319.8 552.3,314.9 552.6,316.3 553.0,318.2 553.3,324.7 553.7,319.7 554.0,324.2 554.4,310.6 554.7,310.1 555.1,316.7 555.4,318.3 555.8,315.1 556.1,309.8 556.5,313.5 556.8,321.6 557.2,321.3 557.5,308.0 557.9,321.5 558.2,319.2 558.6,318.7 558.9,322.5 559.3,318.3 559.6,328.2 560.0,313.2 560.3,310.4 560.7,318.7 561.0,320.0 561.4,309.9 561.7,320.4 562.1,319.1 562.4,309.8 562.8,315.4 563.1,325.0 563.5,324.3 563.8,310.6 564.2,323.3 564.5,318.7 564.9,332.7 565.2,317.3 565.6,323.0 565.9,308.4 566.3,326.6 566.6,319.0 567.0,315.7 567.3,316.1 567.7,318.6 568.0,316.0 568.4,324.0 568.7,316.9 569.1,318.4 569.4,340.2 569.8,320.2 570.1,324.1 570.5,322.9 570.8,320.7 571.2,322.1 571.5,312.5 571.9,326.4 572.2,323.3 572.6,322.8 572.9,314.5 573.3,328.4 573.6,313.1 574.0,321.9 574.3,318.0 574.7,313.4 575.0,333.2 575.4,332.5 575.7,331.7 576.1,323.4 576.4,317.8 576.8,324.9 577.1,323.0 577.5,312.1 577.8,332.1 578.2,329.9 578.5,320.4 578.9,317.9 579.2,324.4 579.6,326.4 579.9,339.6 580.3,328.1 580.6,318.7 581.0,330.0 581.3,317.7 581.7,319.1 582.0,329.5 582.4,324.9 582.7,317.0 583.1,322.0 583.4,323.6 583.8,320.1 584.1,323.9 584.5,328.1 584.8,325.7 585.2,321.8 585.5,332.6 585.9,338.3 586.2,333.8 586.6,321.0 586.9,323.0 587.3,329.2 587.6,329.9 588.0,322.6 588.3,332.2 588.7,329.3 589.0,321.3 589.4,317.9 589.7,329.7 590.1,325.4 590.4,342.8 590.8,323.9 591.1,326.4 591.5,349.0 591.8,322.9 592.2,337.6 592.5,332.2 592.9,329.1 593.2,324.2 593.6,332.4 593.9,341.9 594.3,337.6 594.6,332.0 595.0,338.2 595.3,329.9 595.7,333.7 596.0,340.5 596.4,333.3 596.7,338.7 597.1,334.0 597.4,326.2 597.8,342.0 598.1,328.7 598.5,342.4 598.8,340.7 599.2,343.1 599.5,339.0 599.9,332.8 600.2,328.0 600.6,330.7 600.9,330.7 601.3,341.2 601.6,323.4 602.0,340.9 602.3,332.8 602.7,337.6 603.0,340.8 603.4,339.0 603.7,342.0 604.1,330.5 604.4,332.3 604.8,326.5 605.1,334.0 605.5,334.7 605.8,338.2 606.2,339.6 606.5,343.8 606.9,344.5 607.2,332.1 607.6,334.8 607.9,333.6 608.3,334.3 608.6,343.7 609.0,346.6 609.3,341.4 609.7,340.4 610.0,331.1 610.4,333.5 610.7,336.3 611.1,321.7 611.4,339.8 611.8,336.2 612.1,349.4 612.5,336.6 612.8,326.5 613.2,338.5 613.5,336.8 613.9,339.6 614.2,330.6 614.6,338.3 614.9,326.3 615.3,340.7 615.6,337.3 616.0,323.4 616.3,343.3 616.7,345.8 617.0,346.4 617.4,343.5 617.7,335.0 618.1,334.3 618.4,342.5 618.8,346.7 619.1,357.7 619.5,341.7 619.8,328.0 620.2,337.5 620.5,345.3 620.9,344.1 621.2,346.9 621.6,334.1 621.9,337.3 622.3,344.7 622.6,342.9 623.0,342.8 623.3,336.2 623.7,337.1 624.0,343.7 624.4,346.3 624.7,331.9 625.1,341.8 625.4,344.3 625.8,342.5 626.1,342.7 626.5,339.9 626.8,335.7 627.2,348.2 627.5,332.2 627.9,342.5 628.2,333.0 628.6,336.5 628.9,339.7 629.3,333.7 629.6,341.2 630.0,346.3 630.3,348.6 630.7,337.8 631.0,342.8 631.4,337.6 631.7,333.5 632.1,337.1 632.4,354.2 632.8,334.1 633.1,337.0 633.5,338.7 633.8,347.5 634.2,341.8 634.5,337.4 634.9,337.0 635.2,342.6 635.6,342.6 635.9,329.4 636.3,341.8 636.6,342.4 637.0,343.6 637.3,338.9 637.7,344.6 638.0,333.8 638.4,342.9 638.7,359.7 639.1,344.4 639.4,335.5 639.8,345.6 640.1,348.2 640.5,346.7 640.8,339.6 641.2,342.6 641.5,343.8 641.9,363.1 642.2,329.5 642.6,339.5 642.9,340.2 643.3,339.8 643.6,342.6 644.0,349.5 644.3,333.9 644.7,340.9 645.0,335.7 645.4,346.3 645.7,354.5 646.1,335.7 646.4,341.3 646.8,339.8 647.1,336.0 647.5,339.5 647.8,342.0 648.2,334.0 648.5,347.5 648.9,336.4 649.2,328.3 649.6,343.3 649.9,340.9 650.3,347.2 650.6,342.4 651.0,344.7 651.3,346.2 651.7,334.5 652.0,352.9 652.4,348.9 652.7,350.8 653.1,338.1 653.4,298.7 653.8,344.3 654.1,334.1 654.5,346.9 654.8,346.3 655.2,346.4 655.5,344.6 655.9,350.2 656.2,346.6 656.6,345.6 656.9,348.6 657.3,342.0 657.6,340.8 658.0,348.8 658.3,342.7 658.7,345.5 659.0,333.9 659.4,345.2 659.7,332.1 660.1,324.0 660.4,342.3 660.8,359.5 661.1,342.0 661.5,348.7 661.8,340.0 662.2,341.7 662.5,333.0 662.9,350.9 663.2,347.6 663.6,349.1 663.9,346.4 664.3,343.5 664.6,348.0 665.0,343.6 665.3,353.7 665.7,347.8 666.0,341.8 666.4,336.6 666.7,343.0 667.1,337.0 667.4,347.1 667.8,343.8 668.1,333.4 668.5,352.0 668.8,340.2 669.2,332.1 669.5,353.3 669.9,342.3 670.2,340.9 670.6,340.9 670.9,345.0 671.3,344.0 671.6,336.5 672.0,344.7 672.3,344.8 672.7,347.3 673.0,334.2 673.4,342.3 673.7,335.6 674.1,340.7 674.4,336.9 674.8,347.4 675.1,344.0 675.5,344.0 675.8,346.2 676.2,339.1 676.5,336.4 676.9,337.1 677.2,352.2 677.6,343.2 677.9,361.1 678.3,350.5 678.6,345.9 679.0,351.1 679.3,341.0 679.7,346.8 680.0,345.3 680.4,351.8 680.7,335.6 681.1,339.3 681.4,349.1 681.8,351.4 682.1,355.9 682.5,345.5 682.8,346.8 683.2,337.1 683.5,349.4" stroke="#ff980f"/><path d="M526.0,282.0 526.4,282.7 526.7,286.0 527.1,289.4 527.4,283.9 527.8,292.3 528.1,284.5 528.5,288.8 528.8,296.9 529.2,287.8 529.5,309.1 529.9,273.0 530.2,290.0 530.6,286.3 530.9,290.9 531.3,293.4 531.6,280.9 532.0,301.7 532.3,284.1 532.7,297.9 533.0,301.2 533.4,285.5 533.7,302.6 534.1,296.3 534.4,292.0 534.8,300.9 535.1,307.0 535.5,305.5 535.8,297.9 536.2,293.1 536.5,291.4 536.9,301.7 537.2,296.8 537.6,292.2 537.9,291.3 538.3,289.3 538.6,291.1 539.0,300.0 539.3,290.4 539.7,288.9 540.0,292.2 540.4,290.2 540.7,290.3 541.1,305.0 541.4,312.5 541.8,298.6 542.1,301.5 542.5,297.4 542.8,303.2 543.2,290.6 543.5,300.7 543.9,310.7 544.2,292.4 544.6,298.1 544.9,298.4 545.3,293.5 545.6,306.0 546.0,298.5 546.3,311.7 546.7,300.9 547.0,297.0 547.4,295.2 547.7,293.0 548.1,307.4 548.4,300.7 548.8,314.7 549.1,303.0 549.5,291.0 549.8,306.9 550.2,293.4 550.5,308.9 550.9,305.7 551.2,298.4 551.6,303.0 551.9,307.7 552.3,307.6 552.6,308.9 553.0,308.5 553.3,314.3 553.7,304.1 554.0,302.7 554.4,303.3 554.7,308.6 555.1,301.4 555.4,297.0 555.8,297.3 556.1,316.0 556.5,307.9 556.8,316.7 557.2,310.8 557.5,307.5 557.9,319.4 558.2,317.3 558.6,323.8 558.9,299.1 559.3,303.5 559.6,310.7 560.0,293.5 560.3,311.6 560.7,268.6 561.0,303.7 561.4,300.0 561.7,317.2 562.1,312.8 562.4,298.9 562.8,296.4 563.1,317.4 563.5,317.3 563.8,308.0 564.2,323.8 564.5,311.8 564.9,311.0 565.2,316.4 565.6,307.2 565.9,303.8 566.3,318.1 566.6,309.4 567.0,309.6 567.3,320.4 567.7,313.2 568.0,302.7 568.4,317.3 568.7,310.2 569.1,312.2 569.4,309.8 569.8,323.1 570.1,312.9 570.5,326.8 570.8,319.7 571.2,312.3 571.5,325.2 571.9,325.2 572.2,314.1 572.6,309.1 572.9,316.7 573.3,314.6 573.6,304.4 574.0,333.5 574.3,305.8 574.7,322.9 575.0,316.1 575.4,315.2 575.7,314.5 576.1,315.2 576.4,302.8 576.8,303.5 577.1,324.8 577.5,314.1 577.8,327.4 578.2,317.2 578.5,314.8 578.9,314.4 579.2,315.0 579.6,306.9 579.9,315.4 580.3,322.5 580.6,321.8 581.0,312.3 581.3,323.9 581.7,317.8 582.0,318.1 582.4,294.0 582.7,312.8 583.1,314.6 583.4,311.0 583.8,323.1 584.1,302.3 584.5,317.1 584.8,317.1 585.2,326.4 585.5,311.5 585.9,317.9 586.2,312.8 586.6,317.2 586.9,320.1 587.3,314.9 587.6,318.4 588.0,319.7 588.3,328.3 588.7,309.2 589.0,323.9 589.4,309.4 589.7,313.3 590.1,311.6 590.4,325.9 590.8,313.1 591.1,335.2 591.5,320.7 591.8,326.0 592.2,318.2 592.5,327.3 592.9,311.7 593.2,323.9 593.6,320.6 593.9,337.4 594.3,313.4 594.6,296.3 595.0,333.7 595.3,320.1 595.7,315.7 596.0,326.8 596.4,323.2 596.7,315.9 597.1,307.8 597.4,326.1 597.8,317.9 598.1,309.3 598.5,316.3 598.8,321.2 599.2,315.8 599.5,318.4 599.9,333.5 600.2,321.8 600.6,332.5 600.9,328.7 601.3,311.8 601.6,325.6 602.0,322.5 602.3,307.6 602.7,318.7 603.0,314.8 603.4,340.0 603.7,316.3 604.1,327.8 604.4,328.9 604.8,321.4 605.1,324.5 605.5,317.2 605.8,327.7 606.2,341.3 606.5,330.2 606.9,333.4 607.2,316.3 607.6,331.6 607.9,321.6 608.3,323.3 608.6,325.6 609.0,340.3 609.3,314.2 609.7,342.2 610.0,317.3 610.4,327.8 610.7,310.8 611.1,312.3 611.4,340.5 611.8,324.6 612.1,321.9 612.5,344.4 612.8,321.1 613.2,328.9 613.5,335.4 613.9,331.2 614.2,332.2 614.6,329.5 614.9,329.3 615.3,322.1 615.6,340.3 616.0,328.3 616.3,331.1 616.7,336.5 617.0,329.1 617.4,317.6 617.7,314.0 618.1,334.1 618.4,336.1 618.8,328.1 619.1,329.5 619.5,327.7 619.8,333.9 620.2,342.9 620.5,330.7 620.9,341.6 621.2,329.6 621.6,333.9 621.9,322.5 622.3,329.6 622.6,336.8 623.0,329.4 623.3,331.3 623.7,335.3 624.0,321.4 624.4,318.2 624.7,341.9 625.1,323.5 625.4,340.5 625.8,323.2 626.1,335.5 626.5,326.0 626.8,340.3 627.2,337.8 627.5,332.9 627.9,333.1 628.2,326.9 628.6,330.3 628.9,325.3 629.3,331.9 629.6,334.0 630.0,326.8 630.3,331.9 630.7,332.0 631.0,333.8 631.4,329.0 631.7,334.7 632.1,325.1 632.4,327.4 632.8,331.8 633.1,338.7 633.5,340.9 633.8,333.7 634.2,329.1 634.5,334.1 634.9,334.7 635.2,350.0 635.6,338.4 635.9,344.1 636.3,334.9 636.6,334.0 637.0,333.5 637.3,341.0 637.7,334.8 638.0,332.3 638.4,339.2 638.7,337.1 639.1,337.5 639.4,351.9 639.8,325.5 640.1,336.3 640.5,329.2 640.8,338.5 641.2,335.9 641.5,326.9 641.9,331.1 642.2,332.1 642.6,324.3 642.9,331.4 643.3,324.3 643.6,321.0 644.0,343.9 644.3,315.6 644.7,349.5 645.0,333.6 645.4,327.5 645.7,340.9 646.1,348.4 646.4,333.4 646.8,337.5 647.1,332.2 647.5,342.2 647.8,332.7 648.2,330.4 648.5,331.4 648.9,336.1 649.2,324.5 649.6,332.7 649.9,328.1 650.3,354.3 650.6,325.8 651.0,334.7 651.3,332.6 651.7,321.8 652.0,334.3 652.4,329.6 652.7,336.0 653.1,330.2 653.4,346.3 653.8,336.6 654.1,327.5 654.5,333.0 654.8,337.7 655.2,339.6 655.5,351.0 655.9,332.4 656.2,324.4 656.6,344.1 656.9,343.2 657.3,344.7 657.6,327.6 658.0,337.2 658.3,339.6 658.7,334.9 659.0,332.5 659.4,347.3 659.7,346.0 660.1,328.6 660.4,340.5 660.8,345.0 661.1,333.0 661.5,328.5 661.8,334.2 662.2,341.6 662.5,339.8 662.9,334.3 663.2,338.0 663.6,326.6 663.9,338.0 664.3,342.9 664.6,333.5 665.0,339.1 665.3,333.9 665.7,330.7 666.0,340.4 666.4,330.2 666.7,335.7 667.1,344.2 667.4,330.5 667.8,345.6 668.1,351.3 668.5,342.4 668.8,338.4 669.2,342.1 669.5,333.3 669.9,336.2 670.2,346.1 670.6,341.8 670.9,330.4 671.3,332.2 671.6,335.1 672.0,341.9 672.3,339.6 672.7,344.1 673.0,340.9 673.4,347.0 673.7,318.8 674.1,340.2 674.4,324.7 674.8,350.7 675.1,341.4 675.5,338.4 675.8,330.4 676.2,332.1 676.5,331.3 676.9,346.4 677.2,331.9 677.6,348.8 677.9,330.0 678.3,343.1 678.6,346.9 679.0,337.2 679.3,342.9 679.7,326.3 680.0,351.9 680.4,329.7 680.7,340.8 681.1,342.9 681.4,341.8 681.8,341.2 682.1,338.6 682.5,340.3 682.8,329.0 683.2,331.5 683.5,334.3" stroke="#fe2f08"/><path d="M526.0,280.0 526.4,279.3 526.7,280.3 527.1,282.3 527.4,279.4 527.8,281.5 528.1,284.7 528.5,279.2 528.8,284.4 529.2,288.0 529.5,284.1 529.9,287.8 530.2,282.8 530.6,282.2 530.9,285.0 531.3,279.7 531.6,287.3 532.0,284.4 532.3,280.7 532.7,288.0 533.0,286.9 533.4,284.2 533.7,283.5 534.1,286.6 534.4,281.1 534.8,282.6 535.1,289.9 535.5,287.4 535.8,290.2 536.2,287.5 536.5,292.0 536.9,284.3 537.2,291.1 537.6,290.6 537.9,291.5 538.3,293.0 538.6,287.5 539.0,288.9 539.3,294.9 539.7,293.0 540.0,292.4 540.4,285.6 540.7,295.5 541.1,291.6 541.4,293.0 541.8,285.5 542.1,291.6 542.5,284.1 542.8,293.4 543.2,291.4 543.5,292.2 543.9,288.8 544.2,292.8 544.6,291.7 544.9,287.3 545.3,293.3 545.6,291.9 546.0,288.3 546.3,295.7 546.7,288.9 547.0,290.8 547.4,287.5 547.7,288.2 548.1,294.6 548.4,300.5 548.8,291.8 549.1,293.0 549.5,293.0 549.8,297.1 550.2,301.3 550.5,295.4 550.9,294.0 551.2,297.6 551.6,296.8 551.9,294.1 552.3,295.2 552.6,292.5 553.0,295.5 553.3,291.1 553.7,299.7 554.0,299.8 554.4,289.3 554.7,289.5 555.1,293.1 555.4,295.4 555.8,299.2 556.1,294.9 556.5,299.3 556.8,291.4 557.2,295.4 557.5,295.9 557.9,293.3 558.2,293.7 558.6,298.7 558.9,297.8 559.3,299.9 559.6,290.9 560.0,302.0 560.3,303.0 560.7,304.0 561.0,297.5 561.4,295.7 561.7,299.7 562.1,298.5 562.4,301.1 562.8,291.1 563.1,297.4 563.5,299.3 563.8,295.6 564.2,295.7 564.5,304.6 564.9,300.9 565.2,296.3 565.6,304.8 565.9,298.4 566.3,297.0 566.6,297.4 567.0,298.2 567.3,277.1 567.7,300.2 568.0,301.3 568.4,299.1 568.7,302.7 569.1,298.6 569.4,302.2 569.8,297.9 570.1,304.7 570.5,303.7 570.8,301.0 571.2,302.5 571.5,300.3 571.9,301.0 572.2,303.1 572.6,305.7 572.9,297.5 573.3,301.8 573.6,305.2 574.0,299.6 574.3,299.3 574.7,306.5 575.0,302.2 575.4,309.5 575.7,306.5 576.1,287.6 576.4,303.9 576.8,304.0 577.1,303.8 577.5,303.4 577.8,300.6 578.2,303.5 578.5,306.1 578.9,302.1 579.2,301.9 579.6,303.3 579.9,310.8 580.3,310.1 580.6,307.9 581.0,304.5 581.3,309.3 581.7,301.0 582.0,308.8 582.4,307.2 582.7,313.9 583.1,309.0 583.4,305.9 583.8,308.1 584.1,305.3 584.5,309.0 584.8,306.4 585.2,310.2 585.5,275.7 585.9,304.8 586.2,312.7 586.6,300.2 586.9,304.8 587.3,311.2 587.6,311.4 588.0,315.0 588.3,308.6 588.7,309.2 589.0,312.1 589.4,307.9 589.7,311.5 590.1,308.2 590.4,308.9 590.8,313.0 591.1,312.2 591.5,307.9 591.8,315.0 592.2,306.6 592.5,312.4 592.9,313.6 593.2,310.0 593.6,307.8 593.9,308.6 594.3,312.4 594.6,317.4 595.0,311.4 595.3,306.6 595.7,310.8 596.0,307.3 596.4,316.7 596.7,314.6 597.1,314.5 597.4,306.8 597.8,308.3 598.1,309.7 598.5,312.8 598.8,312.9 599.2,312.0 599.5,316.9 599.9,310.7 600.2,317.7 600.6,316.1 600.9,311.7 601.3,313.4 601.6,320.6 602.0,316.2 602.3,311.4 602.7,314.8 603.0,314.3 603.4,317.6 603.7,313.6 604.1,318.3 604.4,315.0 604.8,314.2 605.1,319.4 605.5,317.4 605.8,311.2 606.2,317.1 606.5,316.8 606.9,318.0 607.2,320.6 607.6,312.7 607.9,319.3 608.3,316.4 608.6,320.1 609.0,315.1 609.3,318.6 609.7,322.7 610.0,318.2 610.4,320.7 610.7,310.7 611.1,315.2 611.4,315.6 611.8,318.0 612.1,318.3 612.5,321.3 612.8,315.9 613.2,325.3 613.5,325.8 613.9,317.8 614.2,322.2 614.6,325.8 614.9,319.3 615.3,321.2 615.6,323.9 616.0,324.4 616.3,321.7 616.7,320.8 617.0,322.9 617.4,321.1 617.7,324.9 618.1,321.1 618.4,320.7 618.8,319.4 619.1,327.4 619.5,320.9 619.8,318.5 620.2,324.1 620.5,320.9 620.9,324.6 621.2,322.5 621.6,323.1 621.9,323.2 622.3,324.1 622.6,322.7 623.0,320.6 623.3,324.0 623.7,324.7 624.0,318.4 624.4,322.1 624.7,324.3 625.1,325.7 625.4,328.6 625.8,326.4 626.1,325.8 626.5,323.9 626.8,324.8 627.2,323.6 627.5,325.6 627.9,317.7 628.2,323.5 628.6,328.9 628.9,322.2 629.3,319.8 629.6,322.3 630.0,323.7 630.3,327.2 630.7,318.3 631.0,323.4 631.4,300.9 631.7,325.5 632.1,321.9 632.4,328.2 632.8,324.7 633.1,324.2 633.5,324.7 633.8,323.1 634.2,327.5 634.5,328.1 634.9,325.4 635.2,327.0 635.6,292.3 635.9,324.0 636.3,325.4 636.6,324.0 637.0,324.9 637.3,324.7 637.7,329.5 638.0,320.3 638.4,324.0 638.7,327.5 639.1,323.2 639.4,324.8 639.8,325.4 640.1,325.1 640.5,325.9 640.8,323.2 641.2,324.1 641.5,322.4 641.9,324.4 642.2,323.2 642.6,320.9 642.9,325.2 643.3,325.9 643.6,326.3 644.0,326.0 644.3,328.0 644.7,326.8 645.0,326.3 645.4,329.2 645.7,326.4 646.1,323.7 646.4,328.4 646.8,326.5 647.1,321.5 647.5,325.0 647.8,323.2 648.2,327.4 648.5,325.6 648.9,320.7 649.2,323.1 649.6,330.0 649.9,326.4 650.3,326.8 650.6,325.6 651.0,326.7 651.3,329.9 651.7,327.7 652.0,325.6 652.4,326.9 652.7,331.2 653.1,328.4 653.4,326.4 653.8,331.4 654.1,323.7 654.5,320.3 654.8,326.2 655.2,327.7 655.5,328.1 655.9,323.0 656.2,327.2 656.6,326.0 656.9,330.5 657.3,330.4 657.6,327.9 658.0,324.8 658.3,328.9 658.7,327.9 659.0,327.7 659.4,328.3 659.7,330.9 660.1,325.2 660.4,324.1 660.8,328.7 661.1,329.6 661.5,328.3 661.8,323.1 662.2,327.5 662.5,326.4 662.9,328.2 663.2,328.6 663.6,325.1 663.9,326.7 664.3,325.7 664.6,327.5 665.0,331.2 665.3,325.2 665.7,329.6 666.0,329.3 666.4,325.8 666.7,331.1 667.1,321.4 667.4,334.0 667.8,332.4 668.1,328.0 668.5,325.8 668.8,326.5 669.2,325.5 669.5,334.1 669.9,325.5 670.2,330.1 670.6,324.7 670.9,329.3 671.3,289.1 671.6,328.1 672.0,332.7 672.3,329.3 672.7,331.4 673.0,329.1 673.4,326.5 673.7,329.1 674.1,330.9 674.4,332.1 674.8,328.2 675.1,327.0 675.5,329.1 675.8,327.9 676.2,329.5 676.5,328.6 676.9,330.9 677.2,331.8 677.6,327.1 677.9,330.7 678.3,328.5 678.6,332.9 679.0,327.9 679.3,327.5 679.7,326.4 680.0,329.3 680.4,330.3 680.7,327.8 681.1,330.4 681.4,323.1 681.8,330.8 682.1,330.4 682.5,324.3 682.8,334.6 683.2,332.0 683.5,332.4" stroke="#8b6299"/><path d="M526.0,258.0 526.4,258.9 526.7,262.0 527.1,262.0 527.4,261.7 527.8,266.9 528.1,265.2 528.5,273.7 528.8,254.9 529.2,264.6 529.5,268.0 529.9,260.6 530.2,265.4 530.6,258.5 530.9,256.8 531.3,273.9 531.6,250.3 532.0,256.0 532.3,263.7 532.7,260.1 533.0,273.3 533.4,271.4 533.7,269.1 534.1,277.7 534.4,275.5 534.8,275.5 535.1,270.6 535.5,268.6 535.8,274.3 536.2,275.2 536.5,271.4 536.9,270.3 537.2,272.9 537.6,275.5 537.9,276.3 538.3,264.7 538.6,268.4 539.0,275.3 539.3,271.5 539.7,270.7 540.0,277.3 540.4,270.7 540.7,275.6 541.1,264.0 541.4,283.2 541.8,268.1 542.1,269.9 542.5,288.5 542.8,282.1 543.2,276.1 543.5,270.5 543.9,270.3 544.2,263.0 544.6,269.0 544.9,256.0 545.3,276.7 545.6,275.3 546.0,267.5 546.3,275.2 546.7,264.2 547.0,272.3 547.4,278.0 547.7,282.1 548.1,278.1 548.4,270.5 548.8,272.9 549.1,287.9 549.5,263.8 549.8,284.8 550.2,263.2 550.5,270.7 550.9,282.4 551.2,275.6 551.6,241.9 551.9,283.3 552.3,284.4 552.6,274.0 553.0,280.3 553.3,291.5 553.7,278.9 554.0,281.4 554.4,281.2 554.7,281.8 555.1,281.4 555.4,277.5 555.8,282.8 556.1,274.1 556.5,279.0 556.8,277.1 557.2,280.6 557.5,285.4 557.9,277.9 558.2,280.3 558.6,286.3 558.9,277.3 559.3,285.5 559.6,276.6 560.0,290.2 560.3,285.2 560.7,283.1 561.0,282.5 561.4,281.4 561.7,298.9 562.1,282.5 562.4,290.1 562.8,289.1 563.1,283.5 563.5,280.8 563.8,292.5 564.2,293.4 564.5,291.2 564.9,253.7 565.2,288.2 565.6,285.0 565.9,290.6 566.3,284.4 566.6,279.9 567.0,288.3 567.3,280.4 567.7,296.4 568.0,287.0 568.4,290.4 568.7,294.9 569.1,303.0 569.4,291.4 569.8,279.2 570.1,278.9 570.5,279.9 570.8,290.9 571.2,286.3 571.5,295.6 571.9,287.1 572.2,282.8 572.6,298.9 572.9,290.6 573.3,294.7 573.6,286.5 574.0,293.4 574.3,301.5 574.7,291.2 575.0,286.1 575.4,302.4 575.7,298.3 576.1,287.6 576.4,283.6 576.8,294.2 577.1,302.0 577.5,300.7 577.8,289.9 578.2,295.2 578.5,300.3 578.9,297.7 579.2,288.4 579.6,294.0 579.9,303.5 580.3,304.1 580.6,293.8 581.0,297.5 581.3,297.6 581.7,299.3 582.0,283.2 582.4,304.6 582.7,301.2 583.1,291.1 583.4,303.2 583.8,288.2 584.1,287.4 584.5,287.6 584.8,301.8 585.2,294.8 585.5,288.1 585.9,303.4 586.2,297.1 586.6,287.2 586.9,290.6 587.3,288.1 587.6,296.4 588.0,304.4 588.3,305.1 588.7,298.5 589.0,303.6 589.4,291.4 589.7,296.5 590.1,298.2 590.4,308.2 590.8,299.0 591.1,313.5 591.5,296.1 591.8,292.1 592.2,283.2 592.5,301.0 592.9,305.5 593.2,302.1 593.6,304.8 593.9,305.2 594.3,298.2 594.6,280.5 595.0,309.7 595.3,305.7 595.7,303.7 596.0,291.5 596.4,296.0 596.7,300.0 597.1,297.9 597.4,291.6 597.8,301.6 598.1,311.1 598.5,311.1 598.8,303.6 599.2,308.7 599.5,315.2 599.9,306.5 600.2,302.6 600.6,309.5 600.9,312.6 601.3,305.3 601.6,316.5 602.0,308.8 602.3,308.1 602.7,313.6 603.0,309.4 603.4,311.1 603.7,303.9 604.1,308.3 604.4,301.8 604.8,315.3 605.1,291.5 605.5,303.7 605.8,310.1 606.2,306.3 606.5,309.5 606.9,304.3 607.2,319.5 607.6,301.7 607.9,311.7 608.3,311.9 608.6,315.0 609.0,308.0 609.3,314.0 609.7,304.4 610.0,313.6 610.4,316.7 610.7,305.1 611.1,311.7 611.4,308.9 611.8,318.4 612.1,321.6 612.5,324.2 612.8,318.5 613.2,314.5 613.5,306.2 613.9,309.3 614.2,323.8 614.6,314.2 614.9,313.3 615.3,314.0 615.6,311.7 616.0,315.4 616.3,318.9 616.7,316.3 617.0,324.5 617.4,308.7 617.7,319.8 618.1,312.4 618.4,311.1 618.8,304.1 619.1,331.8 619.5,318.0 619.8,318.0 620.2,317.9 620.5,320.0 620.9,332.2 621.2,329.9 621.6,324.2 621.9,322.5 622.3,315.4 622.6,329.6 623.0,322.0 623.3,333.2 623.7,337.2 624.0,319.4 624.4,321.9 624.7,331.6 625.1,321.8 625.4,319.4 625.8,327.3 626.1,328.1 626.5,265.4 626.8,319.4 627.2,322.8 627.5,328.0 627.9,314.6 628.2,328.6 628.6,325.8 628.9,325.6 629.3,333.2 629.6,333.7 630.0,327.5 630.3,328.5 630.7,313.5 631.0,323.7 631.4,331.0 631.7,327.9 632.1,327.5 632.4,336.8 632.8,324.1 633.1,328.2 633.5,328.0 633.8,327.8 634.2,333.0 634.5,337.4 634.9,321.9 635.2,328.3 635.6,326.3 635.9,329.0 636.3,324.8 636.6,321.7 637.0,327.9 637.3,315.6 637.7,321.9 638.0,319.4 638.4,327.1 638.7,313.4 639.1,322.9 639.4,329.6 639.8,322.6 640.1,316.4 640.5,327.8 640.8,328.1 641.2,312.7 641.5,330.1 641.9,325.3 642.2,329.8 642.6,312.6 642.9,327.1 643.3,328.4 643.6,342.6 644.0,332.0 644.3,334.3 644.7,324.0 645.0,334.5 645.4,330.2 645.7,337.2 646.1,327.8 646.4,327.1 646.8,331.2 647.1,277.5 647.5,325.8 647.8,342.0 648.2,319.4 648.5,326.1 648.9,320.5 649.2,328.4 649.6,331.1 649.9,329.6 650.3,336.1 650.6,329.3 651.0,315.8 651.3,317.8 651.7,326.3 652.0,328.3 652.4,335.1 652.7,327.7 653.1,320.0 653.4,324.5 653.8,326.6 654.1,322.3 654.5,326.4 654.8,323.9 655.2,328.6 655.5,331.0 655.9,336.2 656.2,328.6 656.6,333.1 656.9,333.2 657.3,327.6 657.6,326.8 658.0,315.5 658.3,343.0 658.7,318.8 659.0,324.9 659.4,323.3 659.7,326.5 660.1,334.0 660.4,325.4 660.8,320.1 661.1,331.8 661.5,334.6 661.8,335.4 662.2,325.4 662.5,336.5 662.9,325.0 663.2,273.4 663.6,331.9 663.9,337.0 664.3,329.7 664.6,324.6 665.0,329.6 665.3,328.8 665.7,334.4 666.0,321.9 666.4,333.1 666.7,330.0 667.1,334.9 667.4,330.0 667.8,323.2 668.1,331.4 668.5,331.4 668.8,333.3 669.2,322.7 669.5,351.5 669.9,330.6 670.2,329.1 670.6,337.3 670.9,325.4 671.3,335.5 671.6,320.7 672.0,327.3 672.3,331.7 672.7,322.7 673.0,315.7 673.4,324.7 673.7,335.5 674.1,323.3 674.4,327.2 674.8,333.8 675.1,328.6 675.5,330.6 675.8,337.9 676.2,323.1 676.5,335.5 676.9,331.7 677.2,326.9 677.6,327.2 677.9,302.2 678.3,326.7 678.6,321.8 679.0,332.2 679.3,317.2 679.7,329.6 680.0,320.8 680.4,339.4 680.7,331.0 681.1,316.5 681.4,328.6 681.8,333.8 682.1,328.7 682.5,321.8 682.8,326.9 683.2,336.3 683.5,338.8" stroke="#444444"/><path d="M526.0,266.0 526.4,267.1 526.7,269.8 527.1,271.2 527.4,269.4 527.8,271.0 528.1,265.1 528.5,269.1 528.8,273.8 529.2,277.6 529.5,268.2 529.9,268.8 530.2,277.5 530.6,279.1 530.9,267.6 531.3,276.9 531.6,283.5 532.0,275.2 532.3,281.1 532.7,282.1 533.0,270.9 533.4,273.1 533.7,267.5 534.1,268.9 534.4,275.2 534.8,280.8 535.1,280.1 535.5,273.9 535.8,266.0 536.2,277.2 536.5,283.3 536.9,280.0 537.2,281.3 537.6,290.8 537.9,287.8 538.3,277.3 538.6,264.6 539.0,286.8 539.3,276.0 539.7,282.6 540.0,273.6 540.4,281.8 540.7,274.3 541.1,282.7 541.4,275.5 541.8,277.7 542.1,275.4 542.5,283.3 542.8,282.4 543.2,282.7 543.5,275.4 543.9,280.4 544.2,274.6 544.6,279.2 544.9,283.2 545.3,282.9 545.6,291.9 546.0,283.5 546.3,281.0 546.7,277.9 547.0,286.2 547.4,280.1 547.7,291.6 548.1,269.7 548.4,279.2 548.8,275.7 549.1,275.8 549.5,283.6 549.8,280.9 550.2,282.4 550.5,289.0 550.9,293.6 551.2,275.9 551.6,285.4 551.9,283.0 552.3,281.2 552.6,288.7 553.0,279.2 553.3,280.9 553.7,280.2 554.0,290.6 554.4,288.5 554.7,283.7 555.1,290.9 555.4,282.7 555.8,282.1 556.1,296.5 556.5,291.7 556.8,289.5 557.2,299.3 557.5,290.5 557.9,287.0 558.2,279.4 558.6,280.0 558.9,288.1 559.3,293.5 559.6,292.2 560.0,290.4 560.3,288.4 560.7,288.8 561.0,296.1 561.4,297.0 561.7,292.2 562.1,291.5 562.4,295.7 562.8,294.6 563.1,294.9 563.5,294.2 563.8,288.6 564.2,300.4 564.5,283.0 564.9,292.0 565.2,295.1 565.6,303.3 565.9,302.4 566.3,286.5 566.6,298.4 567.0,290.9 567.3,289.1 567.7,300.1 568.0,298.1 568.4,288.1 568.7,289.9 569.1,288.4 569.4,293.6 569.8,288.8 570.1,293.9 570.5,294.6 570.8,293.8 571.2,295.9 571.5,300.1 571.9,292.1 572.2,293.0 572.6,293.6 572.9,294.8 573.3,300.4 573.6,297.0 574.0,301.9 574.3,300.2 574.7,303.5 575.0,301.1 575.4,290.2 575.7,311.8 576.1,295.2 576.4,301.7 576.8,300.9 577.1,302.8 577.5,293.6 577.8,296.7 578.2,303.7 578.5,300.9 578.9,292.4 579.2,297.0 579.6,305.6 579.9,290.5 580.3,280.7 580.6,293.3 581.0,299.6 581.3,298.5 581.7,289.0 582.0,298.6 582.4,303.7 582.7,306.0 583.1,290.1 583.4,295.0 583.8,290.7 584.1,301.3 584.5,303.0 584.8,302.0 585.2,303.4 585.5,292.7 585.9,301.3 586.2,296.8 586.6,301.0 586.9,294.5 587.3,294.1 587.6,303.8 588.0,298.6 588.3,299.5 588.7,298.9 589.0,303.7 589.4,313.3 589.7,296.7 590.1,291.7 590.4,294.8 590.8,302.8 591.1,299.3 591.5,291.9 591.8,298.6 592.2,300.3 592.5,312.0 592.9,301.7 593.2,305.6 593.6,308.1 593.9,301.2 594.3,308.7 594.6,300.4 595.0,299.9 595.3,310.6 595.7,310.0 596.0,297.5 596.4,305.0 596.7,307.8 597.1,308.3 597.4,304.8 597.8,305.0 598.1,308.6 598.5,314.3 598.8,304.6 599.2,308.4 599.5,300.9 599.9,304.5 600.2,305.3 600.6,306.8 600.9,306.0 601.3,308.5 601.6,307.4 602.0,298.7 602.3,299.2 602.7,310.4 603.0,277.3 603.4,305.6 603.7,313.7 604.1,306.2 604.4,301.6 604.8,301.9 605.1,297.5 605.5,310.9 605.8,308.6 606.2,315.7 606.5,309.6 606.9,306.4 607.2,306.4 607.6,284.0 607.9,313.5 608.3,298.7 608.6,314.8 609.0,309.1 609.3,308.6 609.7,306.4 610.0,299.8 610.4,310.0 610.7,312.7 611.1,310.2 611.4,307.6 611.8,309.8 612.1,311.7 612.5,313.6 612.8,305.1 613.2,320.2 613.5,307.6 613.9,313.4 614.2,321.6 614.6,303.4 614.9,317.8 615.3,303.8 615.6,311.7 616.0,313.2 616.3,308.0 616.7,316.9 617.0,316.1 617.4,317.9 617.7,305.1 618.1,307.3 618.4,316.4 618.8,310.2 619.1,317.0 619.5,299.8 619.8,324.1 620.2,305.9 620.5,313.5 620.9,305.9 621.2,300.1 621.6,317.4 621.9,301.7 622.3,323.6 622.6,306.5 623.0,317.9 623.3,305.7 623.7,313.6 624.0,312.0 624.4,311.1 624.7,308.2 625.1,308.2 625.4,318.4 625.8,316.2 626.1,324.7 626.5,304.5 626.8,313.5 627.2,321.4 627.5,303.0 627.9,310.0 628.2,307.1 628.6,311.5 628.9,312.7 629.3,322.6 629.6,319.2 630.0,322.7 630.3,319.5 630.7,319.9 631.0,313.0 631.4,324.7 631.7,313.3 632.1,290.3 632.4,322.0 632.8,316.4 633.1,323.1 633.5,315.3 633.8,311.4 634.2,304.5 634.5,323.4 634.9,316.0 635.2,311.3 635.6,316.5 635.9,312.5 636.3,313.7 636.6,314.5 637.0,318.1 637.3,309.2 637.7,315.6 638.0,319.1 638.4,317.0 638.7,308.2 639.1,314.3 639.4,320.3 639.8,319.8 640.1,324.6 640.5,316.5 640.8,313.9 641.2,313.3 641.5,318.2 641.9,311.3 642.2,311.5 642.6,323.8 642.9,318.2 643.3,321.7 643.6,303.4 644.0,321.5 644.3,315.3 644.7,332.4 645.0,304.5 645.4,322.8 645.7,330.2 646.1,324.9 646.4,314.7 646.8,316.1 647.1,314.9 647.5,315.0 647.8,327.1 648.2,312.5 648.5,326.1 648.9,323.9 649.2,324.3 649.6,323.6 649.9,314.1 650.3,325.9 650.6,310.7 651.0,322.1 651.3,317.5 651.7,322.9 652.0,325.8 652.4,309.3 652.7,316.4 653.1,318.4 653.4,315.6 653.8,314.8 654.1,311.2 654.5,310.9 654.8,321.5 655.2,324.2 655.5,304.7 655.9,330.5 656.2,323.8 656.6,329.4 656.9,315.6 657.3,318.5 657.6,306.2 658.0,311.9 658.3,317.3 658.7,310.6 659.0,321.0 659.4,327.4 659.7,328.6 660.1,327.6 660.4,320.7 660.8,324.9 661.1,312.5 661.5,324.6 661.8,316.3 662.2,318.2 662.5,330.8 662.9,310.6 663.2,321.7 663.6,309.3 663.9,334.3 664.3,316.6 664.6,316.6 665.0,323.6 665.3,314.5 665.7,324.3 666.0,319.8 666.4,313.7 666.7,312.1 667.1,317.9 667.4,319.3 667.8,319.8 668.1,313.8 668.5,323.7 668.8,327.2 669.2,327.6 669.5,318.6 669.9,323.9 670.2,305.4 670.6,314.9 670.9,310.7 671.3,309.4 671.6,321.0 672.0,315.3 672.3,316.3 672.7,308.1 673.0,326.1 673.4,313.2 673.7,316.4 674.1,314.4 674.4,321.0 674.8,328.0 675.1,315.8 675.5,314.2 675.8,316.6 676.2,322.7 676.5,323.5 676.9,320.2 677.2,325.9 677.6,325.9 677.9,324.6 678.3,316.6 678.6,324.4 679.0,318.3 679.3,316.6 679.7,318.5 680.0,318.2 680.4,316.4 680.7,319.8 681.1,315.2 681.4,316.4 681.8,321.3 682.1,324.9 682.5,321.3 682.8,318.4 683.2,328.3 683.5,306.9" stroke="#a0a0a0"/></g><path d="M65.86 198.6v-4.0M65.86 46.5v4.0M73.81 198.6v-4.0M73.81 46.5v4.0M81.77 198.6v-4.0M81.77 46.5v4.0M89.72 198.6v-4.0M89.72 46.5v4.0M97.67 198.6v-5.8M97.67 46.5v5.8M105.63 198.6v-4.0M105.63 46.5v4.0M113.59 198.6v-4.0M113.59 46.5v4.0M121.54 198.6v-4.0M121.54 46.5v4.0M129.5 198.6v-4.0M129.5 46.5v4.0M137.45 198.6v-5.8M137.45 46.5v5.8M145.41 198.6v-4.0M145.41 46.5v4.0M153.36 198.6v-4.0M153.36 46.5v4.0M161.31 198.6v-4.0M161.31 46.5v4.0M169.27 198.6v-4.0M169.27 46.5v4.0M177.22 198.6v-5.8M177.22 46.5v5.8M185.18 198.6v-4.0M185.18 46.5v4.0M193.14 198.6v-4.0M193.14 46.5v4.0M201.09 198.6v-4.0M201.09 46.5v4.0M209.05 198.6v-4.0M209.05 46.5v4.0M57.9 191.86h3.8M217 191.86h-3.8M57.9 187.16h3.8M217 187.16h-3.8M57.9 183.52h3.8M217 183.52h-3.8M57.9 180.54h3.8M217 180.54h-3.8M57.9 178.02h3.8M217 178.02h-3.8M57.9 175.84h3.8M217 175.84h-3.8M57.9 173.92h3.8M217 173.92h-3.8M57.9 172.2h5.8M217 172.2h-5.8M57.9 160.88h3.8M217 160.88h-3.8M57.9 154.26h3.8M217 154.26h-3.8M57.9 149.56h3.8M217 149.56h-3.8M57.9 145.92h3.8M217 145.92h-3.8M57.9 142.94h3.8M217 142.94h-3.8M57.9 140.42h3.8M217 140.42h-3.8M57.9 138.24h3.8M217 138.24h-3.8M57.9 136.32h3.8M217 136.32h-3.8M57.9 134.6h5.8M217 134.6h-5.8M57.9 123.28h3.8M217 123.28h-3.8M57.9 116.66h3.8M217 116.66h-3.8M57.9 111.96h3.8M217 111.96h-3.8M57.9 108.32h3.8M217 108.32h-3.8M57.9 105.34h3.8M217 105.34h-3.8M57.9 102.82h3.8M217 102.82h-3.8M57.9 100.64h3.8M217 100.64h-3.8M57.9 98.72h3.8M217 98.72h-3.8M57.9 97h5.8M217 97h-5.8M57.9 85.68h3.8M217 85.68h-3.8M57.9 79.06h3.8M217 79.06h-3.8M57.9 74.36h3.8M217 74.36h-3.8M57.9 70.72h3.8M217 70.72h-3.8M57.9 67.74h3.8M217 67.74h-3.8M57.9 65.22h3.8M217 65.22h-3.8M57.9 63.04h3.8M217 63.04h-3.8M57.9 61.12h3.8M217 61.12h-3.8M57.9 59.4h5.8M217 59.4h-5.8M57.9 48.08h3.8M217 48.08h-3.8" stroke="#000" stroke-width="1.1" fill="none"/><rect x="57.9" y="46.5" width="159.1" height="152.1" fill="none" stroke="#000" stroke-width="1.5"/><g font-family="Liberation Sans" font-size="12" fill="#111"><text x="97.67" y="212.9" text-anchor="middle">500</text><text x="137.45" y="212.9" text-anchor="middle">1000</text><text x="177.22" y="212.9" text-anchor="middle">1500</text><text x="217" y="212.9" text-anchor="middle">2000</text><text x="38.7" y="64" text-anchor="end">10</text><text x="51.9" y="59" text-anchor="end" font-size="9.2">1</text><path d="M39.7 56.7h5.6" stroke="#111" stroke-width="0.85"/><text x="38.7" y="101.6" text-anchor="end">10</text><text x="51.9" y="96.6" text-anchor="end" font-size="9.2">2</text><path d="M39.7 94.3h5.6" stroke="#111" stroke-width="0.85"/><text x="38.7" y="139.2" text-anchor="end">10</text><text x="51.9" y="134.2" text-anchor="end" font-size="9.2">3</text><path d="M39.7 131.9h5.6" stroke="#111" stroke-width="0.85"/><text x="38.7" y="176.8" text-anchor="end">10</text><text x="51.9" y="171.8" text-anchor="end" font-size="9.2">4</text><path d="M39.7 169.5h5.6" stroke="#111" stroke-width="0.85"/></g><path d="M315.66 198.6v-4.0M315.66 46.5v4.0M331.52 198.6v-4.0M331.52 46.5v4.0M347.38 198.6v-4.0M347.38 46.5v4.0M363.24 198.6v-5.8M363.24 46.5v5.8M379.1 198.6v-4.0M379.1 46.5v4.0M394.96 198.6v-4.0M394.96 46.5v4.0M410.82 198.6v-4.0M410.82 46.5v4.0M426.68 198.6v-5.8M426.68 46.5v5.8M442.54 198.6v-4.0M442.54 46.5v4.0M299.8 189.21h3.8M458.4 189.21h-3.8M299.8 180.09h3.8M458.4 180.09h-3.8M299.8 173.61h3.8M458.4 173.61h-3.8M299.8 168.59h3.8M458.4 168.59h-3.8M299.8 164.49h3.8M458.4 164.49h-3.8M299.8 161.02h3.8M458.4 161.02h-3.8M299.8 158.02h3.8M458.4 158.02h-3.8M299.8 155.37h3.8M458.4 155.37h-3.8M299.8 153h5.8M458.4 153h-5.8M299.8 137.41h3.8M458.4 137.41h-3.8M299.8 128.29h3.8M458.4 128.29h-3.8M299.8 121.81h3.8M458.4 121.81h-3.8M299.8 116.79h3.8M458.4 116.79h-3.8M299.8 112.69h3.8M458.4 112.69h-3.8M299.8 109.22h3.8M458.4 109.22h-3.8M299.8 106.22h3.8M458.4 106.22h-3.8M299.8 103.57h3.8M458.4 103.57h-3.8M299.8 101.2h5.8M458.4 101.2h-5.8M299.8 85.61h3.8M458.4 85.61h-3.8M299.8 76.49h3.8M458.4 76.49h-3.8M299.8 70.01h3.8M458.4 70.01h-3.8M299.8 64.99h3.8M458.4 64.99h-3.8M299.8 60.89h3.8M458.4 60.89h-3.8M299.8 57.42h3.8M458.4 57.42h-3.8M299.8 54.42h3.8M458.4 54.42h-3.8M299.8 51.77h3.8M458.4 51.77h-3.8M299.8 49.4h5.8M458.4 49.4h-5.8" stroke="#000" stroke-width="1.1" fill="none"/><rect x="299.8" y="46.5" width="158.6" height="152.1" fill="none" stroke="#000" stroke-width="1.5"/><g font-family="Liberation Sans" font-size="12" fill="#111"><text x="363.24" y="212.9" text-anchor="middle">2000</text><text x="426.68" y="212.9" text-anchor="middle">4000</text><text x="289.2" y="54" text-anchor="end">10</text><text x="294.2" y="48.8" text-anchor="end" font-size="8.8">0</text><text x="280.6" y="105.8" text-anchor="end">10</text><text x="293.8" y="100.8" text-anchor="end" font-size="9.2">1</text><path d="M281.6 98.5h5.6" stroke="#111" stroke-width="0.85"/><text x="280.6" y="157.6" text-anchor="end">10</text><text x="293.8" y="152.6" text-anchor="end" font-size="9.2">2</text><path d="M281.6 150.3h5.6" stroke="#111" stroke-width="0.85"/></g><path d="M541.6 198.6v-4.0M541.6 46.5v4.0M557.4 198.6v-4.0M557.4 46.5v4.0M573.2 198.6v-4.0M573.2 46.5v4.0M589 198.6v-5.8M589 46.5v5.8M604.8 198.6v-4.0M604.8 46.5v4.0M620.6 198.6v-4.0M620.6 46.5v4.0M636.4 198.6v-4.0M636.4 46.5v4.0M652.2 198.6v-5.8M652.2 46.5v5.8M668 198.6v-4.0M668 46.5v4.0M525.8 189.15h3.8M683.8 189.15h-3.8M525.8 181.93h3.8M683.8 181.93h-3.8M525.8 176.03h3.8M683.8 176.03h-3.8M525.8 171.04h3.8M683.8 171.04h-3.8M525.8 166.72h3.8M683.8 166.72h-3.8M525.8 162.91h3.8M683.8 162.91h-3.8M525.8 159.5h5.8M683.8 159.5h-5.8M525.8 137.07h3.8M683.8 137.07h-3.8M525.8 123.95h3.8M683.8 123.95h-3.8M525.8 114.65h3.8M683.8 114.65h-3.8M525.8 107.43h3.8M683.8 107.43h-3.8M525.8 101.53h3.8M683.8 101.53h-3.8M525.8 96.54h3.8M683.8 96.54h-3.8M525.8 92.22h3.8M683.8 92.22h-3.8M525.8 88.41h3.8M683.8 88.41h-3.8M525.8 85h5.8M683.8 85h-5.8M525.8 62.57h3.8M683.8 62.57h-3.8M525.8 49.45h3.8M683.8 49.45h-3.8" stroke="#000" stroke-width="1.1" fill="none"/><rect x="525.8" y="46.5" width="158" height="152.1" fill="none" stroke="#000" stroke-width="1.5"/><g font-family="Liberation Sans" font-size="12" fill="#111"><text x="589" y="212.9" text-anchor="middle">2000</text><text x="652.2" y="212.9" text-anchor="middle">4000</text><text x="506.6" y="89.6" text-anchor="end">10</text><text x="519.8" y="84.6" text-anchor="end" font-size="9.2">1</text><path d="M507.6 82.3h5.6" stroke="#111" stroke-width="0.85"/><text x="506.6" y="164.1" text-anchor="end">10</text><text x="519.8" y="159.1" text-anchor="end" font-size="9.2">2</text><path d="M507.6 156.8h5.6" stroke="#111" stroke-width="0.85"/></g><path d="M73.81 378.5v-4.0M73.81 225.9v4.0M89.72 378.5v-4.0M89.72 225.9v4.0M105.63 378.5v-4.0M105.63 225.9v4.0M121.54 378.5v-5.8M121.54 225.9v5.8M137.45 378.5v-4.0M137.45 225.9v4.0M153.36 378.5v-4.0M153.36 225.9v4.0M169.27 378.5v-4.0M169.27 225.9v4.0M185.18 378.5v-5.8M185.18 225.9v5.8M201.09 378.5v-4.0M201.09 225.9v4.0M57.9 369.58h3.8M217 369.58h-3.8M57.9 364.42h3.8M217 364.42h-3.8M57.9 360.76h3.8M217 360.76h-3.8M57.9 357.92h3.8M217 357.92h-3.8M57.9 355.6h3.8M217 355.6h-3.8M57.9 353.64h3.8M217 353.64h-3.8M57.9 351.94h3.8M217 351.94h-3.8M57.9 350.44h3.8M217 350.44h-3.8M57.9 349.1h5.8M217 349.1h-5.8M57.9 340.28h3.8M217 340.28h-3.8M57.9 335.12h3.8M217 335.12h-3.8M57.9 331.46h3.8M217 331.46h-3.8M57.9 328.62h3.8M217 328.62h-3.8M57.9 326.3h3.8M217 326.3h-3.8M57.9 324.34h3.8M217 324.34h-3.8M57.9 322.64h3.8M217 322.64h-3.8M57.9 321.14h3.8M217 321.14h-3.8M57.9 319.8h5.8M217 319.8h-5.8M57.9 310.98h3.8M217 310.98h-3.8M57.9 305.82h3.8M217 305.82h-3.8M57.9 302.16h3.8M217 302.16h-3.8M57.9 299.32h3.8M217 299.32h-3.8M57.9 297h3.8M217 297h-3.8M57.9 295.04h3.8M217 295.04h-3.8M57.9 293.34h3.8M217 293.34h-3.8M57.9 291.84h3.8M217 291.84h-3.8M57.9 290.5h5.8M217 290.5h-5.8M57.9 281.68h3.8M217 281.68h-3.8M57.9 276.52h3.8M217 276.52h-3.8M57.9 272.86h3.8M217 272.86h-3.8M57.9 270.02h3.8M217 270.02h-3.8M57.9 267.7h3.8M217 267.7h-3.8M57.9 265.74h3.8M217 265.74h-3.8M57.9 264.04h3.8M217 264.04h-3.8M57.9 262.54h3.8M217 262.54h-3.8M57.9 261.2h5.8M217 261.2h-5.8M57.9 252.38h3.8M217 252.38h-3.8M57.9 247.22h3.8M217 247.22h-3.8M57.9 243.56h3.8M217 243.56h-3.8M57.9 240.72h3.8M217 240.72h-3.8M57.9 238.4h3.8M217 238.4h-3.8M57.9 236.44h3.8M217 236.44h-3.8M57.9 234.74h3.8M217 234.74h-3.8M57.9 233.24h3.8M217 233.24h-3.8M57.9 231.9h5.8M217 231.9h-5.8" stroke="#000" stroke-width="1.1" fill="none"/><rect x="57.9" y="225.9" width="159.1" height="152.6" fill="none" stroke="#000" stroke-width="1.5"/><g font-family="Liberation Sans" font-size="12" fill="#111"><text x="121.54" y="392.8" text-anchor="middle">2000</text><text x="185.18" y="392.8" text-anchor="middle">4000</text><text x="47.3" y="236.5" text-anchor="end">10</text><text x="52.3" y="231.3" text-anchor="end" font-size="8.8">0</text><text x="38.7" y="265.8" text-anchor="end">10</text><text x="51.9" y="260.8" text-anchor="end" font-size="9.2">1</text><path d="M39.7 258.5h5.6" stroke="#111" stroke-width="0.85"/><text x="38.7" y="295.1" text-anchor="end">10</text><text x="51.9" y="290.1" text-anchor="end" font-size="9.2">2</text><path d="M39.7 287.8h5.6" stroke="#111" stroke-width="0.85"/><text x="38.7" y="324.4" text-anchor="end">10</text><text x="51.9" y="319.4" text-anchor="end" font-size="9.2">3</text><path d="M39.7 317.1h5.6" stroke="#111" stroke-width="0.85"/><text x="38.7" y="353.7" text-anchor="end">10</text><text x="51.9" y="348.7" text-anchor="end" font-size="9.2">4</text><path d="M39.7 346.4h5.6" stroke="#111" stroke-width="0.85"/><text x="38.7" y="383" text-anchor="end">10</text><text x="51.9" y="378" text-anchor="end" font-size="9.2">5</text><path d="M39.7 375.7h5.6" stroke="#111" stroke-width="0.85"/></g><path d="M315.66 378.5v-4.0M315.66 225.9v4.0M331.52 378.5v-4.0M331.52 225.9v4.0M347.38 378.5v-4.0M347.38 225.9v4.0M363.24 378.5v-5.8M363.24 225.9v5.8M379.1 378.5v-4.0M379.1 225.9v4.0M394.96 378.5v-4.0M394.96 225.9v4.0M410.82 378.5v-4.0M410.82 225.9v4.0M426.68 378.5v-5.8M426.68 225.9v5.8M442.54 378.5v-4.0M442.54 225.9v4.0M299.8 374.27h3.8M458.4 374.27h-3.8M299.8 370.24h3.8M458.4 370.24h-3.8M299.8 366.68h3.8M458.4 366.68h-3.8M299.8 363.5h5.8M458.4 363.5h-5.8M299.8 342.58h3.8M458.4 342.58h-3.8M299.8 330.34h3.8M458.4 330.34h-3.8M299.8 321.66h3.8M458.4 321.66h-3.8M299.8 314.92h3.8M458.4 314.92h-3.8M299.8 309.42h3.8M458.4 309.42h-3.8M299.8 304.77h3.8M458.4 304.77h-3.8M299.8 300.74h3.8M458.4 300.74h-3.8M299.8 297.18h3.8M458.4 297.18h-3.8M299.8 294h5.8M458.4 294h-5.8M299.8 273.08h3.8M458.4 273.08h-3.8M299.8 260.84h3.8M458.4 260.84h-3.8M299.8 252.16h3.8M458.4 252.16h-3.8M299.8 245.42h3.8M458.4 245.42h-3.8M299.8 239.92h3.8M458.4 239.92h-3.8M299.8 235.27h3.8M458.4 235.27h-3.8M299.8 231.24h3.8M458.4 231.24h-3.8M299.8 227.68h3.8M458.4 227.68h-3.8" stroke="#000" stroke-width="1.1" fill="none"/><rect x="299.8" y="225.9" width="158.6" height="152.6" fill="none" stroke="#000" stroke-width="1.5"/><g font-family="Liberation Sans" font-size="12" fill="#111"><text x="363.24" y="392.8" text-anchor="middle">2000</text><text x="426.68" y="392.8" text-anchor="middle">4000</text><text x="280.6" y="298.6" text-anchor="end">10</text><text x="293.8" y="293.6" text-anchor="end" font-size="9.2">1</text><path d="M281.6 291.3h5.6" stroke="#111" stroke-width="0.85"/><text x="280.6" y="368.1" text-anchor="end">10</text><text x="293.8" y="363.1" text-anchor="end" font-size="9.2">2</text><path d="M281.6 360.8h5.6" stroke="#111" stroke-width="0.85"/></g><path d="M541.6 378.5v-4.0M541.6 225.9v4.0M557.4 378.5v-4.0M557.4 225.9v4.0M573.2 378.5v-4.0M573.2 225.9v4.0M589 378.5v-5.8M589 225.9v5.8M604.8 378.5v-4.0M604.8 225.9v4.0M620.6 378.5v-4.0M620.6 225.9v4.0M636.4 378.5v-4.0M636.4 225.9v4.0M652.2 378.5v-5.8M652.2 225.9v5.8M668 378.5v-4.0M668 225.9v4.0M525.8 376.89h3.8M683.8 376.89h-3.8M525.8 369.58h3.8M683.8 369.58h-3.8M525.8 363.91h3.8M683.8 363.91h-3.8M525.8 359.28h3.8M683.8 359.28h-3.8M525.8 355.36h3.8M683.8 355.36h-3.8M525.8 351.97h3.8M683.8 351.97h-3.8M525.8 348.98h3.8M683.8 348.98h-3.8M525.8 346.3h5.8M683.8 346.3h-5.8M525.8 328.69h3.8M683.8 328.69h-3.8M525.8 318.39h3.8M683.8 318.39h-3.8M525.8 311.08h3.8M683.8 311.08h-3.8M525.8 305.41h3.8M683.8 305.41h-3.8M525.8 300.78h3.8M683.8 300.78h-3.8M525.8 296.86h3.8M683.8 296.86h-3.8M525.8 293.47h3.8M683.8 293.47h-3.8M525.8 290.48h3.8M683.8 290.48h-3.8M525.8 287.8h5.8M683.8 287.8h-5.8M525.8 270.19h3.8M683.8 270.19h-3.8M525.8 259.89h3.8M683.8 259.89h-3.8M525.8 252.58h3.8M683.8 252.58h-3.8M525.8 246.91h3.8M683.8 246.91h-3.8M525.8 242.28h3.8M683.8 242.28h-3.8M525.8 238.36h3.8M683.8 238.36h-3.8M525.8 234.97h3.8M683.8 234.97h-3.8M525.8 231.98h3.8M683.8 231.98h-3.8M525.8 229.3h5.8M683.8 229.3h-5.8" stroke="#000" stroke-width="1.1" fill="none"/><rect x="525.8" y="225.9" width="158" height="152.6" fill="none" stroke="#000" stroke-width="1.5"/><g font-family="Liberation Sans" font-size="12" fill="#111"><text x="589" y="392.8" text-anchor="middle">2000</text><text x="652.2" y="392.8" text-anchor="middle">4000</text><text x="515.2" y="233.9" text-anchor="end">10</text><text x="520.2" y="228.7" text-anchor="end" font-size="8.8">0</text><text x="506.6" y="292.4" text-anchor="end">10</text><text x="519.8" y="287.4" text-anchor="end" font-size="9.2">1</text><path d="M507.6 285.1h5.6" stroke="#111" stroke-width="0.85"/><text x="506.6" y="350.9" text-anchor="end">10</text><text x="519.8" y="345.9" text-anchor="end" font-size="9.2">2</text><path d="M507.6 343.6h5.6" stroke="#111" stroke-width="0.85"/></g><defs>
<filter id="b07" x="-50%" y="-50%" width="200%" height="200%"><feGaussianBlur stdDeviation="0.7"/></filter>
<filter id="b1" x="-50%" y="-50%" width="200%" height="200%"><feGaussianBlur stdDeviation="1.0"/></filter>
<filter id="b12" x="-50%" y="-50%" width="200%" height="200%"><feGaussianBlur stdDeviation="1.2"/></filter>
<filter id="b15" x="-50%" y="-50%" width="200%" height="200%"><feGaussianBlur stdDeviation="1.5"/></filter>
<filter id="b2" x="-50%" y="-50%" width="200%" height="200%"><feGaussianBlur stdDeviation="2.0"/></filter>
<filter id="b3" x="-50%" y="-50%" width="200%" height="200%"><feGaussianBlur stdDeviation="3.0"/></filter>
</defs><rect x="99" y="50.5" width="53" height="56" fill="#fff"/><polygon points="102.3,70 120.5,57.8 120.5,80 103.3,94" fill="#f3f3f3"/><polygon points="120.5,57.8 149.3,65.8 149.3,87.5 120.5,80" fill="#ebebeb"/><path d="M120.5 57.8V80" stroke="#e2e2e2" stroke-width="0.5"/><polygon points="103.3,94 128.3,102.6 149.3,87.5 121,79.5" fill="#050505" stroke="#000" stroke-width="0.8" stroke-linejoin="round"/><polygon points="119.41,82.73 122.87,83.74 122.87,82.84 119.41,81.83" fill="#b8c840" stroke="#000" stroke-width="0.55" stroke-linejoin="round"/><polygon points="122.87,83.74 125.16,81.91 125.16,81.01 122.87,82.84" fill="#7a8428" stroke="#000" stroke-width="0.55" stroke-linejoin="round"/><polygon points="119.41,81.83 122.87,82.84 125.16,81.01 121.65,80.01" fill="#cbdc55" stroke="#000" stroke-width="0.55" stroke-linejoin="round"/><polygon points="114.93,86.36 118.29,87.39 118.29,86.49 114.93,85.46" fill="#b8c840" stroke="#000" stroke-width="0.55" stroke-linejoin="round"/><polygon points="118.29,87.39 120.58,85.57 120.58,84.67 118.29,86.49" fill="#7a8428" stroke="#000" stroke-width="0.55" stroke-linejoin="round"/><polygon points="114.93,85.46 118.29,86.49 120.58,84.67 117.17,83.64" fill="#cbdc55" stroke="#000" stroke-width="0.55" stroke-linejoin="round"/><polygon points="126.33,84.75 129.79,85.77 129.79,84.87 126.33,83.85" fill="#b8c840" stroke="#000" stroke-width="0.55" stroke-linejoin="round"/><polygon points="129.79,85.77 132.18,83.92 132.18,83.02 129.79,84.87" fill="#7a8428" stroke="#000" stroke-width="0.55" stroke-linejoin="round"/><polygon points="126.33,83.85 129.79,84.87 132.18,83.02 128.67,82.02" fill="#cbdc55" stroke="#000" stroke-width="0.55" stroke-linejoin="round"/><polygon points="110.46,89.99 113.71,91.05 113.71,90.15 110.46,89.09" fill="#b8c840" stroke="#000" stroke-width="0.55" stroke-linejoin="round"/><polygon points="113.71,91.05 116,89.22 116,88.32 113.71,90.15" fill="#7a8428" stroke="#000" stroke-width="0.55" stroke-linejoin="round"/><polygon points="110.46,89.09 113.71,90.15 116,88.32 112.7,87.28" fill="#cbdc55" stroke="#000" stroke-width="0.55" stroke-linejoin="round"/><polygon points="120.85,88.54 125.14,89.86 125.14,79.36 120.85,78.04" fill="#d8e460" stroke="#000" stroke-width="0.55" stroke-linejoin="round"/><polygon points="125.14,89.86 128.21,87.5 128.21,77 125.14,79.36" fill="#8a9432" stroke="#000" stroke-width="0.55" stroke-linejoin="round"/><polygon points="120.85,78.04 125.14,79.36 128.21,77 123.84,75.69" fill="#eef39a" stroke="#000" stroke-width="0.55" stroke-linejoin="round"/><polygon points="133.25,86.78 136.71,87.8 136.71,86.9 133.25,85.88" fill="#b8c840" stroke="#000" stroke-width="0.55" stroke-linejoin="round"/><polygon points="136.71,87.8 139.21,85.93 139.21,85.03 136.71,86.9" fill="#7a8428" stroke="#000" stroke-width="0.55" stroke-linejoin="round"/><polygon points="133.25,85.88 136.71,86.9 139.21,85.03 135.7,84.03" fill="#cbdc55" stroke="#000" stroke-width="0.55" stroke-linejoin="round"/><polygon points="105.98,93.63 109.13,94.7 109.13,93.8 105.98,92.73" fill="#b8c840" stroke="#000" stroke-width="0.55" stroke-linejoin="round"/><polygon points="109.13,94.7 111.42,92.87 111.42,91.97 109.13,93.8" fill="#7a8428" stroke="#000" stroke-width="0.55" stroke-linejoin="round"/><polygon points="105.98,92.73 109.13,93.8 111.42,91.97 108.22,90.91" fill="#cbdc55" stroke="#000" stroke-width="0.55" stroke-linejoin="round"/><polygon points="116.18,92.21 120.34,93.55 120.34,70.55 116.18,69.21" fill="#f07000" stroke="#000" stroke-width="0.55" stroke-linejoin="round"/><polygon points="120.34,93.55 123.41,91.19 123.41,68.19 120.34,70.55" fill="#8a3c00" stroke="#000" stroke-width="0.55" stroke-linejoin="round"/><polygon points="116.18,69.21 120.34,70.55 123.41,68.19 119.17,66.86" fill="#ff9535" stroke="#000" stroke-width="0.55" stroke-linejoin="round"/><polygon points="127.55,90.61 131.84,91.93 131.84,84.93 127.55,83.61" fill="#e8c030" stroke="#000" stroke-width="0.55" stroke-linejoin="round"/><polygon points="131.84,91.93 135.04,89.54 135.04,82.54 131.84,84.93" fill="#9a7a10" stroke="#000" stroke-width="0.55" stroke-linejoin="round"/><polygon points="127.55,83.61 131.84,84.93 135.04,82.54 130.67,81.23" fill="#f4d868" stroke="#000" stroke-width="0.55" stroke-linejoin="round"/><polygon points="140.17,88.81 143.63,89.82 143.63,88.92 140.17,87.91" fill="#b8c840" stroke="#000" stroke-width="0.55" stroke-linejoin="round"/><polygon points="143.63,89.82 146.23,87.94 146.23,87.04 143.63,88.92" fill="#7a8428" stroke="#000" stroke-width="0.55" stroke-linejoin="round"/><polygon points="140.17,87.91 143.63,88.92 146.23,87.04 142.72,86.04" fill="#cbdc55" stroke="#000" stroke-width="0.55" stroke-linejoin="round"/><polygon points="112.28,95.77 115.43,96.84 115.43,95.94 112.28,94.87" fill="#b8c840" stroke="#000" stroke-width="0.55" stroke-linejoin="round"/><polygon points="115.43,96.84 117.83,94.99 117.83,94.09 115.43,95.94" fill="#7a8428" stroke="#000" stroke-width="0.55" stroke-linejoin="round"/><polygon points="112.28,94.87 115.43,95.94 117.83,94.09 114.62,93.03" fill="#cbdc55" stroke="#000" stroke-width="0.55" stroke-linejoin="round"/><polygon points="122.68,94.31 126.83,95.66 126.83,84.66 122.68,83.31" fill="#d8e460" stroke="#000" stroke-width="0.55" stroke-linejoin="round"/><polygon points="126.83,95.66 130.04,93.27 130.04,82.27 126.83,84.66" fill="#8a9432" stroke="#000" stroke-width="0.55" stroke-linejoin="round"/><polygon points="122.68,83.31 126.83,84.66 130.04,82.27 125.8,80.94" fill="#eef39a" stroke="#000" stroke-width="0.55" stroke-linejoin="round"/><polygon points="135.08,92.56 138.43,93.59 138.43,92.69 135.08,91.66" fill="#b8c840" stroke="#000" stroke-width="0.55" stroke-linejoin="round"/><polygon points="138.43,93.59 141.03,91.71 141.03,90.81 138.43,92.69" fill="#7a8428" stroke="#000" stroke-width="0.55" stroke-linejoin="round"/><polygon points="135.08,91.66 138.43,92.69 141.03,90.81 137.62,89.78" fill="#cbdc55" stroke="#000" stroke-width="0.55" stroke-linejoin="round"/><polygon points="118.58,97.91 121.74,98.98 121.74,98.08 118.58,97.01" fill="#b8c840" stroke="#000" stroke-width="0.55" stroke-linejoin="round"/><polygon points="121.74,98.98 124.23,97.12 124.23,96.22 121.74,98.08" fill="#7a8428" stroke="#000" stroke-width="0.55" stroke-linejoin="round"/><polygon points="118.58,97.01 121.74,98.08 124.23,96.22 121.03,95.16" fill="#cbdc55" stroke="#000" stroke-width="0.55" stroke-linejoin="round"/><polygon points="129.98,96.3 133.24,97.36 133.24,96.46 129.98,95.4" fill="#b8c840" stroke="#000" stroke-width="0.55" stroke-linejoin="round"/><polygon points="133.24,97.36 135.83,95.47 135.83,94.57 133.24,96.46" fill="#7a8428" stroke="#000" stroke-width="0.55" stroke-linejoin="round"/><polygon points="129.98,95.4 133.24,96.46 135.83,94.57 132.53,93.53" fill="#cbdc55" stroke="#000" stroke-width="0.55" stroke-linejoin="round"/><polygon points="124.89,100.05 128.04,101.12 128.04,100.22 124.89,99.15" fill="#b8c840" stroke="#000" stroke-width="0.55" stroke-linejoin="round"/><polygon points="128.04,101.12 130.64,99.24 130.64,98.34 128.04,100.22" fill="#7a8428" stroke="#000" stroke-width="0.55" stroke-linejoin="round"/><polygon points="124.89,99.15 128.04,100.22 130.64,98.34 127.43,97.28" fill="#cbdc55" stroke="#000" stroke-width="0.55" stroke-linejoin="round"/><path d="M126.6 100.6L138.4 90.6" stroke="#d8d8d8" stroke-width="0.7"/><path d="M149.3 65.8V87.8" stroke="#000" stroke-width="1.3"/><rect x="154.8" y="50.5" width="53" height="56" fill="#fff"/><polygon points="158.1,70 176.3,57.8 176.3,80 159.1,94" fill="#f3f3f3"/><polygon points="176.3,57.8 205.1,65.8 205.1,87.5 176.3,80" fill="#ebebeb"/><path d="M176.3 57.8V80" stroke="#e2e2e2" stroke-width="0.5"/><polygon points="159.1,94 184.1,102.6 205.1,87.5 176.8,79.5" fill="#050505" stroke="#000" stroke-width="0.8" stroke-linejoin="round"/><polygon points="175.21,82.73 178.67,83.74 178.67,82.84 175.21,81.83" fill="#b8c840" stroke="#000" stroke-width="0.55" stroke-linejoin="round"/><polygon points="178.67,83.74 180.96,81.91 180.96,81.01 178.67,82.84" fill="#7a8428" stroke="#000" stroke-width="0.55" stroke-linejoin="round"/><polygon points="175.21,81.83 178.67,82.84 180.96,81.01 177.45,80.01" fill="#cbdc55" stroke="#000" stroke-width="0.55" stroke-linejoin="round"/><polygon points="170.73,86.36 174.09,87.39 174.09,86.49 170.73,85.46" fill="#b8c840" stroke="#000" stroke-width="0.55" stroke-linejoin="round"/><polygon points="174.09,87.39 176.38,85.57 176.38,84.67 174.09,86.49" fill="#7a8428" stroke="#000" stroke-width="0.55" stroke-linejoin="round"/><polygon points="170.73,85.46 174.09,86.49 176.38,84.67 172.97,83.64" fill="#cbdc55" stroke="#000" stroke-width="0.55" stroke-linejoin="round"/><polygon points="182.13,84.75 185.59,85.77 185.59,84.87 182.13,83.85" fill="#b8c840" stroke="#000" stroke-width="0.55" stroke-linejoin="round"/><polygon points="185.59,85.77 187.98,83.92 187.98,83.02 185.59,84.87" fill="#7a8428" stroke="#000" stroke-width="0.55" stroke-linejoin="round"/><polygon points="182.13,83.85 185.59,84.87 187.98,83.02 184.47,82.02" fill="#cbdc55" stroke="#000" stroke-width="0.55" stroke-linejoin="round"/><polygon points="166.26,89.99 169.51,91.05 169.51,90.15 166.26,89.09" fill="#b8c840" stroke="#000" stroke-width="0.55" stroke-linejoin="round"/><polygon points="169.51,91.05 171.8,89.22 171.8,88.32 169.51,90.15" fill="#7a8428" stroke="#000" stroke-width="0.55" stroke-linejoin="round"/><polygon points="166.26,89.09 169.51,90.15 171.8,88.32 168.5,87.28" fill="#cbdc55" stroke="#000" stroke-width="0.55" stroke-linejoin="round"/><polygon points="176.65,88.54 180.94,89.86 180.94,68.36 176.65,67.04" fill="#d8e460" stroke="#000" stroke-width="0.55" stroke-linejoin="round"/><polygon points="180.94,89.86 184.01,87.5 184.01,66 180.94,68.36" fill="#8a9432" stroke="#000" stroke-width="0.55" stroke-linejoin="round"/><polygon points="176.65,67.04 180.94,68.36 184.01,66 179.64,64.69" fill="#eef39a" stroke="#000" stroke-width="0.55" stroke-linejoin="round"/><polygon points="189.05,86.78 192.51,87.8 192.51,86.9 189.05,85.88" fill="#b8c840" stroke="#000" stroke-width="0.55" stroke-linejoin="round"/><polygon points="192.51,87.8 195.01,85.93 195.01,85.03 192.51,86.9" fill="#7a8428" stroke="#000" stroke-width="0.55" stroke-linejoin="round"/><polygon points="189.05,85.88 192.51,86.9 195.01,85.03 191.5,84.03" fill="#cbdc55" stroke="#000" stroke-width="0.55" stroke-linejoin="round"/><polygon points="161.78,93.63 164.93,94.7 164.93,93.8 161.78,92.73" fill="#b8c840" stroke="#000" stroke-width="0.55" stroke-linejoin="round"/><polygon points="164.93,94.7 167.22,92.87 167.22,91.97 164.93,93.8" fill="#7a8428" stroke="#000" stroke-width="0.55" stroke-linejoin="round"/><polygon points="161.78,92.73 164.93,93.8 167.22,91.97 164.02,90.91" fill="#cbdc55" stroke="#000" stroke-width="0.55" stroke-linejoin="round"/><polygon points="171.98,92.21 176.14,93.55 176.14,72.05 171.98,70.71" fill="#f07000" stroke="#000" stroke-width="0.55" stroke-linejoin="round"/><polygon points="176.14,93.55 179.21,91.19 179.21,69.69 176.14,72.05" fill="#8a3c00" stroke="#000" stroke-width="0.55" stroke-linejoin="round"/><polygon points="171.98,70.71 176.14,72.05 179.21,69.69 174.97,68.36" fill="#ff9535" stroke="#000" stroke-width="0.55" stroke-linejoin="round"/><polygon points="183.35,90.61 187.64,91.93 187.64,70.43 183.35,69.11" fill="#f07000" stroke="#000" stroke-width="0.55" stroke-linejoin="round"/><polygon points="187.64,91.93 190.84,89.54 190.84,68.04 187.64,70.43" fill="#8a3c00" stroke="#000" stroke-width="0.55" stroke-linejoin="round"/><polygon points="183.35,69.11 187.64,70.43 190.84,68.04 186.47,66.73" fill="#ff9535" stroke="#000" stroke-width="0.55" stroke-linejoin="round"/><polygon points="195.97,88.81 199.43,89.82 199.43,88.92 195.97,87.91" fill="#b8c840" stroke="#000" stroke-width="0.55" stroke-linejoin="round"/><polygon points="199.43,89.82 202.03,87.94 202.03,87.04 199.43,88.92" fill="#7a8428" stroke="#000" stroke-width="0.55" stroke-linejoin="round"/><polygon points="195.97,87.91 199.43,88.92 202.03,87.04 198.52,86.04" fill="#cbdc55" stroke="#000" stroke-width="0.55" stroke-linejoin="round"/><polygon points="168.08,95.77 171.23,96.84 171.23,95.94 168.08,94.87" fill="#b8c840" stroke="#000" stroke-width="0.55" stroke-linejoin="round"/><polygon points="171.23,96.84 173.63,94.99 173.63,94.09 171.23,95.94" fill="#7a8428" stroke="#000" stroke-width="0.55" stroke-linejoin="round"/><polygon points="168.08,94.87 171.23,95.94 173.63,94.09 170.42,93.03" fill="#cbdc55" stroke="#000" stroke-width="0.55" stroke-linejoin="round"/><polygon points="178.48,94.31 182.63,95.66 182.63,74.16 178.48,72.81" fill="#d8e460" stroke="#000" stroke-width="0.55" stroke-linejoin="round"/><polygon points="182.63,95.66 185.84,93.27 185.84,71.77 182.63,74.16" fill="#8a9432" stroke="#000" stroke-width="0.55" stroke-linejoin="round"/><polygon points="178.48,72.81 182.63,74.16 185.84,71.77 181.6,70.44" fill="#eef39a" stroke="#000" stroke-width="0.55" stroke-linejoin="round"/><polygon points="190.88,92.56 194.23,93.59 194.23,92.69 190.88,91.66" fill="#b8c840" stroke="#000" stroke-width="0.55" stroke-linejoin="round"/><polygon points="194.23,93.59 196.83,91.71 196.83,90.81 194.23,92.69" fill="#7a8428" stroke="#000" stroke-width="0.55" stroke-linejoin="round"/><polygon points="190.88,91.66 194.23,92.69 196.83,90.81 193.42,89.78" fill="#cbdc55" stroke="#000" stroke-width="0.55" stroke-linejoin="round"/><polygon points="174.38,97.91 177.54,98.98 177.54,98.08 174.38,97.01" fill="#b8c840" stroke="#000" stroke-width="0.55" stroke-linejoin="round"/><polygon points="177.54,98.98 180.03,97.12 180.03,96.22 177.54,98.08" fill="#7a8428" stroke="#000" stroke-width="0.55" stroke-linejoin="round"/><polygon points="174.38,97.01 177.54,98.08 180.03,96.22 176.83,95.16" fill="#cbdc55" stroke="#000" stroke-width="0.55" stroke-linejoin="round"/><polygon points="185.78,96.3 189.04,97.36 189.04,96.46 185.78,95.4" fill="#b8c840" stroke="#000" stroke-width="0.55" stroke-linejoin="round"/><polygon points="189.04,97.36 191.63,95.47 191.63,94.57 189.04,96.46" fill="#7a8428" stroke="#000" stroke-width="0.55" stroke-linejoin="round"/><polygon points="185.78,95.4 189.04,96.46 191.63,94.57 188.33,93.53" fill="#cbdc55" stroke="#000" stroke-width="0.55" stroke-linejoin="round"/><polygon points="180.69,100.05 183.84,101.12 183.84,100.22 180.69,99.15" fill="#b8c840" stroke="#000" stroke-width="0.55" stroke-linejoin="round"/><polygon points="183.84,101.12 186.44,99.24 186.44,98.34 183.84,100.22" fill="#7a8428" stroke="#000" stroke-width="0.55" stroke-linejoin="round"/><polygon points="180.69,99.15 183.84,100.22 186.44,98.34 183.23,97.28" fill="#cbdc55" stroke="#000" stroke-width="0.55" stroke-linejoin="round"/><path d="M182.4 100.6L194.2 90.6" stroke="#d8d8d8" stroke-width="0.7"/><path d="M205.1 65.8V87.8" stroke="#000" stroke-width="1.3"/><rect x="99" y="229.9" width="53" height="56" fill="#fff"/><polygon points="102.3,249.4 120.5,237.2 120.5,259.4 103.3,273.4" fill="#f3f3f3"/><polygon points="120.5,237.2 149.3,245.2 149.3,266.9 120.5,259.4" fill="#ebebeb"/><path d="M120.5 237.2V259.4" stroke="#e2e2e2" stroke-width="0.5"/><polygon points="103.3,273.4 128.3,282 149.3,266.9 121,258.9" fill="#050505" stroke="#000" stroke-width="0.8" stroke-linejoin="round"/><polygon points="119.41,262.13 122.87,263.14 122.87,262.24 119.41,261.23" fill="#b8c840" stroke="#000" stroke-width="0.55" stroke-linejoin="round"/><polygon points="122.87,263.14 125.16,261.31 125.16,260.41 122.87,262.24" fill="#7a8428" stroke="#000" stroke-width="0.55" stroke-linejoin="round"/><polygon points="119.41,261.23 122.87,262.24 125.16,260.41 121.65,259.41" fill="#cbdc55" stroke="#000" stroke-width="0.55" stroke-linejoin="round"/><polygon points="114.93,265.76 118.29,266.79 118.29,265.89 114.93,264.86" fill="#b8c840" stroke="#000" stroke-width="0.55" stroke-linejoin="round"/><polygon points="118.29,266.79 120.58,264.97 120.58,264.07 118.29,265.89" fill="#7a8428" stroke="#000" stroke-width="0.55" stroke-linejoin="round"/><polygon points="114.93,264.86 118.29,265.89 120.58,264.07 117.17,263.04" fill="#cbdc55" stroke="#000" stroke-width="0.55" stroke-linejoin="round"/><polygon points="126.33,264.15 129.79,265.17 129.79,264.27 126.33,263.25" fill="#b8c840" stroke="#000" stroke-width="0.55" stroke-linejoin="round"/><polygon points="129.79,265.17 132.18,263.32 132.18,262.42 129.79,264.27" fill="#7a8428" stroke="#000" stroke-width="0.55" stroke-linejoin="round"/><polygon points="126.33,263.25 129.79,264.27 132.18,262.42 128.67,261.42" fill="#cbdc55" stroke="#000" stroke-width="0.55" stroke-linejoin="round"/><polygon points="110.46,269.39 113.71,270.45 113.71,269.55 110.46,268.49" fill="#b8c840" stroke="#000" stroke-width="0.55" stroke-linejoin="round"/><polygon points="113.71,270.45 116,268.62 116,267.72 113.71,269.55" fill="#7a8428" stroke="#000" stroke-width="0.55" stroke-linejoin="round"/><polygon points="110.46,268.49 113.71,269.55 116,267.72 112.7,266.68" fill="#cbdc55" stroke="#000" stroke-width="0.55" stroke-linejoin="round"/><polygon points="120.85,267.94 125.14,269.26 125.14,258.76 120.85,257.44" fill="#d8e460" stroke="#000" stroke-width="0.55" stroke-linejoin="round"/><polygon points="125.14,269.26 128.21,266.9 128.21,256.4 125.14,258.76" fill="#8a9432" stroke="#000" stroke-width="0.55" stroke-linejoin="round"/><polygon points="120.85,257.44 125.14,258.76 128.21,256.4 123.84,255.09" fill="#eef39a" stroke="#000" stroke-width="0.55" stroke-linejoin="round"/><polygon points="133.25,266.18 136.71,267.2 136.71,266.3 133.25,265.28" fill="#b8c840" stroke="#000" stroke-width="0.55" stroke-linejoin="round"/><polygon points="136.71,267.2 139.21,265.33 139.21,264.43 136.71,266.3" fill="#7a8428" stroke="#000" stroke-width="0.55" stroke-linejoin="round"/><polygon points="133.25,265.28 136.71,266.3 139.21,264.43 135.7,263.43" fill="#cbdc55" stroke="#000" stroke-width="0.55" stroke-linejoin="round"/><polygon points="105.98,273.03 109.13,274.1 109.13,273.2 105.98,272.13" fill="#b8c840" stroke="#000" stroke-width="0.55" stroke-linejoin="round"/><polygon points="109.13,274.1 111.42,272.27 111.42,271.37 109.13,273.2" fill="#7a8428" stroke="#000" stroke-width="0.55" stroke-linejoin="round"/><polygon points="105.98,272.13 109.13,273.2 111.42,271.37 108.22,270.31" fill="#cbdc55" stroke="#000" stroke-width="0.55" stroke-linejoin="round"/><polygon points="116.18,271.61 120.34,272.95 120.34,249.95 116.18,248.61" fill="#f07000" stroke="#000" stroke-width="0.55" stroke-linejoin="round"/><polygon points="120.34,272.95 123.41,270.59 123.41,247.59 120.34,249.95" fill="#8a3c00" stroke="#000" stroke-width="0.55" stroke-linejoin="round"/><polygon points="116.18,248.61 120.34,249.95 123.41,247.59 119.17,246.26" fill="#ff9535" stroke="#000" stroke-width="0.55" stroke-linejoin="round"/><polygon points="127.55,270.01 131.84,271.33 131.84,264.33 127.55,263.01" fill="#e8c030" stroke="#000" stroke-width="0.55" stroke-linejoin="round"/><polygon points="131.84,271.33 135.04,268.94 135.04,261.94 131.84,264.33" fill="#9a7a10" stroke="#000" stroke-width="0.55" stroke-linejoin="round"/><polygon points="127.55,263.01 131.84,264.33 135.04,261.94 130.67,260.63" fill="#f4d868" stroke="#000" stroke-width="0.55" stroke-linejoin="round"/><polygon points="140.17,268.21 143.63,269.22 143.63,268.32 140.17,267.31" fill="#b8c840" stroke="#000" stroke-width="0.55" stroke-linejoin="round"/><polygon points="143.63,269.22 146.23,267.34 146.23,266.44 143.63,268.32" fill="#7a8428" stroke="#000" stroke-width="0.55" stroke-linejoin="round"/><polygon points="140.17,267.31 143.63,268.32 146.23,266.44 142.72,265.44" fill="#cbdc55" stroke="#000" stroke-width="0.55" stroke-linejoin="round"/><polygon points="112.28,275.17 115.43,276.24 115.43,275.34 112.28,274.27" fill="#b8c840" stroke="#000" stroke-width="0.55" stroke-linejoin="round"/><polygon points="115.43,276.24 117.83,274.39 117.83,273.49 115.43,275.34" fill="#7a8428" stroke="#000" stroke-width="0.55" stroke-linejoin="round"/><polygon points="112.28,274.27 115.43,275.34 117.83,273.49 114.62,272.43" fill="#cbdc55" stroke="#000" stroke-width="0.55" stroke-linejoin="round"/><polygon points="122.68,273.71 126.83,275.06 126.83,264.06 122.68,262.71" fill="#d8e460" stroke="#000" stroke-width="0.55" stroke-linejoin="round"/><polygon points="126.83,275.06 130.04,272.67 130.04,261.67 126.83,264.06" fill="#8a9432" stroke="#000" stroke-width="0.55" stroke-linejoin="round"/><polygon points="122.68,262.71 126.83,264.06 130.04,261.67 125.8,260.34" fill="#eef39a" stroke="#000" stroke-width="0.55" stroke-linejoin="round"/><polygon points="135.08,271.96 138.43,272.99 138.43,272.09 135.08,271.06" fill="#b8c840" stroke="#000" stroke-width="0.55" stroke-linejoin="round"/><polygon points="138.43,272.99 141.03,271.11 141.03,270.21 138.43,272.09" fill="#7a8428" stroke="#000" stroke-width="0.55" stroke-linejoin="round"/><polygon points="135.08,271.06 138.43,272.09 141.03,270.21 137.62,269.18" fill="#cbdc55" stroke="#000" stroke-width="0.55" stroke-linejoin="round"/><polygon points="118.58,277.31 121.74,278.38 121.74,277.48 118.58,276.41" fill="#b8c840" stroke="#000" stroke-width="0.55" stroke-linejoin="round"/><polygon points="121.74,278.38 124.23,276.52 124.23,275.62 121.74,277.48" fill="#7a8428" stroke="#000" stroke-width="0.55" stroke-linejoin="round"/><polygon points="118.58,276.41 121.74,277.48 124.23,275.62 121.03,274.56" fill="#cbdc55" stroke="#000" stroke-width="0.55" stroke-linejoin="round"/><polygon points="129.98,275.7 133.24,276.76 133.24,275.86 129.98,274.8" fill="#b8c840" stroke="#000" stroke-width="0.55" stroke-linejoin="round"/><polygon points="133.24,276.76 135.83,274.87 135.83,273.97 133.24,275.86" fill="#7a8428" stroke="#000" stroke-width="0.55" stroke-linejoin="round"/><polygon points="129.98,274.8 133.24,275.86 135.83,273.97 132.53,272.93" fill="#cbdc55" stroke="#000" stroke-width="0.55" stroke-linejoin="round"/><polygon points="124.89,279.45 128.04,280.52 128.04,279.62 124.89,278.55" fill="#b8c840" stroke="#000" stroke-width="0.55" stroke-linejoin="round"/><polygon points="128.04,280.52 130.64,278.64 130.64,277.74 128.04,279.62" fill="#7a8428" stroke="#000" stroke-width="0.55" stroke-linejoin="round"/><polygon points="124.89,278.55 128.04,279.62 130.64,277.74 127.43,276.68" fill="#cbdc55" stroke="#000" stroke-width="0.55" stroke-linejoin="round"/><path d="M126.6 280L138.4 270" stroke="#d8d8d8" stroke-width="0.7"/><path d="M149.3 245.2V267.2" stroke="#000" stroke-width="1.3"/><rect x="154.8" y="229.9" width="53" height="56" fill="#fff"/><polygon points="158.1,249.4 176.3,237.2 176.3,259.4 159.1,273.4" fill="#f3f3f3"/><polygon points="176.3,237.2 205.1,245.2 205.1,266.9 176.3,259.4" fill="#ebebeb"/><path d="M176.3 237.2V259.4" stroke="#e2e2e2" stroke-width="0.5"/><polygon points="159.1,273.4 184.1,282 205.1,266.9 176.8,258.9" fill="#050505" stroke="#000" stroke-width="0.8" stroke-linejoin="round"/><polygon points="175.21,262.13 178.67,263.14 178.67,262.24 175.21,261.23" fill="#b8c840" stroke="#000" stroke-width="0.55" stroke-linejoin="round"/><polygon points="178.67,263.14 180.96,261.31 180.96,260.41 178.67,262.24" fill="#7a8428" stroke="#000" stroke-width="0.55" stroke-linejoin="round"/><polygon points="175.21,261.23 178.67,262.24 180.96,260.41 177.45,259.41" fill="#cbdc55" stroke="#000" stroke-width="0.55" stroke-linejoin="round"/><polygon points="170.73,265.76 174.09,266.79 174.09,265.89 170.73,264.86" fill="#b8c840" stroke="#000" stroke-width="0.55" stroke-linejoin="round"/><polygon points="174.09,266.79 176.38,264.97 176.38,264.07 174.09,265.89" fill="#7a8428" stroke="#000" stroke-width="0.55" stroke-linejoin="round"/><polygon points="170.73,264.86 174.09,265.89 176.38,264.07 172.97,263.04" fill="#cbdc55" stroke="#000" stroke-width="0.55" stroke-linejoin="round"/><polygon points="182.13,264.15 185.59,265.17 185.59,264.27 182.13,263.25" fill="#b8c840" stroke="#000" stroke-width="0.55" stroke-linejoin="round"/><polygon points="185.59,265.17 187.98,263.32 187.98,262.42 185.59,264.27" fill="#7a8428" stroke="#000" stroke-width="0.55" stroke-linejoin="round"/><polygon points="182.13,263.25 185.59,264.27 187.98,262.42 184.47,261.42" fill="#cbdc55" stroke="#000" stroke-width="0.55" stroke-linejoin="round"/><polygon points="166.26,269.39 169.51,270.45 169.51,269.55 166.26,268.49" fill="#b8c840" stroke="#000" stroke-width="0.55" stroke-linejoin="round"/><polygon points="169.51,270.45 171.8,268.62 171.8,267.72 169.51,269.55" fill="#7a8428" stroke="#000" stroke-width="0.55" stroke-linejoin="round"/><polygon points="166.26,268.49 169.51,269.55 171.8,267.72 168.5,266.68" fill="#cbdc55" stroke="#000" stroke-width="0.55" stroke-linejoin="round"/><polygon points="176.65,267.94 180.94,269.26 180.94,247.76 176.65,246.44" fill="#d8e460" stroke="#000" stroke-width="0.55" stroke-linejoin="round"/><polygon points="180.94,269.26 184.01,266.9 184.01,245.4 180.94,247.76" fill="#8a9432" stroke="#000" stroke-width="0.55" stroke-linejoin="round"/><polygon points="176.65,246.44 180.94,247.76 184.01,245.4 179.64,244.09" fill="#eef39a" stroke="#000" stroke-width="0.55" stroke-linejoin="round"/><polygon points="189.05,266.18 192.51,267.2 192.51,266.3 189.05,265.28" fill="#b8c840" stroke="#000" stroke-width="0.55" stroke-linejoin="round"/><polygon points="192.51,267.2 195.01,265.33 195.01,264.43 192.51,266.3" fill="#7a8428" stroke="#000" stroke-width="0.55" stroke-linejoin="round"/><polygon points="189.05,265.28 192.51,266.3 195.01,264.43 191.5,263.43" fill="#cbdc55" stroke="#000" stroke-width="0.55" stroke-linejoin="round"/><polygon points="161.78,273.03 164.93,274.1 164.93,273.2 161.78,272.13" fill="#b8c840" stroke="#000" stroke-width="0.55" stroke-linejoin="round"/><polygon points="164.93,274.1 167.22,272.27 167.22,271.37 164.93,273.2" fill="#7a8428" stroke="#000" stroke-width="0.55" stroke-linejoin="round"/><polygon points="161.78,272.13 164.93,273.2 167.22,271.37 164.02,270.31" fill="#cbdc55" stroke="#000" stroke-width="0.55" stroke-linejoin="round"/><polygon points="171.98,271.61 176.14,272.95 176.14,251.45 171.98,250.11" fill="#f07000" stroke="#000" stroke-width="0.55" stroke-linejoin="round"/><polygon points="176.14,272.95 179.21,270.59 179.21,249.09 176.14,251.45" fill="#8a3c00" stroke="#000" stroke-width="0.55" stroke-linejoin="round"/><polygon points="171.98,250.11 176.14,251.45 179.21,249.09 174.97,247.76" fill="#ff9535" stroke="#000" stroke-width="0.55" stroke-linejoin="round"/><polygon points="183.35,270.01 187.64,271.33 187.64,249.83 183.35,248.51" fill="#f07000" stroke="#000" stroke-width="0.55" stroke-linejoin="round"/><polygon points="187.64,271.33 190.84,268.94 190.84,247.44 187.64,249.83" fill="#8a3c00" stroke="#000" stroke-width="0.55" stroke-linejoin="round"/><polygon points="183.35,248.51 187.64,249.83 190.84,247.44 186.47,246.13" fill="#ff9535" stroke="#000" stroke-width="0.55" stroke-linejoin="round"/><polygon points="195.97,268.21 199.43,269.22 199.43,268.32 195.97,267.31" fill="#b8c840" stroke="#000" stroke-width="0.55" stroke-linejoin="round"/><polygon points="199.43,269.22 202.03,267.34 202.03,266.44 199.43,268.32" fill="#7a8428" stroke="#000" stroke-width="0.55" stroke-linejoin="round"/><polygon points="195.97,267.31 199.43,268.32 202.03,266.44 198.52,265.44" fill="#cbdc55" stroke="#000" stroke-width="0.55" stroke-linejoin="round"/><polygon points="168.08,275.17 171.23,276.24 171.23,275.34 168.08,274.27" fill="#b8c840" stroke="#000" stroke-width="0.55" stroke-linejoin="round"/><polygon points="171.23,276.24 173.63,274.39 173.63,273.49 171.23,275.34" fill="#7a8428" stroke="#000" stroke-width="0.55" stroke-linejoin="round"/><polygon points="168.08,274.27 171.23,275.34 173.63,273.49 170.42,272.43" fill="#cbdc55" stroke="#000" stroke-width="0.55" stroke-linejoin="round"/><polygon points="178.48,273.71 182.63,275.06 182.63,253.56 178.48,252.21" fill="#d8e460" stroke="#000" stroke-width="0.55" stroke-linejoin="round"/><polygon points="182.63,275.06 185.84,272.67 185.84,251.17 182.63,253.56" fill="#8a9432" stroke="#000" stroke-width="0.55" stroke-linejoin="round"/><polygon points="178.48,252.21 182.63,253.56 185.84,251.17 181.6,249.84" fill="#eef39a" stroke="#000" stroke-width="0.55" stroke-linejoin="round"/><polygon points="190.88,271.96 194.23,272.99 194.23,272.09 190.88,271.06" fill="#b8c840" stroke="#000" stroke-width="0.55" stroke-linejoin="round"/><polygon points="194.23,272.99 196.83,271.11 196.83,270.21 194.23,272.09" fill="#7a8428" stroke="#000" stroke-width="0.55" stroke-linejoin="round"/><polygon points="190.88,271.06 194.23,272.09 196.83,270.21 193.42,269.18" fill="#cbdc55" stroke="#000" stroke-width="0.55" stroke-linejoin="round"/><polygon points="174.38,277.31 177.54,278.38 177.54,277.48 174.38,276.41" fill="#b8c840" stroke="#000" stroke-width="0.55" stroke-linejoin="round"/><polygon points="177.54,278.38 180.03,276.52 180.03,275.62 177.54,277.48" fill="#7a8428" stroke="#000" stroke-width="0.55" stroke-linejoin="round"/><polygon points="174.38,276.41 177.54,277.48 180.03,275.62 176.83,274.56" fill="#cbdc55" stroke="#000" stroke-width="0.55" stroke-linejoin="round"/><polygon points="185.78,275.7 189.04,276.76 189.04,275.86 185.78,274.8" fill="#b8c840" stroke="#000" stroke-width="0.55" stroke-linejoin="round"/><polygon points="189.04,276.76 191.63,274.87 191.63,273.97 189.04,275.86" fill="#7a8428" stroke="#000" stroke-width="0.55" stroke-linejoin="round"/><polygon points="185.78,274.8 189.04,275.86 191.63,273.97 188.33,272.93" fill="#cbdc55" stroke="#000" stroke-width="0.55" stroke-linejoin="round"/><polygon points="180.69,279.45 183.84,280.52 183.84,279.62 180.69,278.55" fill="#b8c840" stroke="#000" stroke-width="0.55" stroke-linejoin="round"/><polygon points="183.84,280.52 186.44,278.64 186.44,277.74 183.84,279.62" fill="#7a8428" stroke="#000" stroke-width="0.55" stroke-linejoin="round"/><polygon points="180.69,278.55 183.84,279.62 186.44,277.74 183.23,276.68" fill="#cbdc55" stroke="#000" stroke-width="0.55" stroke-linejoin="round"/><path d="M182.4 280L194.2 270" stroke="#d8d8d8" stroke-width="0.7"/><path d="M205.1 245.2V267.2" stroke="#000" stroke-width="1.3"/><rect x="339.5" y="54" width="110.7" height="53.3" fill="#fffafa"/><clipPath id="hc33954l"><rect x="339.5" y="54" width="55.2" height="53.3"/></clipPath><clipPath id="hc33954r"><rect x="394.7" y="54" width="55.5" height="53.3"/></clipPath><g clip-path="url(#hc33954l)"><ellipse cx="365.1" cy="81.65" rx="24" ry="24" fill="#ff7a7a" fill-opacity="0.2" filter="url(#b3)"/><path d="M350.1 79.65 Q358.1 61.65 379.1 63.65" stroke="#ff6060" stroke-width="6" fill="none" opacity="0.3" filter="url(#b2)"/><ellipse cx="365.8" cy="62.45" rx="6" ry="1.5" fill="#7080f0" fill-opacity="0.35" filter="url(#b1)" transform="rotate(-8 365.8 62.45)"/><ellipse cx="368.1" cy="83.65" rx="17" ry="13.5" fill="#ff4040" fill-opacity="0.35" filter="url(#b3)" transform="rotate(-35 368.1 83.65)"/><path d="M354.6 84.15 Q357.1 97.65 369.1 96.65 Q377.1 95.65 380.1 90.65" stroke="#f01010" stroke-width="6.5" fill="none" stroke-linecap="round" filter="url(#b15)" opacity="0.92"/><path d="M380.6 67.65 Q369.1 74.65 357.1 84.65" stroke="#f00000" stroke-width="7" fill="none" stroke-linecap="round" filter="url(#b15)"/><ellipse cx="364.4" cy="88.15" rx="8" ry="6" fill="#ffffff" fill-opacity="0.95" filter="url(#b1)" transform="rotate(-30 364.4 88.15)"/><ellipse cx="379.1" cy="82.45" rx="5.6" ry="7.4" fill="#ffffff" fill-opacity="0.95" filter="url(#b1)" transform="rotate(20 379.1 82.45)"/><ellipse cx="361.1" cy="74.65" rx="7.2" ry="3.4" fill="#ffffff" fill-opacity="0.85" filter="url(#b1)" transform="rotate(-35 361.1 74.65)"/><ellipse cx="361.1" cy="74.45" rx="6" ry="2.4" fill="#4656e6" fill-opacity="0.9" filter="url(#b07)" transform="rotate(-35 361.1 74.45)"/><ellipse cx="364.4" cy="88.15" rx="5.8" ry="3.9" fill="#0010e0" fill-opacity="1" filter="url(#b07)" transform="rotate(-30 364.4 88.15)"/><ellipse cx="379.1" cy="82.45" rx="3.8" ry="5.6" fill="#0010e0" fill-opacity="1" filter="url(#b07)" transform="rotate(20 379.1 82.45)"/><ellipse cx="372" cy="84.65" rx="2.8" ry="3.4" fill="#a80000" fill-opacity="1" filter="url(#b07)" transform="rotate(20 372 84.65)"/></g><g clip-path="url(#hc33954r)"><circle cx="422.45" cy="80.65" r="17" fill="none" stroke="#ff6060" stroke-width="10" stroke-opacity="0.38" filter="url(#b3)"/><g filter="url(#b07)"><path d="M410.94 75.53 A12.6 12.6 0 0 1 417.33 69.14" stroke="#0010e0" stroke-width="2.6" fill="none" stroke-linecap="round"/><ellipse cx="413.82" cy="72.02" rx="4.0" ry="2.6" fill="#0010e0" transform="rotate(-45 413.82 72.02)"/></g><g filter="url(#b07)"><path d="M427.57 69.14 A12.6 12.6 0 0 1 433.96 75.53" stroke="#0010e0" stroke-width="2.6" fill="none" stroke-linecap="round"/><ellipse cx="431.08" cy="72.02" rx="4.0" ry="2.6" fill="#0010e0" transform="rotate(45 431.08 72.02)"/></g><g filter="url(#b07)"><path d="M433.96 85.77 A12.6 12.6 0 0 1 427.57 92.16" stroke="#0010e0" stroke-width="2.6" fill="none" stroke-linecap="round"/><ellipse cx="431.08" cy="89.28" rx="4.0" ry="2.6" fill="#0010e0" transform="rotate(135 431.08 89.28)"/></g><g filter="url(#b07)"><path d="M417.33 92.16 A12.6 12.6 0 0 1 410.94 85.77" stroke="#0010e0" stroke-width="2.6" fill="none" stroke-linecap="round"/><ellipse cx="413.82" cy="89.28" rx="4.0" ry="2.6" fill="#0010e0" transform="rotate(225 413.82 89.28)"/></g><ellipse cx="422.45" cy="72.65" rx="3.4" ry="3.4" fill="#ee0000" fill-opacity="1" filter="url(#b07)"/><ellipse cx="422.45" cy="88.65" rx="3.4" ry="3.4" fill="#ee0000" fill-opacity="1" filter="url(#b07)"/><ellipse cx="413.85" cy="80.65" rx="3.4" ry="3.4" fill="#ee0000" fill-opacity="1" filter="url(#b07)"/><ellipse cx="431.25" cy="80.65" rx="3.4" ry="3.4" fill="#ee0000" fill-opacity="1" filter="url(#b07)"/><ellipse cx="422.45" cy="80.65" rx="3.4" ry="3.4" fill="#a80000" fill-opacity="1" filter="url(#b07)"/></g><rect x="339.5" y="54" width="110.7" height="53.3" fill="none" stroke="#000" stroke-width="1.5"/><path d="M394.7 54V107.3" stroke="#000" stroke-width="1.5"/><rect x="565.6" y="54.3" width="110.6" height="52.9" fill="#fffafa"/><clipPath id="hc56554l"><rect x="565.6" y="54.3" width="55" height="52.9"/></clipPath><clipPath id="hc56554r"><rect x="620.6" y="54.3" width="55.6" height="52.9"/></clipPath><g clip-path="url(#hc56554l)"><ellipse cx="588.7" cy="81.25" rx="24" ry="9.5" fill="#ff8080" fill-opacity="0.35" filter="url(#b3)"/><ellipse cx="588.7" cy="81.05" rx="16" ry="3.2" fill="#f00000" fill-opacity="0.9" filter="url(#b15)"/><ellipse cx="573.5" cy="81.35" rx="6" ry="6.4" fill="#f00000" fill-opacity="1" filter="url(#b2)"/><ellipse cx="603.7" cy="80.95" rx="6" ry="6.4" fill="#f00000" fill-opacity="1" filter="url(#b2)"/><ellipse cx="588.7" cy="75.35" rx="9" ry="3.2" fill="#ffffff" fill-opacity="0.9" filter="url(#b1)"/><ellipse cx="588.7" cy="85.35" rx="9" ry="3.6" fill="#ffffff" fill-opacity="0.9" filter="url(#b1)"/><ellipse cx="588.9" cy="80.55" rx="8" ry="1.7" fill="#d00000" fill-opacity="1" filter="url(#b07)"/><ellipse cx="588.9" cy="80.55" rx="4.5" ry="1.3" fill="#800000" fill-opacity="1" filter="url(#b07)"/><ellipse cx="589" cy="75.25" rx="7.2" ry="1.9" fill="#0010e0" fill-opacity="1" filter="url(#b07)"/><ellipse cx="588.9" cy="85.15" rx="7.2" ry="2.2" fill="#0010e0" fill-opacity="1" filter="url(#b07)"/></g><g clip-path="url(#hc56554r)"><ellipse cx="648.4" cy="80.75" rx="28" ry="10" fill="#ff8a8a" fill-opacity="0.25" filter="url(#b3)"/><ellipse cx="628.6" cy="80.75" rx="5.4" ry="6.6" fill="#f00000" fill-opacity="1" filter="url(#b2)"/><ellipse cx="667.9" cy="80.75" rx="5.4" ry="6.6" fill="#f00000" fill-opacity="1" filter="url(#b2)"/><ellipse cx="648.4" cy="73.05" rx="9.5" ry="1.3" fill="#f03030" fill-opacity="0.75" filter="url(#b07)"/><ellipse cx="648.4" cy="76.95" rx="10" ry="1.8" fill="#0010e0" fill-opacity="1" filter="url(#b07)"/><ellipse cx="648.4" cy="80.95" rx="9.8" ry="1.9" fill="#c80000" fill-opacity="1" filter="url(#b07)"/><ellipse cx="648.4" cy="84.75" rx="9.3" ry="1.8" fill="#0010e0" fill-opacity="1" filter="url(#b07)"/><ellipse cx="648.4" cy="88.25" rx="7.5" ry="1.3" fill="#f03030" fill-opacity="0.75" filter="url(#b07)"/><ellipse cx="648.4" cy="91.75" rx="7.5" ry="1.2" fill="#6070f0" fill-opacity="0.3" filter="url(#b1)"/><ellipse cx="648.4" cy="69.25" rx="5" ry="1" fill="#6070f0" fill-opacity="0.25" filter="url(#b1)"/></g><rect x="565.6" y="54.3" width="110.6" height="52.9" fill="none" stroke="#000" stroke-width="1.5"/><path d="M620.6 54.3V107.2" stroke="#000" stroke-width="1.5"/><rect x="339.5" y="233.5" width="110.7" height="53.3" fill="#fffafa"/><clipPath id="hc339233l"><rect x="339.5" y="233.5" width="55.2" height="53.3"/></clipPath><clipPath id="hc339233r"><rect x="394.7" y="233.5" width="55.5" height="53.3"/></clipPath><g clip-path="url(#hc339233l)"><ellipse cx="365.1" cy="261.15" rx="24" ry="24" fill="#ff7a7a" fill-opacity="0.2" filter="url(#b3)"/><path d="M350.1 259.15 Q358.1 241.15 379.1 243.15" stroke="#ff6060" stroke-width="6" fill="none" opacity="0.3" filter="url(#b2)"/><ellipse cx="365.8" cy="241.95" rx="6" ry="1.5" fill="#7080f0" fill-opacity="0.35" filter="url(#b1)" transform="rotate(-8 365.8 241.95)"/><ellipse cx="368.1" cy="263.15" rx="17" ry="13.5" fill="#ff4040" fill-opacity="0.35" filter="url(#b3)" transform="rotate(-35 368.1 263.15)"/><path d="M354.6 263.65 Q357.1 277.15 369.1 276.15 Q377.1 275.15 380.1 270.15" stroke="#f01010" stroke-width="6.5" fill="none" stroke-linecap="round" filter="url(#b15)" opacity="0.92"/><path d="M380.6 247.15 Q369.1 254.15 357.1 264.15" stroke="#f00000" stroke-width="7" fill="none" stroke-linecap="round" filter="url(#b15)"/><ellipse cx="364.4" cy="267.65" rx="8" ry="6" fill="#ffffff" fill-opacity="0.95" filter="url(#b1)" transform="rotate(-30 364.4 267.65)"/><ellipse cx="379.1" cy="261.95" rx="5.6" ry="7.4" fill="#ffffff" fill-opacity="0.95" filter="url(#b1)" transform="rotate(20 379.1 261.95)"/><ellipse cx="361.1" cy="254.15" rx="7.2" ry="3.4" fill="#ffffff" fill-opacity="0.85" filter="url(#b1)" transform="rotate(-35 361.1 254.15)"/><ellipse cx="361.1" cy="253.95" rx="6" ry="2.4" fill="#4656e6" fill-opacity="0.9" filter="url(#b07)" transform="rotate(-35 361.1 253.95)"/><ellipse cx="364.4" cy="267.65" rx="5.8" ry="3.9" fill="#0010e0" fill-opacity="1" filter="url(#b07)" transform="rotate(-30 364.4 267.65)"/><ellipse cx="379.1" cy="261.95" rx="3.8" ry="5.6" fill="#0010e0" fill-opacity="1" filter="url(#b07)" transform="rotate(20 379.1 261.95)"/><ellipse cx="372" cy="264.15" rx="2.8" ry="3.4" fill="#a80000" fill-opacity="1" filter="url(#b07)" transform="rotate(20 372 264.15)"/></g><g clip-path="url(#hc339233r)"><circle cx="422.45" cy="260.15" r="17" fill="none" stroke="#ff6060" stroke-width="10" stroke-opacity="0.38" filter="url(#b3)"/><g filter="url(#b07)"><path d="M410.94 255.03 A12.6 12.6 0 0 1 417.33 248.64" stroke="#0010e0" stroke-width="2.6" fill="none" stroke-linecap="round"/><ellipse cx="413.82" cy="251.52" rx="4.0" ry="2.6" fill="#0010e0" transform="rotate(-45 413.82 251.52)"/></g><g filter="url(#b07)"><path d="M427.57 248.64 A12.6 12.6 0 0 1 433.96 255.03" stroke="#0010e0" stroke-width="2.6" fill="none" stroke-linecap="round"/><ellipse cx="431.08" cy="251.52" rx="4.0" ry="2.6" fill="#0010e0" transform="rotate(45 431.08 251.52)"/></g><g filter="url(#b07)"><path d="M433.96 265.27 A12.6 12.6 0 0 1 427.57 271.66" stroke="#0010e0" stroke-width="2.6" fill="none" stroke-linecap="round"/><ellipse cx="431.08" cy="268.78" rx="4.0" ry="2.6" fill="#0010e0" transform="rotate(135 431.08 268.78)"/></g><g filter="url(#b07)"><path d="M417.33 271.66 A12.6 12.6 0 0 1 410.94 265.27" stroke="#0010e0" stroke-width="2.6" fill="none" stroke-linecap="round"/><ellipse cx="413.82" cy="268.78" rx="4.0" ry="2.6" fill="#0010e0" transform="rotate(225 413.82 268.78)"/></g><ellipse cx="422.45" cy="252.15" rx="3.4" ry="3.4" fill="#ee0000" fill-opacity="1" filter="url(#b07)"/><ellipse cx="422.45" cy="268.15" rx="3.4" ry="3.4" fill="#ee0000" fill-opacity="1" filter="url(#b07)"/><ellipse cx="413.85" cy="260.15" rx="3.4" ry="3.4" fill="#ee0000" fill-opacity="1" filter="url(#b07)"/><ellipse cx="431.25" cy="260.15" rx="3.4" ry="3.4" fill="#ee0000" fill-opacity="1" filter="url(#b07)"/><ellipse cx="422.45" cy="260.15" rx="3.4" ry="3.4" fill="#a80000" fill-opacity="1" filter="url(#b07)"/></g><rect x="339.5" y="233.5" width="110.7" height="53.3" fill="none" stroke="#000" stroke-width="1.5"/><path d="M394.7 233.5V286.8" stroke="#000" stroke-width="1.5"/><rect x="565.6" y="233.8" width="110.6" height="52.9" fill="#fffafa"/><clipPath id="hc565233l"><rect x="565.6" y="233.8" width="55" height="52.9"/></clipPath><clipPath id="hc565233r"><rect x="620.6" y="233.8" width="55.6" height="52.9"/></clipPath><g clip-path="url(#hc565233l)"><ellipse cx="588.7" cy="260.75" rx="24" ry="9.5" fill="#ff8080" fill-opacity="0.35" filter="url(#b3)"/><ellipse cx="588.7" cy="260.55" rx="16" ry="3.2" fill="#f00000" fill-opacity="0.9" filter="url(#b15)"/><ellipse cx="573.5" cy="260.85" rx="6" ry="6.4" fill="#f00000" fill-opacity="1" filter="url(#b2)"/><ellipse cx="603.7" cy="260.45" rx="6" ry="6.4" fill="#f00000" fill-opacity="1" filter="url(#b2)"/><ellipse cx="588.7" cy="254.85" rx="9" ry="3.2" fill="#ffffff" fill-opacity="0.9" filter="url(#b1)"/><ellipse cx="588.7" cy="264.85" rx="9" ry="3.6" fill="#ffffff" fill-opacity="0.9" filter="url(#b1)"/><ellipse cx="588.9" cy="260.05" rx="8" ry="1.7" fill="#d00000" fill-opacity="1" filter="url(#b07)"/><ellipse cx="588.9" cy="260.05" rx="4.5" ry="1.3" fill="#800000" fill-opacity="1" filter="url(#b07)"/><ellipse cx="589" cy="254.75" rx="7.2" ry="1.9" fill="#0010e0" fill-opacity="1" filter="url(#b07)"/><ellipse cx="588.9" cy="264.65" rx="7.2" ry="2.2" fill="#0010e0" fill-opacity="1" filter="url(#b07)"/></g><g clip-path="url(#hc565233r)"><ellipse cx="648.4" cy="260.25" rx="28" ry="10" fill="#ff8a8a" fill-opacity="0.25" filter="url(#b3)"/><ellipse cx="628.6" cy="260.25" rx="5.4" ry="6.6" fill="#f00000" fill-opacity="1" filter="url(#b2)"/><ellipse cx="667.9" cy="260.25" rx="5.4" ry="6.6" fill="#f00000" fill-opacity="1" filter="url(#b2)"/><ellipse cx="648.4" cy="252.55" rx="9.5" ry="1.3" fill="#f03030" fill-opacity="0.75" filter="url(#b07)"/><ellipse cx="648.4" cy="256.45" rx="10" ry="1.8" fill="#0010e0" fill-opacity="1" filter="url(#b07)"/><ellipse cx="648.4" cy="260.45" rx="9.8" ry="1.9" fill="#c80000" fill-opacity="1" filter="url(#b07)"/><ellipse cx="648.4" cy="264.25" rx="9.3" ry="1.8" fill="#0010e0" fill-opacity="1" filter="url(#b07)"/><ellipse cx="648.4" cy="267.75" rx="7.5" ry="1.3" fill="#f03030" fill-opacity="0.75" filter="url(#b07)"/><ellipse cx="648.4" cy="271.25" rx="7.5" ry="1.2" fill="#6070f0" fill-opacity="0.3" filter="url(#b1)"/><ellipse cx="648.4" cy="248.75" rx="5" ry="1" fill="#6070f0" fill-opacity="0.25" filter="url(#b1)"/></g><rect x="565.6" y="233.8" width="110.6" height="52.9" fill="none" stroke="#000" stroke-width="1.5"/><path d="M620.6 233.8V286.7" stroke="#000" stroke-width="1.5"/><text x="18.0" y="56.3" text-anchor="end" font-family="Liberation Serif" font-weight="bold" font-size="14.4" textLength="17.0" lengthAdjust="spacingAndGlyphs">(a)</text><text x="258.9" y="56.3" text-anchor="end" font-family="Liberation Serif" font-weight="bold" font-size="14.4" textLength="17.0" lengthAdjust="spacingAndGlyphs">(b)</text><text x="484.9" y="56.3" text-anchor="end" font-family="Liberation Serif" font-weight="bold" font-size="14.4" textLength="15.6" lengthAdjust="spacingAndGlyphs">(c)</text><text x="17.6" y="235.8" text-anchor="end" font-family="Liberation Serif" font-weight="bold" font-size="14.4" textLength="17.0" lengthAdjust="spacingAndGlyphs">(d)</text><text x="258.9" y="235.8" text-anchor="end" font-family="Liberation Serif" font-weight="bold" font-size="14.4" textLength="15.6" lengthAdjust="spacingAndGlyphs">(e)</text><text x="484.9" y="235.8" text-anchor="end" font-family="Liberation Serif" font-weight="bold" font-size="14.4" textLength="15.6" lengthAdjust="spacingAndGlyphs">(f)</text><text transform="translate(16.2,122.8) rotate(-90)" text-anchor="middle" font-family="Liberation Serif" font-size="12.2" textLength="48.6" lengthAdjust="spacingAndGlyphs">Infidelity</text><text transform="translate(16.2,302.0) rotate(-90)" text-anchor="middle" font-family="Liberation Serif" font-size="12.2" textLength="48.6" lengthAdjust="spacingAndGlyphs">Infidelity</text><text x="379" y="409.1" text-anchor="middle" font-family="Liberation Serif" font-size="11.0" textLength="54.0" lengthAdjust="spacingAndGlyphs">Timesteps</text><line x1="73.8" y1="5.1" x2="100.1" y2="5.1" stroke="#1965a8" stroke-width="1.6"/><text x="109.5" y="9.95" font-family="Liberation Serif" font-size="13.6" textLength="6.3" lengthAdjust="spacingAndGlyphs">0</text><text x="121" y="10" font-family="Liberation Serif" font-size="13.8">%</text><line x1="73.8" y1="22.4" x2="100.1" y2="22.4" stroke="#0cb84a" stroke-width="1.6"/><text x="109.5" y="27.25" font-family="Liberation Serif" font-size="13.6" textLength="6.3" lengthAdjust="spacingAndGlyphs">5</text><text x="121" y="27.3" font-family="Liberation Serif" font-size="13.8">%</text><line x1="237.8" y1="5.1" x2="264.1" y2="5.1" stroke="#ff980f" stroke-width="1.6"/><text x="273.5" y="9.95" font-family="Liberation Serif" font-size="13.6" textLength="12.7" lengthAdjust="spacingAndGlyphs">10</text><text x="291.4" y="10" font-family="Liberation Serif" font-size="13.8">%</text><line x1="237.8" y1="22.4" x2="264.1" y2="22.4" stroke="#fe2f08" stroke-width="1.6"/><text x="273.5" y="27.25" font-family="Liberation Serif" font-size="13.6" textLength="12.7" lengthAdjust="spacingAndGlyphs">15</text><text x="291.4" y="27.3" font-family="Liberation Serif" font-size="13.8">%</text><line x1="408.0" y1="5.1" x2="434.3" y2="5.1" stroke="#8b6299" stroke-width="1.6"/><text x="443.7" y="9.95" font-family="Liberation Serif" font-size="13.6" textLength="12.7" lengthAdjust="spacingAndGlyphs">20</text><text x="461.6" y="10" font-family="Liberation Serif" font-size="13.8">%</text><line x1="408.0" y1="22.4" x2="434.3" y2="22.4" stroke="#444444" stroke-width="1.6"/><text x="443.7" y="27.25" font-family="Liberation Serif" font-size="13.6" textLength="12.7" lengthAdjust="spacingAndGlyphs">25</text><text x="461.6" y="27.3" font-family="Liberation Serif" font-size="13.8">%</text><line x1="578.8" y1="5.1" x2="605.0999999999999" y2="5.1" stroke="#a0a0a0" stroke-width="1.6"/><text x="614.5" y="9.95" font-family="Liberation Serif" font-size="13.6" textLength="12.7" lengthAdjust="spacingAndGlyphs">30</text><text x="632.4" y="10" font-family="Liberation Serif" font-size="13.8">%</text>
</svg>
</body></html>
